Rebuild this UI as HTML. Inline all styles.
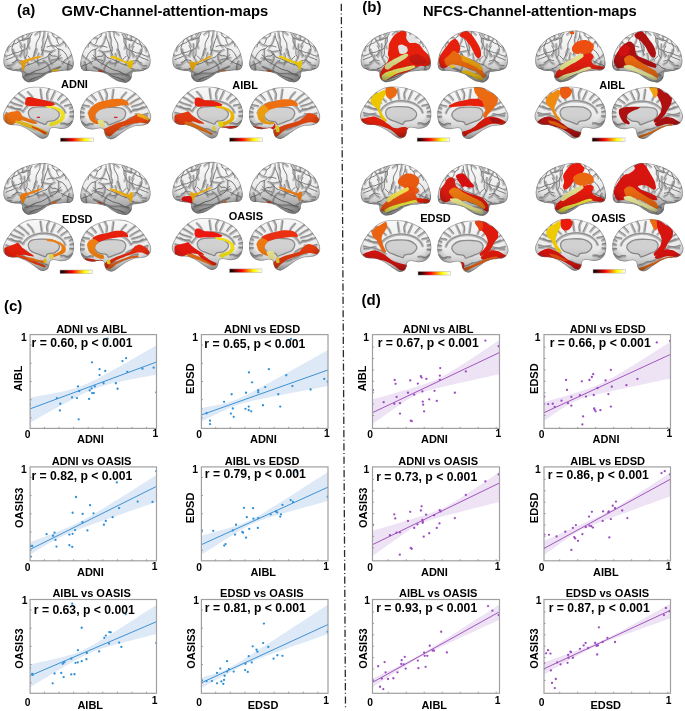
<!DOCTYPE html><html><head><meta charset="utf-8"><style>html,body{margin:0;padding:0;background:#fff;}svg{display:block;}</style></head><body><svg width="685" height="711" viewBox="0 0 685 711" font-family="'Liberation Sans', Arial, Helvetica, sans-serif" font-weight="bold">
<rect width="685" height="711" fill="#fff"/>
<defs><linearGradient id="gl" x1="0" y1="0" x2="0" y2="1"><stop offset="0" stop-color="#fafafa"/><stop offset="0.55" stop-color="#eeeeee"/><stop offset="1" stop-color="#c8c8c8"/></linearGradient><linearGradient id="gm" x1="0" y1="0" x2="0" y2="1"><stop offset="0" stop-color="#f8f8f8"/><stop offset="0.7" stop-color="#ececec"/><stop offset="1" stop-color="#cccccc"/></linearGradient><linearGradient id="shL" x1="0" y1="0" x2="0" y2="1"><stop offset="0" stop-color="#000" stop-opacity="0"/><stop offset="0.55" stop-color="#000" stop-opacity="0.02"/><stop offset="1" stop-color="#000" stop-opacity="0.22"/></linearGradient><radialGradient id="rimL" cx="0.5" cy="0.42" r="0.62"><stop offset="0.7" stop-color="#000" stop-opacity="0"/><stop offset="1" stop-color="#000" stop-opacity="0.30"/></radialGradient><filter id="tb" x="-0.2" y="-0.2" width="1.4" height="1.4"><feGaussianBlur stdDeviation="1.5"/></filter><filter id="sb" x="-0.1" y="-0.1" width="1.2" height="1.2" color-interpolation-filters="sRGB"><feGaussianBlur stdDeviation="0.7"/></filter><filter id="tex" x="0" y="0" width="71" height="53" filterUnits="userSpaceOnUse" color-interpolation-filters="sRGB"><feTurbulence type="turbulence" baseFrequency="0.11 0.15" numOctaves="2" seed="11"/><feColorMatrix type="matrix" values="0 0 0 0 0.38  0 0 0 0 0.38  0 0 0 0 0.38  -3.4 0 0 0 1.0"/></filter><filter id="texm" x="0" y="0" width="71" height="53" filterUnits="userSpaceOnUse" color-interpolation-filters="sRGB"><feTurbulence type="turbulence" baseFrequency="0.10 0.13" numOctaves="2" seed="4"/><feColorMatrix type="matrix" values="0 0 0 0 0.40  0 0 0 0 0.40  0 0 0 0 0.40  -3.4 0 0 0 0.9"/></filter><path id="latO" d="M0.40,31.00 C0.40,28.43 1.15,24.55 2.10,21.90 C3.05,19.25 4.30,17.28 6.10,15.10 C7.90,12.92 10.25,10.60 12.90,8.80 C15.55,7.00 18.77,5.53 22.00,4.30 C25.23,3.07 28.87,1.98 32.30,1.40 C35.73,0.82 39.37,0.42 42.60,0.80 C45.83,1.18 48.87,2.27 51.70,3.70 C54.53,5.13 57.13,6.93 59.60,9.40 C62.07,11.87 64.78,15.47 66.50,18.50 C68.22,21.53 69.23,24.75 69.90,27.60 C70.57,30.45 70.88,33.52 70.50,35.60 C70.12,37.68 69.22,39.25 67.60,40.10 C65.98,40.95 63.45,40.42 60.80,40.70 C58.15,40.98 54.37,41.32 51.70,41.80 C49.03,42.28 47.08,42.55 44.80,43.60 C42.52,44.65 40.27,46.78 38.00,48.10 C35.73,49.42 33.48,50.83 31.20,51.50 C28.92,52.17 26.20,52.67 24.30,52.10 C22.40,51.53 20.75,49.72 19.80,48.10 C18.85,46.48 19.55,43.53 18.60,42.40 C17.65,41.27 15.98,41.68 14.10,41.30 C12.22,40.92 9.30,40.77 7.30,40.10 C5.30,39.43 3.25,38.82 2.10,37.30 C0.95,35.78 0.40,33.57 0.40,31.00Z"/><path id="medO" d="M0.00,30.70 C-0.18,28.62 0.55,26.55 1.80,23.90 C3.05,21.25 5.42,17.55 7.50,14.80 C9.58,12.05 11.83,9.48 14.30,7.40 C16.77,5.32 19.45,3.45 22.30,2.30 C25.15,1.15 27.98,0.70 31.40,0.50 C34.82,0.30 39.00,0.43 42.80,1.10 C46.60,1.77 50.78,2.98 54.20,4.50 C57.62,6.02 60.83,7.92 63.30,10.20 C65.77,12.48 67.68,15.53 69.00,18.20 C70.32,20.87 71.02,23.35 71.20,26.20 C71.38,29.05 71.05,32.83 70.10,35.30 C69.15,37.77 67.40,39.77 65.50,41.00 C63.60,42.23 61.17,42.62 58.70,42.70 C56.23,42.78 52.60,41.40 50.70,41.50 C48.80,41.60 48.05,42.25 47.30,43.30 C46.55,44.35 46.77,46.48 46.20,47.80 C45.63,49.12 45.05,50.43 43.90,51.20 C42.75,51.97 40.82,52.58 39.30,52.40 C37.78,52.22 36.88,51.43 34.80,50.10 C32.72,48.77 29.65,46.12 26.80,44.40 C23.95,42.68 20.73,40.75 17.70,39.80 C14.67,38.85 11.07,39.27 8.60,38.70 C6.13,38.13 4.33,37.73 2.90,36.40 C1.47,35.07 0.18,32.78 0.00,30.70Z"/><path id="ccO" d="M25.70,25.00 C26.18,23.67 27.20,22.35 29.10,21.60 C31.00,20.85 33.87,20.60 37.10,20.50 C40.33,20.40 45.47,20.25 48.50,21.00 C51.53,21.75 53.98,23.57 55.30,25.00 C56.62,26.43 56.97,28.08 56.40,29.60 C55.83,31.12 53.80,33.15 51.90,34.10 C50.00,35.05 46.52,34.63 45.00,35.30 C43.48,35.97 43.75,37.82 42.80,38.10 C41.85,38.38 40.63,37.47 39.30,37.00 C37.97,36.53 36.50,35.97 34.80,35.30 C33.10,34.63 30.53,33.95 29.10,33.00 C27.67,32.05 26.77,30.93 26.20,29.60 C25.63,28.27 25.22,26.33 25.70,25.00Z"/><clipPath id="clL"><use href="#latO"/></clipPath><clipPath id="clM"><use href="#medO"/></clipPath><g id="baseL"><use href="#latO" fill="url(#gl)"/><g clip-path="url(#clL)"><path d="M-4.22,-7.50 C-4.27,-6.85 -4.73,-4.86 -4.49,-3.63 C-4.25,-2.41 -3.63,-1.06 -2.79,-0.15 C-1.95,0.76 -0.01,1.49 0.55,1.82 M2.76,-3.88 C3.54,-3.88 5.93,-4.17 7.42,-3.86 C8.91,-3.55 10.26,-2.61 11.70,-2.01 C13.13,-1.42 15.30,-0.57 16.02,-0.28 M21.77,-9.69 C21.33,-9.11 20.15,-7.20 19.11,-6.19 C18.07,-5.17 16.82,-4.32 15.56,-3.59 C14.29,-2.85 12.21,-2.07 11.55,-1.77 M26.14,-4.48 C26.15,-3.94 26.41,-2.25 26.20,-1.21 C25.99,-0.17 25.30,0.77 24.87,1.77 C24.44,2.78 23.84,4.30 23.64,4.80 M42.14,-4.36 C41.69,-3.76 40.53,-1.75 39.45,-0.74 C38.37,0.27 36.89,0.84 35.66,1.70 C34.42,2.55 32.64,3.93 32.03,4.38 M46.90,-3.63 C47.21,-3.25 48.39,-2.22 48.76,-1.35 C49.14,-0.49 48.97,0.60 49.13,1.56 C49.29,2.53 49.63,3.96 49.73,4.44 M57.81,-8.09 C57.69,-7.53 57.38,-5.83 57.09,-4.73 C56.79,-3.62 56.43,-2.53 56.02,-1.46 C55.61,-0.39 54.86,1.16 54.63,1.68 M73.19,-3.47 C72.47,-3.59 70.27,-3.81 68.87,-4.21 C67.47,-4.60 66.20,-5.56 64.80,-5.81 C63.39,-6.06 61.15,-5.70 60.42,-5.68 M9.90,6.00 C9.30,6.20 7.39,6.63 6.30,7.24 C5.21,7.84 4.44,9.05 3.34,9.62 C2.23,10.20 0.29,10.50 -0.32,10.68 M7.19,8.14 C7.92,8.16 10.18,8.57 11.56,8.25 C12.94,7.94 14.09,6.69 15.46,6.28 C16.84,5.87 19.09,5.89 19.81,5.81 M21.21,-2.55 C20.90,-1.92 19.60,-0.11 19.36,1.22 C19.11,2.55 19.71,4.01 19.74,5.41 C19.77,6.81 19.58,8.91 19.55,9.61 M28.72,0.90 C28.27,1.49 26.93,3.25 26.04,4.42 C25.14,5.60 24.48,7.12 23.33,7.93 C22.17,8.74 19.82,9.07 19.11,9.30 M41.65,-0.21 C41.57,0.24 41.25,1.57 41.12,2.47 C41.00,3.37 41.03,4.29 40.89,5.19 C40.76,6.08 40.40,7.41 40.30,7.85 M52.23,0.54 C51.68,0.52 49.97,0.74 48.93,0.47 C47.90,0.19 47.04,-0.65 46.04,-1.10 C45.04,-1.55 43.46,-2.04 42.94,-2.23 M62.93,1.56 C62.52,2.05 61.32,3.58 60.42,4.49 C59.52,5.40 58.63,6.48 57.51,7.02 C56.40,7.57 54.36,7.63 53.72,7.75 M72.60,2.25 C72.33,2.70 71.73,4.27 70.99,4.95 C70.25,5.64 69.12,5.90 68.17,6.35 C67.23,6.80 65.80,7.45 65.33,7.67 M-1.00,5.20 C-0.72,5.77 0.21,7.46 0.69,8.63 C1.17,9.81 1.59,11.03 1.89,12.27 C2.19,13.50 2.40,15.41 2.50,16.04 M3.91,9.00 C4.10,9.64 4.83,11.54 5.05,12.86 C5.27,14.17 5.34,15.56 5.21,16.88 C5.07,18.20 4.39,20.13 4.23,20.78 M12.45,4.48 C12.82,5.15 13.88,7.18 14.65,8.51 C15.42,9.83 16.33,11.08 17.06,12.42 C17.78,13.77 18.69,15.88 19.01,16.58 M25.52,8.14 C25.43,8.70 25.03,10.38 24.99,11.51 C24.94,12.63 25.09,13.78 25.27,14.90 C25.44,16.02 25.91,17.66 26.04,18.21 M40.81,5.57 C40.62,6.23 39.83,8.20 39.68,9.55 C39.53,10.90 40.09,12.34 39.92,13.68 C39.75,15.03 38.87,16.97 38.66,17.62 M45.34,6.19 C45.49,6.85 45.79,8.88 46.21,10.16 C46.64,11.43 47.22,12.69 47.90,13.85 C48.58,15.01 49.89,16.59 50.29,17.14 M61.06,11.38 C60.69,11.72 59.64,12.81 58.85,13.42 C58.06,14.03 57.24,14.71 56.32,15.04 C55.40,15.36 53.83,15.30 53.33,15.35 M62.51,6.99 C62.89,7.47 64.26,8.82 64.83,9.90 C65.41,10.98 65.83,12.24 65.95,13.45 C66.08,14.66 65.64,16.54 65.58,17.16 M-2.52,15.74 C-2.39,16.39 -2.12,18.36 -1.75,19.62 C-1.38,20.88 -1.01,22.23 -0.28,23.28 C0.45,24.34 2.14,25.52 2.63,25.96 M9.86,19.24 C10.03,19.78 10.48,21.40 10.86,22.45 C11.24,23.50 11.67,24.54 12.15,25.55 C12.64,26.56 13.51,28.00 13.78,28.49 M21.20,13.98 C21.24,14.74 21.79,17.12 21.46,18.53 C21.12,19.94 19.87,21.12 19.16,22.46 C18.45,23.80 17.51,25.88 17.19,26.57 M33.49,18.88 C33.30,19.54 32.84,21.59 32.33,22.87 C31.82,24.15 31.07,25.34 30.41,26.56 C29.76,27.78 28.75,29.60 28.42,30.20 M38.88,16.99 C38.88,17.46 38.77,18.87 38.89,19.79 C39.02,20.71 39.55,21.59 39.62,22.50 C39.68,23.42 39.36,24.82 39.30,25.29 M51.73,19.85 C51.03,20.12 48.97,21.29 47.52,21.47 C46.07,21.66 44.51,21.20 43.03,20.97 C41.55,20.73 39.35,20.20 38.61,20.05 M55.48,19.07 C55.49,19.61 55.53,21.24 55.54,22.33 C55.54,23.42 55.45,24.51 55.49,25.60 C55.53,26.68 55.73,28.31 55.78,28.85 M72.61,18.23 C72.35,18.69 71.54,20.05 71.02,20.97 C70.50,21.90 70.14,22.94 69.50,23.76 C68.85,24.57 67.53,25.52 67.14,25.88 M-1.38,22.04 C-1.28,22.75 -0.72,24.88 -0.77,26.29 C-0.81,27.71 -1.03,29.26 -1.65,30.50 C-2.27,31.75 -3.99,33.22 -4.46,33.76 M4.47,35.45 C5.12,35.38 7.20,35.51 8.37,35.06 C9.55,34.60 10.60,33.63 11.52,32.72 C12.45,31.81 13.52,30.13 13.92,29.61 M14.09,25.24 C14.05,25.84 13.56,27.72 13.82,28.84 C14.07,29.96 14.79,31.15 15.62,31.97 C16.44,32.79 18.23,33.46 18.76,33.75 M21.34,21.42 C21.32,22.19 20.88,24.58 21.21,26.03 C21.54,27.49 22.60,28.78 23.30,30.15 C23.99,31.53 25.03,33.59 25.37,34.27 M35.44,23.16 C35.30,23.81 34.76,25.73 34.59,27.03 C34.42,28.34 34.22,29.70 34.40,30.99 C34.58,32.27 35.44,34.12 35.65,34.74 M47.20,22.34 C46.97,22.99 45.96,24.89 45.85,26.21 C45.74,27.53 46.06,29.00 46.53,30.25 C47.01,31.51 48.33,33.16 48.69,33.74 M58.15,27.75 C57.60,27.93 56.00,28.55 54.89,28.83 C53.79,29.11 52.63,29.18 51.52,29.43 C50.40,29.67 48.76,30.15 48.20,30.29 M67.22,26.40 C66.73,26.73 65.26,27.69 64.31,28.37 C63.36,29.04 62.31,29.64 61.50,30.46 C60.69,31.29 59.79,32.83 59.45,33.31 M0.46,44.30 C0.70,43.77 1.18,42.00 1.87,41.08 C2.55,40.16 3.52,39.29 4.54,38.80 C5.57,38.32 7.43,38.27 8.00,38.17 M6.75,39.96 C7.27,40.05 8.85,40.58 9.89,40.53 C10.92,40.49 11.92,39.76 12.96,39.68 C14.00,39.59 15.60,39.95 16.13,40.01 M16.98,39.60 C17.56,39.93 19.34,40.85 20.48,41.55 C21.62,42.24 22.60,43.31 23.82,43.75 C25.04,44.19 27.13,44.11 27.80,44.18 M30.19,28.98 C30.70,29.46 32.06,31.21 33.24,31.88 C34.43,32.56 35.94,32.97 37.30,33.02 C38.67,33.06 40.74,32.29 41.43,32.14 M40.28,30.45 C40.86,30.88 42.83,31.98 43.77,33.04 C44.71,34.10 45.35,35.49 45.93,36.81 C46.52,38.13 47.05,40.26 47.27,40.95 M46.17,42.39 C46.71,41.92 48.20,40.33 49.39,39.59 C50.58,38.86 52.01,38.50 53.33,37.96 C54.65,37.43 56.63,36.64 57.29,36.38 M66.19,31.15 C65.97,31.88 65.14,34.01 64.85,35.49 C64.55,36.96 64.63,38.51 64.44,40.00 C64.25,41.50 63.81,43.73 63.69,44.48 M70.50,32.00 C70.53,32.53 70.78,34.12 70.68,35.16 C70.59,36.20 70.10,37.20 69.91,38.23 C69.72,39.27 69.60,40.85 69.54,41.38 M-7.31,48.60 C-7.03,48.08 -6.18,46.55 -5.62,45.52 C-5.06,44.50 -4.73,43.24 -3.94,42.45 C-3.15,41.66 -1.38,41.05 -0.87,40.77 M3.20,52.89 C3.75,52.51 5.35,51.24 6.53,50.60 C7.71,49.95 9.02,49.54 10.27,49.04 C11.52,48.53 13.41,47.80 14.04,47.56 M12.82,45.61 C13.31,45.57 14.81,45.32 15.78,45.40 C16.75,45.48 17.82,45.63 18.67,46.07 C19.52,46.51 20.51,47.71 20.88,48.04 M22.08,45.64 C22.57,45.55 24.13,45.44 25.06,45.08 C25.99,44.73 26.77,43.99 27.66,43.51 C28.55,43.03 29.95,42.42 30.41,42.20 M27.92,44.37 C28.66,44.22 30.89,43.57 32.40,43.46 C33.91,43.34 35.44,43.67 36.97,43.66 C38.49,43.65 40.77,43.44 41.53,43.39 M44.35,50.08 C44.49,49.58 44.93,48.09 45.21,47.10 C45.48,46.10 45.80,45.11 45.99,44.09 C46.18,43.08 46.28,41.53 46.34,41.01 M47.68,49.20 C48.03,48.59 48.80,46.47 49.78,45.55 C50.76,44.63 52.31,44.32 53.56,43.68 C54.81,43.04 56.67,42.05 57.29,41.72 M58.99,44.31 C59.66,44.57 61.66,45.37 63.00,45.87 C64.35,46.38 65.79,46.69 67.05,47.35 C68.32,48.00 69.99,49.41 70.58,49.83 M-1.71,53.03 C-0.95,53.10 1.36,53.53 2.86,53.41 C4.37,53.29 5.93,52.89 7.32,52.30 C8.70,51.71 10.55,50.27 11.20,49.86 M8.02,52.40 C8.73,52.55 10.86,53.29 12.29,53.34 C13.73,53.38 15.24,53.08 16.62,52.66 C17.99,52.23 19.90,51.08 20.56,50.77 M13.37,53.62 C14.11,53.66 16.43,53.46 17.83,53.85 C19.23,54.24 20.39,55.40 21.77,55.95 C23.14,56.49 25.36,56.93 26.08,57.12 M28.59,59.75 C28.97,59.46 30.20,58.69 30.87,58.03 C31.55,57.38 32.13,56.60 32.66,55.81 C33.19,55.02 33.81,53.73 34.04,53.31 M39.41,60.33 C39.58,59.80 40.09,58.22 40.42,57.15 C40.75,56.09 41.25,55.04 41.37,53.96 C41.50,52.87 41.21,51.18 41.18,50.63 M45.86,60.24 C46.23,59.73 47.46,58.27 48.04,57.17 C48.61,56.07 48.78,54.77 49.31,53.64 C49.85,52.52 50.94,50.97 51.26,50.43 M53.28,55.29 C53.55,55.68 54.31,56.90 54.91,57.64 C55.51,58.38 56.35,58.94 56.87,59.72 C57.40,60.50 57.87,61.89 58.07,62.32 M65.00,53.07 C65.61,53.31 67.41,54.24 68.69,54.55 C69.96,54.87 71.37,54.63 72.64,54.96 C73.91,55.29 75.68,56.27 76.29,56.54" fill="none" stroke="#a8a8a8" stroke-width="2.6" stroke-opacity="0.6" stroke-linecap="round" filter="url(#sb)" transform="translate(0.4,0.5)"/><path d="M-4.22,-7.50 C-4.27,-6.85 -4.73,-4.86 -4.49,-3.63 C-4.25,-2.41 -3.63,-1.06 -2.79,-0.15 C-1.95,0.76 -0.01,1.49 0.55,1.82 M2.76,-3.88 C3.54,-3.88 5.93,-4.17 7.42,-3.86 C8.91,-3.55 10.26,-2.61 11.70,-2.01 C13.13,-1.42 15.30,-0.57 16.02,-0.28 M21.77,-9.69 C21.33,-9.11 20.15,-7.20 19.11,-6.19 C18.07,-5.17 16.82,-4.32 15.56,-3.59 C14.29,-2.85 12.21,-2.07 11.55,-1.77 M26.14,-4.48 C26.15,-3.94 26.41,-2.25 26.20,-1.21 C25.99,-0.17 25.30,0.77 24.87,1.77 C24.44,2.78 23.84,4.30 23.64,4.80 M42.14,-4.36 C41.69,-3.76 40.53,-1.75 39.45,-0.74 C38.37,0.27 36.89,0.84 35.66,1.70 C34.42,2.55 32.64,3.93 32.03,4.38 M46.90,-3.63 C47.21,-3.25 48.39,-2.22 48.76,-1.35 C49.14,-0.49 48.97,0.60 49.13,1.56 C49.29,2.53 49.63,3.96 49.73,4.44 M57.81,-8.09 C57.69,-7.53 57.38,-5.83 57.09,-4.73 C56.79,-3.62 56.43,-2.53 56.02,-1.46 C55.61,-0.39 54.86,1.16 54.63,1.68 M73.19,-3.47 C72.47,-3.59 70.27,-3.81 68.87,-4.21 C67.47,-4.60 66.20,-5.56 64.80,-5.81 C63.39,-6.06 61.15,-5.70 60.42,-5.68 M9.90,6.00 C9.30,6.20 7.39,6.63 6.30,7.24 C5.21,7.84 4.44,9.05 3.34,9.62 C2.23,10.20 0.29,10.50 -0.32,10.68 M7.19,8.14 C7.92,8.16 10.18,8.57 11.56,8.25 C12.94,7.94 14.09,6.69 15.46,6.28 C16.84,5.87 19.09,5.89 19.81,5.81 M21.21,-2.55 C20.90,-1.92 19.60,-0.11 19.36,1.22 C19.11,2.55 19.71,4.01 19.74,5.41 C19.77,6.81 19.58,8.91 19.55,9.61 M28.72,0.90 C28.27,1.49 26.93,3.25 26.04,4.42 C25.14,5.60 24.48,7.12 23.33,7.93 C22.17,8.74 19.82,9.07 19.11,9.30 M41.65,-0.21 C41.57,0.24 41.25,1.57 41.12,2.47 C41.00,3.37 41.03,4.29 40.89,5.19 C40.76,6.08 40.40,7.41 40.30,7.85 M52.23,0.54 C51.68,0.52 49.97,0.74 48.93,0.47 C47.90,0.19 47.04,-0.65 46.04,-1.10 C45.04,-1.55 43.46,-2.04 42.94,-2.23 M62.93,1.56 C62.52,2.05 61.32,3.58 60.42,4.49 C59.52,5.40 58.63,6.48 57.51,7.02 C56.40,7.57 54.36,7.63 53.72,7.75 M72.60,2.25 C72.33,2.70 71.73,4.27 70.99,4.95 C70.25,5.64 69.12,5.90 68.17,6.35 C67.23,6.80 65.80,7.45 65.33,7.67 M-1.00,5.20 C-0.72,5.77 0.21,7.46 0.69,8.63 C1.17,9.81 1.59,11.03 1.89,12.27 C2.19,13.50 2.40,15.41 2.50,16.04 M3.91,9.00 C4.10,9.64 4.83,11.54 5.05,12.86 C5.27,14.17 5.34,15.56 5.21,16.88 C5.07,18.20 4.39,20.13 4.23,20.78 M12.45,4.48 C12.82,5.15 13.88,7.18 14.65,8.51 C15.42,9.83 16.33,11.08 17.06,12.42 C17.78,13.77 18.69,15.88 19.01,16.58 M25.52,8.14 C25.43,8.70 25.03,10.38 24.99,11.51 C24.94,12.63 25.09,13.78 25.27,14.90 C25.44,16.02 25.91,17.66 26.04,18.21 M40.81,5.57 C40.62,6.23 39.83,8.20 39.68,9.55 C39.53,10.90 40.09,12.34 39.92,13.68 C39.75,15.03 38.87,16.97 38.66,17.62 M45.34,6.19 C45.49,6.85 45.79,8.88 46.21,10.16 C46.64,11.43 47.22,12.69 47.90,13.85 C48.58,15.01 49.89,16.59 50.29,17.14 M61.06,11.38 C60.69,11.72 59.64,12.81 58.85,13.42 C58.06,14.03 57.24,14.71 56.32,15.04 C55.40,15.36 53.83,15.30 53.33,15.35 M62.51,6.99 C62.89,7.47 64.26,8.82 64.83,9.90 C65.41,10.98 65.83,12.24 65.95,13.45 C66.08,14.66 65.64,16.54 65.58,17.16 M-2.52,15.74 C-2.39,16.39 -2.12,18.36 -1.75,19.62 C-1.38,20.88 -1.01,22.23 -0.28,23.28 C0.45,24.34 2.14,25.52 2.63,25.96 M9.86,19.24 C10.03,19.78 10.48,21.40 10.86,22.45 C11.24,23.50 11.67,24.54 12.15,25.55 C12.64,26.56 13.51,28.00 13.78,28.49 M21.20,13.98 C21.24,14.74 21.79,17.12 21.46,18.53 C21.12,19.94 19.87,21.12 19.16,22.46 C18.45,23.80 17.51,25.88 17.19,26.57 M33.49,18.88 C33.30,19.54 32.84,21.59 32.33,22.87 C31.82,24.15 31.07,25.34 30.41,26.56 C29.76,27.78 28.75,29.60 28.42,30.20 M38.88,16.99 C38.88,17.46 38.77,18.87 38.89,19.79 C39.02,20.71 39.55,21.59 39.62,22.50 C39.68,23.42 39.36,24.82 39.30,25.29 M51.73,19.85 C51.03,20.12 48.97,21.29 47.52,21.47 C46.07,21.66 44.51,21.20 43.03,20.97 C41.55,20.73 39.35,20.20 38.61,20.05 M55.48,19.07 C55.49,19.61 55.53,21.24 55.54,22.33 C55.54,23.42 55.45,24.51 55.49,25.60 C55.53,26.68 55.73,28.31 55.78,28.85 M72.61,18.23 C72.35,18.69 71.54,20.05 71.02,20.97 C70.50,21.90 70.14,22.94 69.50,23.76 C68.85,24.57 67.53,25.52 67.14,25.88 M-1.38,22.04 C-1.28,22.75 -0.72,24.88 -0.77,26.29 C-0.81,27.71 -1.03,29.26 -1.65,30.50 C-2.27,31.75 -3.99,33.22 -4.46,33.76 M4.47,35.45 C5.12,35.38 7.20,35.51 8.37,35.06 C9.55,34.60 10.60,33.63 11.52,32.72 C12.45,31.81 13.52,30.13 13.92,29.61 M14.09,25.24 C14.05,25.84 13.56,27.72 13.82,28.84 C14.07,29.96 14.79,31.15 15.62,31.97 C16.44,32.79 18.23,33.46 18.76,33.75 M21.34,21.42 C21.32,22.19 20.88,24.58 21.21,26.03 C21.54,27.49 22.60,28.78 23.30,30.15 C23.99,31.53 25.03,33.59 25.37,34.27 M35.44,23.16 C35.30,23.81 34.76,25.73 34.59,27.03 C34.42,28.34 34.22,29.70 34.40,30.99 C34.58,32.27 35.44,34.12 35.65,34.74 M47.20,22.34 C46.97,22.99 45.96,24.89 45.85,26.21 C45.74,27.53 46.06,29.00 46.53,30.25 C47.01,31.51 48.33,33.16 48.69,33.74 M58.15,27.75 C57.60,27.93 56.00,28.55 54.89,28.83 C53.79,29.11 52.63,29.18 51.52,29.43 C50.40,29.67 48.76,30.15 48.20,30.29 M67.22,26.40 C66.73,26.73 65.26,27.69 64.31,28.37 C63.36,29.04 62.31,29.64 61.50,30.46 C60.69,31.29 59.79,32.83 59.45,33.31 M0.46,44.30 C0.70,43.77 1.18,42.00 1.87,41.08 C2.55,40.16 3.52,39.29 4.54,38.80 C5.57,38.32 7.43,38.27 8.00,38.17 M6.75,39.96 C7.27,40.05 8.85,40.58 9.89,40.53 C10.92,40.49 11.92,39.76 12.96,39.68 C14.00,39.59 15.60,39.95 16.13,40.01 M16.98,39.60 C17.56,39.93 19.34,40.85 20.48,41.55 C21.62,42.24 22.60,43.31 23.82,43.75 C25.04,44.19 27.13,44.11 27.80,44.18 M30.19,28.98 C30.70,29.46 32.06,31.21 33.24,31.88 C34.43,32.56 35.94,32.97 37.30,33.02 C38.67,33.06 40.74,32.29 41.43,32.14 M40.28,30.45 C40.86,30.88 42.83,31.98 43.77,33.04 C44.71,34.10 45.35,35.49 45.93,36.81 C46.52,38.13 47.05,40.26 47.27,40.95 M46.17,42.39 C46.71,41.92 48.20,40.33 49.39,39.59 C50.58,38.86 52.01,38.50 53.33,37.96 C54.65,37.43 56.63,36.64 57.29,36.38 M66.19,31.15 C65.97,31.88 65.14,34.01 64.85,35.49 C64.55,36.96 64.63,38.51 64.44,40.00 C64.25,41.50 63.81,43.73 63.69,44.48 M70.50,32.00 C70.53,32.53 70.78,34.12 70.68,35.16 C70.59,36.20 70.10,37.20 69.91,38.23 C69.72,39.27 69.60,40.85 69.54,41.38 M-7.31,48.60 C-7.03,48.08 -6.18,46.55 -5.62,45.52 C-5.06,44.50 -4.73,43.24 -3.94,42.45 C-3.15,41.66 -1.38,41.05 -0.87,40.77 M3.20,52.89 C3.75,52.51 5.35,51.24 6.53,50.60 C7.71,49.95 9.02,49.54 10.27,49.04 C11.52,48.53 13.41,47.80 14.04,47.56 M12.82,45.61 C13.31,45.57 14.81,45.32 15.78,45.40 C16.75,45.48 17.82,45.63 18.67,46.07 C19.52,46.51 20.51,47.71 20.88,48.04 M22.08,45.64 C22.57,45.55 24.13,45.44 25.06,45.08 C25.99,44.73 26.77,43.99 27.66,43.51 C28.55,43.03 29.95,42.42 30.41,42.20 M27.92,44.37 C28.66,44.22 30.89,43.57 32.40,43.46 C33.91,43.34 35.44,43.67 36.97,43.66 C38.49,43.65 40.77,43.44 41.53,43.39 M44.35,50.08 C44.49,49.58 44.93,48.09 45.21,47.10 C45.48,46.10 45.80,45.11 45.99,44.09 C46.18,43.08 46.28,41.53 46.34,41.01 M47.68,49.20 C48.03,48.59 48.80,46.47 49.78,45.55 C50.76,44.63 52.31,44.32 53.56,43.68 C54.81,43.04 56.67,42.05 57.29,41.72 M58.99,44.31 C59.66,44.57 61.66,45.37 63.00,45.87 C64.35,46.38 65.79,46.69 67.05,47.35 C68.32,48.00 69.99,49.41 70.58,49.83 M-1.71,53.03 C-0.95,53.10 1.36,53.53 2.86,53.41 C4.37,53.29 5.93,52.89 7.32,52.30 C8.70,51.71 10.55,50.27 11.20,49.86 M8.02,52.40 C8.73,52.55 10.86,53.29 12.29,53.34 C13.73,53.38 15.24,53.08 16.62,52.66 C17.99,52.23 19.90,51.08 20.56,50.77 M13.37,53.62 C14.11,53.66 16.43,53.46 17.83,53.85 C19.23,54.24 20.39,55.40 21.77,55.95 C23.14,56.49 25.36,56.93 26.08,57.12 M28.59,59.75 C28.97,59.46 30.20,58.69 30.87,58.03 C31.55,57.38 32.13,56.60 32.66,55.81 C33.19,55.02 33.81,53.73 34.04,53.31 M39.41,60.33 C39.58,59.80 40.09,58.22 40.42,57.15 C40.75,56.09 41.25,55.04 41.37,53.96 C41.50,52.87 41.21,51.18 41.18,50.63 M45.86,60.24 C46.23,59.73 47.46,58.27 48.04,57.17 C48.61,56.07 48.78,54.77 49.31,53.64 C49.85,52.52 50.94,50.97 51.26,50.43 M53.28,55.29 C53.55,55.68 54.31,56.90 54.91,57.64 C55.51,58.38 56.35,58.94 56.87,59.72 C57.40,60.50 57.87,61.89 58.07,62.32 M65.00,53.07 C65.61,53.31 67.41,54.24 68.69,54.55 C69.96,54.87 71.37,54.63 72.64,54.96 C73.91,55.29 75.68,56.27 76.29,56.54" fill="none" stroke="#7e7e7e" stroke-width="0.7" stroke-linecap="round"/><path d="M17.00,39.00 C17.65,38.79 19.74,38.38 20.91,37.72 C22.08,37.05 22.61,35.69 24.00,35.00 C25.39,34.31 27.56,34.24 29.23,33.57 C30.90,32.91 32.38,31.79 34.00,31.00 C35.62,30.21 37.26,29.49 38.93,28.82 C40.60,28.16 42.81,27.79 44.00,27.00 C45.19,26.21 45.26,24.92 46.09,24.09 C46.92,23.26 48.52,22.35 49.00,22.00 M37.00,2.00 C36.98,2.70 37.18,4.88 36.85,6.21 C36.52,7.55 35.61,8.74 35.00,10.00 C34.39,11.26 33.52,12.46 33.19,13.80 C32.86,15.13 33.30,16.66 33.00,18.00 C32.70,19.34 31.72,20.51 31.39,21.85 C31.05,23.18 31.06,25.31 31.00,26.00 M29.00,4.00 C28.66,4.62 27.27,6.40 26.94,7.73 C26.60,9.07 27.41,10.69 27.00,12.00 C26.59,13.31 24.99,14.29 24.49,15.62 C23.99,16.96 24.08,18.56 24.00,20.00 C23.92,21.44 24.37,22.92 24.03,24.26 C23.70,25.59 22.34,27.38 22.00,28.00 M45.00,3.00 C44.94,3.69 44.94,5.82 44.61,7.15 C44.28,8.49 43.45,9.78 43.00,11.00 C42.55,12.22 42.23,13.30 41.90,14.47 C41.56,15.64 41.35,16.81 41.00,18.00 C40.65,19.19 40.29,20.46 39.79,21.62 C39.29,22.79 38.30,24.44 38.00,25.00 M7.00,17.00 C7.53,16.57 9.02,15.12 10.19,14.45 C11.35,13.78 12.84,13.64 14.00,13.00 C15.16,12.36 15.96,11.12 17.12,10.62 C18.29,10.12 19.87,10.31 21.00,10.00 C22.13,9.69 22.92,9.10 23.92,8.76 C24.92,8.43 26.49,8.13 27.00,8.00 M4.00,26.00 C4.60,25.80 6.45,25.27 7.62,24.77 C8.78,24.27 9.83,23.37 11.00,23.00 C12.17,22.63 13.49,22.89 14.66,22.56 C15.83,22.22 16.89,21.40 18.00,21.00 C19.11,20.60 20.32,20.63 21.32,20.13 C22.32,19.63 23.55,18.36 24.00,18.00 M22.00,45.00 C22.88,44.78 25.59,44.32 27.26,43.65 C28.93,42.99 30.16,41.74 32.00,41.00 C33.84,40.26 36.30,40.05 38.30,39.21 C40.30,38.38 42.30,36.96 44.00,36.00 C45.70,35.04 46.98,34.30 48.48,33.47 C49.98,32.64 51.90,31.97 53.00,31.00 C54.10,30.03 54.23,28.63 55.06,27.63 C55.89,26.63 57.51,25.44 58.00,25.00 M27.00,50.00 C27.89,49.60 30.52,48.27 32.36,47.60 C34.19,46.94 36.29,46.81 38.00,46.00 C39.71,45.19 40.96,43.58 42.63,42.75 C44.29,41.92 46.33,41.57 48.00,41.00 C49.67,40.43 51.15,40.00 52.65,39.33 C54.15,38.66 56.27,37.39 57.00,37.00 M44.00,17.00 C44.65,16.81 46.59,16.02 47.92,15.85 C49.25,15.68 50.83,15.48 52.00,16.00 C53.17,16.52 53.78,18.30 54.95,18.96 C56.12,19.63 57.70,19.16 59.00,20.00 C60.30,20.84 61.75,22.50 62.75,24.00 C63.75,25.50 64.62,28.17 65.00,29.00 M58.00,31.00 C58.51,31.24 60.04,31.92 61.04,32.42 C62.04,32.92 63.07,33.62 64.00,34.00 C64.93,34.38 65.78,34.38 66.61,34.72 C67.45,35.05 68.60,35.79 69.00,36.00 M9.00,33.00 C9.43,32.77 10.75,32.15 11.59,31.65 C12.42,31.15 13.18,30.22 14.00,30.00 C14.82,29.78 15.70,30.17 16.53,30.33 C17.37,30.50 18.59,30.89 19.00,31.00 M3.00,30.00 C3.41,29.82 4.62,29.23 5.46,28.89 C6.29,28.56 7.23,28.29 8.00,28.00 C8.77,27.71 9.40,27.46 10.06,27.13 C10.73,26.79 11.68,26.19 12.00,26.00 M12.00,10.00 C11.84,10.42 11.39,11.69 11.06,12.52 C10.72,13.36 10.32,14.18 10.00,15.00 C9.68,15.82 9.30,16.59 9.13,17.43 C8.96,18.26 8.92,19.13 9.00,20.00 C9.08,20.87 9.30,21.81 9.63,22.65 C9.96,23.48 10.77,24.61 11.00,25.00 M50.00,6.00 C50.40,6.27 51.74,6.92 52.41,7.59 C53.08,8.26 53.63,9.23 54.00,10.00 C54.37,10.77 54.27,11.53 54.60,12.20 C54.94,12.87 55.77,13.70 56.00,14.00 M60.00,12.00 C60.38,12.34 61.81,13.18 62.31,14.01 C62.81,14.85 62.88,16.50 63.00,17.00 M47.00,24.00 C47.35,24.34 48.25,25.70 49.09,26.04 C49.92,26.37 51.04,25.81 52.00,26.00 C52.96,26.19 54.16,26.50 54.83,27.17 C55.50,27.84 55.80,29.53 56.00,30.00 M17.00,16.00 C17.22,16.40 17.98,17.54 18.31,18.38 C18.64,19.21 19.13,20.14 19.00,21.00 C18.87,21.86 18.04,22.69 17.54,23.52 C17.04,24.36 16.26,25.59 16.00,26.00 M25.00,26.00 C25.24,26.26 25.96,27.04 26.46,27.54 C26.96,28.04 27.74,28.76 28.00,29.00" fill="none" stroke="#747474" stroke-width="0.95" stroke-linecap="round"/><path d="M13,41 C18,38 24,35 34,31 C40,29 46,26 50,23 C53,27 58,30 64,33 L73,37 L73,55 L13,55Z" fill="#000" opacity="0.09" filter="url(#tb)"/></g></g><g id="baseM"><use href="#medO" fill="url(#gm)"/><g clip-path="url(#clM)"><path d="M20.23,24.88 C20.53,24.39 21.25,22.87 22.00,21.95 C22.75,21.02 23.69,20.14 24.73,19.35 C25.78,18.56 26.99,17.83 28.29,17.21 C29.58,16.59 31.01,16.06 32.48,15.64 C33.96,15.23 35.54,14.92 37.11,14.73 C38.69,14.54 40.34,14.47 41.94,14.51 C43.54,14.56 45.17,14.73 46.72,15.00 C48.26,15.28 49.79,15.68 51.20,16.18 C52.61,16.67 53.97,17.29 55.18,17.97 C56.38,18.66 57.49,19.46 58.43,20.30 C59.37,21.15 60.18,22.09 60.80,23.05 C61.43,24.01 61.94,25.57 62.17,26.07 M15.16,27.12 C14.20,27.27 11.38,28.13 9.42,28.03 C7.46,27.92 4.39,26.74 3.39,26.48 M17.70,22.62 C16.46,22.48 12.80,22.46 10.26,21.81 C7.72,21.17 3.78,19.28 2.48,18.77 M18.83,19.43 C17.54,19.05 13.42,18.11 11.08,17.15 C8.73,16.19 5.83,14.25 4.78,13.67 M20.42,16.42 C19.69,15.96 17.75,14.64 16.02,13.62 C14.30,12.61 11.07,10.90 10.07,10.35 M25.47,15.19 C24.75,14.49 22.85,12.44 21.17,11.00 C19.48,9.55 16.34,7.29 15.38,6.54 M30.44,13.46 C30.15,12.84 29.66,11.10 28.72,9.76 C27.78,8.43 25.46,6.15 24.80,5.42 M38.78,12.35 C38.66,11.57 38.31,9.27 38.08,7.66 C37.86,6.05 37.56,3.51 37.45,2.68 M44.41,12.32 C44.34,11.43 43.65,8.78 44.02,6.99 C44.40,5.21 46.22,2.51 46.66,1.61 M48.14,13.07 C48.46,12.37 49.48,10.16 50.08,8.86 C50.68,7.56 51.47,5.86 51.74,5.26 M55.03,12.95 C55.50,12.40 56.78,10.81 57.83,9.64 C58.89,8.48 60.76,6.57 61.35,5.95 M58.07,16.36 C59.22,15.57 63.12,12.95 64.97,11.63 C66.83,10.31 68.51,8.97 69.22,8.43 M61.88,19.30 C62.99,19.06 66.66,18.69 68.55,17.86 C70.43,17.03 72.41,14.91 73.18,14.32 M66.80,21.78 C67.67,21.38 70.31,19.82 71.98,19.38 C73.65,18.95 76.02,19.20 76.83,19.17 M67.26,25.61 C68.56,25.39 72.38,24.60 75.10,24.30 C77.83,24.00 82.19,23.89 83.61,23.81 M67.11,29.73 C68.23,29.82 71.51,30.14 73.81,30.25 C76.11,30.36 79.72,30.36 80.90,30.38 M4.00,29.00 C4.59,29.00 6.40,29.14 7.57,28.97 C8.73,28.81 9.83,28.04 11.00,28.00 C12.17,27.96 13.41,28.40 14.58,28.73 C15.74,29.07 16.81,29.52 18.00,30.00 C19.19,30.48 20.54,30.97 21.71,31.64 C22.87,32.31 24.45,33.61 25.00,34.00 M8.00,20.00 C8.48,20.28 9.90,21.20 10.90,21.70 C11.90,22.20 12.94,22.74 14.00,23.00 C15.06,23.26 16.24,22.95 17.24,23.28 C18.24,23.61 19.54,24.71 20.00,25.00 M28.00,41.00 C28.64,41.26 30.53,42.20 31.87,42.53 C33.20,42.87 34.67,42.61 36.00,43.00 C37.33,43.39 38.52,44.39 39.86,44.89 C41.19,45.39 43.31,45.81 44.00,46.00 M58.00,37.00 C58.52,36.98 60.11,36.69 61.11,36.85 C62.11,37.02 63.04,37.96 64.00,38.00 C64.96,38.04 66.04,37.62 66.87,37.12 C67.70,36.62 68.65,35.35 69.00,35.00 M13.00,35.00 C13.61,35.07 15.51,35.06 16.67,35.40 C17.84,35.73 18.97,36.43 20.00,37.00 C21.03,37.57 21.86,38.29 22.86,38.79 C23.86,39.29 25.48,39.80 26.00,40.00" fill="none" stroke="#a0a0a0" stroke-width="2.6" stroke-opacity="0.7" stroke-linecap="round" filter="url(#sb)" transform="translate(0.4,0.5)"/><path d="M20.23,24.88 C20.53,24.39 21.25,22.87 22.00,21.95 C22.75,21.02 23.69,20.14 24.73,19.35 C25.78,18.56 26.99,17.83 28.29,17.21 C29.58,16.59 31.01,16.06 32.48,15.64 C33.96,15.23 35.54,14.92 37.11,14.73 C38.69,14.54 40.34,14.47 41.94,14.51 C43.54,14.56 45.17,14.73 46.72,15.00 C48.26,15.28 49.79,15.68 51.20,16.18 C52.61,16.67 53.97,17.29 55.18,17.97 C56.38,18.66 57.49,19.46 58.43,20.30 C59.37,21.15 60.18,22.09 60.80,23.05 C61.43,24.01 61.94,25.57 62.17,26.07 M15.16,27.12 C14.20,27.27 11.38,28.13 9.42,28.03 C7.46,27.92 4.39,26.74 3.39,26.48 M17.70,22.62 C16.46,22.48 12.80,22.46 10.26,21.81 C7.72,21.17 3.78,19.28 2.48,18.77 M18.83,19.43 C17.54,19.05 13.42,18.11 11.08,17.15 C8.73,16.19 5.83,14.25 4.78,13.67 M20.42,16.42 C19.69,15.96 17.75,14.64 16.02,13.62 C14.30,12.61 11.07,10.90 10.07,10.35 M25.47,15.19 C24.75,14.49 22.85,12.44 21.17,11.00 C19.48,9.55 16.34,7.29 15.38,6.54 M30.44,13.46 C30.15,12.84 29.66,11.10 28.72,9.76 C27.78,8.43 25.46,6.15 24.80,5.42 M38.78,12.35 C38.66,11.57 38.31,9.27 38.08,7.66 C37.86,6.05 37.56,3.51 37.45,2.68 M44.41,12.32 C44.34,11.43 43.65,8.78 44.02,6.99 C44.40,5.21 46.22,2.51 46.66,1.61 M48.14,13.07 C48.46,12.37 49.48,10.16 50.08,8.86 C50.68,7.56 51.47,5.86 51.74,5.26 M55.03,12.95 C55.50,12.40 56.78,10.81 57.83,9.64 C58.89,8.48 60.76,6.57 61.35,5.95 M58.07,16.36 C59.22,15.57 63.12,12.95 64.97,11.63 C66.83,10.31 68.51,8.97 69.22,8.43 M61.88,19.30 C62.99,19.06 66.66,18.69 68.55,17.86 C70.43,17.03 72.41,14.91 73.18,14.32 M66.80,21.78 C67.67,21.38 70.31,19.82 71.98,19.38 C73.65,18.95 76.02,19.20 76.83,19.17 M67.26,25.61 C68.56,25.39 72.38,24.60 75.10,24.30 C77.83,24.00 82.19,23.89 83.61,23.81 M67.11,29.73 C68.23,29.82 71.51,30.14 73.81,30.25 C76.11,30.36 79.72,30.36 80.90,30.38 M4.00,29.00 C4.59,29.00 6.40,29.14 7.57,28.97 C8.73,28.81 9.83,28.04 11.00,28.00 C12.17,27.96 13.41,28.40 14.58,28.73 C15.74,29.07 16.81,29.52 18.00,30.00 C19.19,30.48 20.54,30.97 21.71,31.64 C22.87,32.31 24.45,33.61 25.00,34.00 M8.00,20.00 C8.48,20.28 9.90,21.20 10.90,21.70 C11.90,22.20 12.94,22.74 14.00,23.00 C15.06,23.26 16.24,22.95 17.24,23.28 C18.24,23.61 19.54,24.71 20.00,25.00 M28.00,41.00 C28.64,41.26 30.53,42.20 31.87,42.53 C33.20,42.87 34.67,42.61 36.00,43.00 C37.33,43.39 38.52,44.39 39.86,44.89 C41.19,45.39 43.31,45.81 44.00,46.00 M58.00,37.00 C58.52,36.98 60.11,36.69 61.11,36.85 C62.11,37.02 63.04,37.96 64.00,38.00 C64.96,38.04 66.04,37.62 66.87,37.12 C67.70,36.62 68.65,35.35 69.00,35.00 M13.00,35.00 C13.61,35.07 15.51,35.06 16.67,35.40 C17.84,35.73 18.97,36.43 20.00,37.00 C21.03,37.57 21.86,38.29 22.86,38.79 C23.86,39.29 25.48,39.80 26.00,40.00" fill="none" stroke="#7c7c7c" stroke-width="0.75" stroke-linecap="round"/></g><use href="#ccO" fill="#d4d4d4" stroke="#8e8e8e" stroke-width="1.3"/></g><g id="shadeL"><rect width="71" height="53" fill="url(#shL)"/><rect width="71" height="53" fill="url(#rimL)"/><use href="#latO" fill="none" stroke="#6a6a6a" stroke-width="1.6" stroke-opacity="0.55"/></g><g id="shadeM"><rect width="71" height="53" fill="url(#shL)" opacity="0.8"/><rect width="71" height="53" fill="url(#rimL)"/><use href="#medO" fill="none" stroke="#6a6a6a" stroke-width="1.6" stroke-opacity="0.55"/></g></defs>
<clipPath id="caADNIL1"><use href="#latO" transform="translate(3.00,30.00)"/></clipPath>
<g clip-path="url(#caADNIL1)">
<use href="#baseL" transform="translate(3.00,30.00)"/>
<path d="M20.50,61.02 C21.19,60.69 24.60,59.78 26.19,59.31 C27.78,58.85 32.63,57.44 34.16,57.04 C35.69,56.64 38.35,55.96 39.28,55.90 C40.21,55.83 42.06,56.24 42.13,56.47 C42.20,56.69 40.78,57.50 39.85,57.83 C38.92,58.17 35.49,58.88 34.16,59.31 C32.83,59.75 29.46,60.99 28.47,61.59 C27.47,62.19 26.09,63.71 25.62,64.44 C25.16,65.17 24.68,67.12 24.48,67.85 C24.28,68.58 24.18,70.44 23.91,70.70 C23.65,70.97 22.50,70.73 22.20,70.13 C21.91,69.53 21.63,66.51 21.41,65.58 C21.18,64.65 20.37,62.69 20.27,62.16 C20.16,61.63 19.81,61.35 20.50,61.02Z" fill="#f0a412"/>
<path d="M51.81,70.13 C52.34,69.76 57.28,68.89 58.07,68.99 C58.87,69.10 59.17,70.67 58.64,71.04 C58.11,71.41 54.32,72.29 53.52,72.18 C52.72,72.07 51.28,70.50 51.81,70.13Z" fill="#f0c010"/>
<use href="#shadeL" transform="translate(3.00,30.00)"/>
</g>
<clipPath id="caADNIL2"><use href="#latO" transform="translate(151.00,30.30) scale(-1,1)"/></clipPath>
<g clip-path="url(#caADNIL2)">
<use href="#baseL" transform="translate(151.00,30.30) scale(-1,1)"/>
<path d="M110.45,56.47 C110.85,56.24 113.57,55.76 114.44,55.90 C115.30,56.03 116.79,57.07 117.85,57.61 C118.92,58.14 122.35,59.99 123.55,60.45 C124.74,60.92 127.17,61.66 128.10,61.59 C129.03,61.52 130.92,59.95 131.52,59.88 C132.12,59.82 133.09,60.36 133.23,61.02 C133.36,61.69 132.99,64.65 132.66,65.58 C132.32,66.51 130.91,68.86 130.38,68.99 C129.85,69.13 128.50,67.31 128.10,66.72 C127.70,66.12 127.49,64.40 126.96,63.87 C126.43,63.34 124.48,62.56 123.55,62.16 C122.62,61.76 120.06,60.85 118.99,60.45 C117.93,60.05 115.37,59.05 114.44,58.74 C113.51,58.44 111.49,58.10 111.02,57.83 C110.56,57.57 110.05,56.69 110.45,56.47Z" fill="#f4c400"/>
<path d="M97.93,70.13 C97.99,69.92 100.15,70.16 100.77,70.36 C101.40,70.56 103.35,71.63 103.28,71.84 C103.21,72.05 100.83,72.38 100.20,72.18 C99.58,71.98 97.86,70.34 97.93,70.13Z" fill="#c03010"/>
<use href="#shadeL" transform="translate(151.00,30.30) scale(-1,1)"/>
</g>
<clipPath id="caADNIM1"><use href="#medO" transform="translate(2.80,86.30)"/></clipPath>
<g clip-path="url(#caADNIM1)">
<use href="#baseM" transform="translate(2.80,86.30)"/>
<path d="M26.19,98.23 C26.72,97.44 28.28,97.03 29.61,97.09 C30.93,97.16 35.72,98.40 37.58,98.80 C39.44,99.20 43.69,100.05 45.55,100.51 C47.41,100.98 52.46,102.26 53.52,102.79 C54.58,103.32 55.19,104.67 54.66,105.07 C54.13,105.46 50.56,106.07 48.96,106.20 C47.37,106.34 42.85,106.20 40.99,106.20 C39.13,106.20 34.68,106.27 33.02,106.20 C31.36,106.14 27.69,105.90 26.76,105.64 C25.83,105.37 25.12,104.79 25.05,103.93 C24.98,103.06 25.66,99.03 26.19,98.23Z" fill="#e8200c"/>
<path d="M45.55,106.20 C46.21,106.01 51.79,105.94 53.52,106.20 C55.25,106.47 59.09,107.75 60.35,108.48 C61.61,109.21 63.80,111.47 64.34,112.47 C64.87,113.46 65.17,115.96 64.91,117.02 C64.64,118.08 62.99,120.71 62.06,121.58 C61.13,122.44 58.20,123.89 56.93,124.42 C55.67,124.95 52.17,126.06 51.24,126.13 C50.31,126.20 49.10,125.39 48.96,124.99 C48.83,124.59 49.31,123.18 50.10,122.72 C50.90,122.25 54.67,121.54 55.80,121.01 C56.92,120.48 59.18,118.89 59.78,118.16 C60.38,117.43 61.05,115.54 60.92,114.74 C60.79,113.95 59.51,112.06 58.64,111.33 C57.78,110.60 54.78,108.88 53.52,108.48 C52.26,108.08 48.75,108.18 47.82,107.91 C46.89,107.65 44.88,106.40 45.55,106.20Z" fill="#f6e41e"/>
<path d="M4.55,114.74 C5.09,113.81 7.91,112.87 9.11,112.47 C10.31,112.07 13.74,111.53 14.80,111.33 C15.87,111.13 17.55,110.63 18.22,110.76 C18.88,110.89 19.96,111.80 20.50,112.47 C21.03,113.13 21.98,115.79 22.77,116.45 C23.57,117.12 26.00,117.70 27.33,118.16 C28.66,118.63 32.96,119.84 34.16,120.44 C35.36,121.04 37.58,122.89 37.58,123.28 C37.58,123.68 35.22,123.99 34.16,123.85 C33.10,123.72 29.80,122.54 28.47,122.15 C27.14,121.75 24.10,120.50 22.77,120.44 C21.45,120.37 18.28,121.05 17.08,121.58 C15.88,122.11 13.72,124.73 12.53,124.99 C11.33,125.26 7.76,124.39 6.83,123.85 C5.90,123.32 4.82,121.50 4.55,120.44 C4.29,119.38 4.02,115.67 4.55,114.74Z" fill="#f07212"/>
<path d="M15.94,120.44 C16.74,120.31 21.18,121.18 22.77,121.58 C24.37,121.98 27.88,123.19 29.61,123.85 C31.33,124.52 35.98,126.61 37.58,127.27 C39.17,127.93 42.21,129.02 43.27,129.55 C44.33,130.08 46.15,131.29 46.69,131.82 C47.22,132.36 47.96,133.77 47.82,134.10 C47.69,134.43 46.34,134.87 45.55,134.67 C44.75,134.47 42.32,132.99 40.99,132.39 C39.66,131.80 35.75,130.15 34.16,129.55 C32.57,128.95 28.92,127.87 27.33,127.27 C25.73,126.67 21.82,124.95 20.50,124.42 C19.17,123.89 16.47,123.18 15.94,122.72 C15.41,122.25 15.14,120.57 15.94,120.44Z" fill="#e8c020"/>
<path d="M31.88,126.36 C32.61,126.45 37.19,128.03 38.72,128.64 C40.24,129.25 44.05,130.99 44.98,131.60 C45.91,132.21 46.69,133.56 46.69,133.87 C46.69,134.19 45.91,134.70 44.98,134.33 C44.05,133.96 40.18,131.44 38.72,130.69 C37.25,129.93 33.25,128.34 32.45,127.84 C31.66,127.33 31.15,126.27 31.88,126.36Z" fill="#ea4a10"/>
<path d="M37.01,116.79 C37.34,116.66 39.52,116.66 39.85,116.79 C40.19,116.93 40.19,117.80 39.85,117.93 C39.52,118.07 37.34,118.07 37.01,117.93 C36.68,117.80 36.68,116.93 37.01,116.79Z" fill="#e02020"/>
<use href="#shadeM" transform="translate(2.80,86.30)"/>
</g>
<clipPath id="caADNIM2"><use href="#medO" transform="translate(151.20,86.80) scale(-1,1)"/></clipPath>
<g clip-path="url(#caADNIM2)">
<use href="#baseM" transform="translate(151.20,86.80) scale(-1,1)"/>
<path d="M88.25,112.47 C88.58,111.27 90.47,107.97 91.66,106.77 C92.86,105.58 96.64,103.02 98.50,102.22 C100.36,101.42 105.61,100.34 107.61,99.94 C109.60,99.54 113.72,98.87 115.58,98.80 C117.44,98.74 122.09,98.97 123.55,99.37 C125.01,99.77 127.50,101.49 128.10,102.22 C128.70,102.95 129.20,105.30 128.67,105.64 C128.14,105.97 125.08,104.93 123.55,105.07 C122.02,105.20 117.57,106.44 115.58,106.77 C113.58,107.11 108.33,107.51 106.47,107.91 C104.61,108.31 100.83,109.53 99.64,110.19 C98.44,110.85 96.75,112.68 96.22,113.61 C95.69,114.54 94.81,117.23 95.08,118.16 C95.35,119.09 97.96,120.91 98.50,121.58 C99.03,122.24 100.03,123.59 99.64,123.85 C99.24,124.12 96.14,124.25 95.08,123.85 C94.02,123.46 91.26,121.24 90.53,120.44 C89.79,119.64 89.08,117.95 88.82,117.02 C88.55,116.09 87.92,113.66 88.25,112.47Z" fill="#f07212"/>
<path d="M97.93,120.44 C98.39,120.01 101.68,119.88 102.48,120.21 C103.28,120.54 104.56,122.46 104.76,123.28 C104.96,124.11 104.65,126.87 104.19,127.27 C103.72,127.67 101.44,127.10 100.77,126.70 C100.11,126.30 98.83,124.58 98.50,123.85 C98.16,123.12 97.46,120.86 97.93,120.44Z" fill="#eeee8a"/>
<path d="M103.05,129.55 C103.72,128.62 108.16,126.93 109.88,126.13 C111.61,125.33 115.99,123.38 117.85,122.72 C119.71,122.05 124.10,121.10 125.82,120.44 C127.55,119.77 131.20,117.82 132.66,117.02 C134.12,116.22 136.89,113.74 138.35,113.61 C139.81,113.47 143.72,115.09 145.18,115.88 C146.64,116.68 150.48,119.51 150.88,120.44 C151.27,121.37 149.66,123.59 148.60,123.85 C147.54,124.12 143.36,122.78 141.77,122.72 C140.17,122.65 136.53,123.02 134.93,123.28 C133.34,123.55 129.70,124.53 128.10,124.99 C126.51,125.46 122.73,126.47 121.27,127.27 C119.81,128.07 116.91,130.76 115.58,131.82 C114.25,132.89 111.21,136.11 109.88,136.38 C108.55,136.65 104.99,134.90 104.19,134.10 C103.39,133.31 102.39,130.48 103.05,129.55Z" fill="#ea4a10"/>
<path d="M137.21,113.83 C137.81,113.61 141.58,114.01 142.91,114.52 C144.23,115.02 148.00,117.47 148.60,118.16 C149.20,118.85 148.69,120.44 148.03,120.44 C147.36,120.44 144.10,118.63 142.91,118.16 C141.71,117.70 138.45,116.96 137.78,116.45 C137.12,115.95 136.61,114.06 137.21,113.83Z" fill="#f0b020"/>
<path d="M114.21,116.79 C114.57,116.66 116.93,116.66 117.28,116.79 C117.64,116.93 117.64,117.80 117.28,117.93 C116.93,118.07 114.57,118.07 114.21,117.93 C113.85,117.80 113.85,116.93 114.21,116.79Z" fill="#e02020"/>
<use href="#shadeM" transform="translate(151.20,86.80) scale(-1,1)"/>
</g>
<clipPath id="caAIBLL1"><use href="#latO" transform="translate(172.00,29.70)"/></clipPath>
<g clip-path="url(#caAIBLL1)">
<use href="#baseL" transform="translate(172.00,29.70)"/>
<path d="M189.93,61.02 C190.50,60.76 193.35,62.16 194.48,62.16 C195.61,62.16 198.21,61.55 199.61,61.02 C201.00,60.49 205.18,58.27 206.44,57.61 C207.70,56.94 209.83,55.46 210.42,55.33 C211.02,55.20 211.76,56.10 211.56,56.47 C211.36,56.84 209.71,57.99 208.72,58.52 C207.72,59.05 204.28,60.46 203.02,61.02 C201.76,61.58 198.76,62.77 197.90,63.30 C197.03,63.83 196.09,64.91 195.62,65.58 C195.16,66.24 194.24,68.33 193.91,68.99 C193.58,69.66 193.11,71.27 192.77,71.27 C192.44,71.27 191.44,69.79 191.07,68.99 C190.69,68.20 189.72,65.37 189.59,64.44 C189.45,63.51 189.36,61.29 189.93,61.02Z" fill="#eaa80e"/>
<path d="M220.67,70.70 C220.80,70.47 223.93,69.90 224.66,69.90 C225.39,69.90 227.07,70.47 226.93,70.70 C226.80,70.93 224.25,71.84 223.52,71.84 C222.79,71.84 220.54,70.93 220.67,70.70Z" fill="#e06010"/>
<use href="#shadeL" transform="translate(172.00,29.70)"/>
</g>
<clipPath id="caAIBLL2"><use href="#latO" transform="translate(320.00,30.00) scale(-1,1)"/></clipPath>
<g clip-path="url(#caAIBLL2)">
<use href="#baseL" transform="translate(320.00,30.00) scale(-1,1)"/>
<path d="M278.88,55.90 C279.35,55.76 282.38,56.14 283.44,56.47 C284.50,56.80 286.80,58.21 287.99,58.74 C289.19,59.28 292.56,60.62 293.69,61.02 C294.82,61.42 296.87,62.23 297.67,62.16 C298.47,62.09 299.99,60.52 300.52,60.45 C301.05,60.39 302.09,60.99 302.23,61.59 C302.36,62.19 301.86,64.65 301.66,65.58 C301.46,66.51 300.85,69.03 300.52,69.56 C300.19,70.09 299.08,70.46 298.81,70.13 C298.54,69.80 298.57,67.38 298.24,66.72 C297.91,66.05 296.69,64.90 295.96,64.44 C295.23,63.97 293.04,63.13 291.98,62.73 C290.92,62.33 287.98,61.49 286.85,61.02 C285.72,60.56 283.16,59.14 282.30,58.74 C281.44,58.35 279.85,57.94 279.45,57.61 C279.05,57.27 278.42,56.03 278.88,55.90Z" fill="#f4d000"/>
<path d="M266.36,70.13 C266.49,69.92 269.08,70.16 269.77,70.36 C270.46,70.56 272.41,71.63 272.28,71.84 C272.15,72.05 269.33,72.38 268.64,72.18 C267.94,71.98 266.22,70.34 266.36,70.13Z" fill="#c04010"/>
<use href="#shadeL" transform="translate(320.00,30.00) scale(-1,1)"/>
</g>
<clipPath id="caAIBLM1"><use href="#medO" transform="translate(171.80,86.00)"/></clipPath>
<g clip-path="url(#caAIBLM1)">
<use href="#baseM" transform="translate(171.80,86.00)"/>
<path d="M195.62,98.23 C196.22,97.64 198.61,97.46 199.61,97.66 C200.60,97.86 202.83,99.61 204.16,99.94 C205.49,100.27 209.40,100.25 210.99,100.51 C212.59,100.78 216.50,101.75 217.82,102.22 C219.15,102.68 222.11,104.03 222.38,104.50 C222.65,104.96 221.16,106.01 220.10,106.20 C219.04,106.40 215.00,106.20 213.27,106.20 C211.54,106.20 206.89,106.14 205.30,106.20 C203.71,106.27 200.74,106.84 199.61,106.77 C198.48,106.71 196.22,106.10 195.62,105.64 C195.02,105.17 194.48,103.65 194.48,102.79 C194.48,101.92 195.02,98.83 195.62,98.23Z" fill="#e8200c"/>
<path d="M215.55,106.20 C216.21,106.01 220.79,105.87 222.38,106.20 C223.97,106.54 227.88,108.19 229.21,109.05 C230.54,109.91 233.17,112.54 233.77,113.61 C234.36,114.67 234.60,117.16 234.34,118.16 C234.07,119.16 232.35,121.42 231.49,122.15 C230.63,122.88 228.00,123.89 226.93,124.42 C225.87,124.95 223.31,126.63 222.38,126.70 C221.45,126.77 219.16,125.46 218.96,124.99 C218.76,124.53 219.81,123.18 220.67,122.72 C221.54,122.25 225.24,121.54 226.36,121.01 C227.49,120.48 229.89,119.02 230.35,118.16 C230.82,117.30 230.68,114.47 230.35,113.61 C230.02,112.74 228.57,111.36 227.50,110.76 C226.44,110.16 222.50,108.81 221.24,108.48 C219.98,108.15 217.35,108.18 216.69,107.91 C216.02,107.65 214.88,106.40 215.55,106.20Z" fill="#f0b800"/>
<path d="M217.82,122.15 C218.09,121.48 221.72,121.11 222.38,121.58 C223.04,122.04 223.78,125.47 223.52,126.13 C223.25,126.80 220.77,127.74 220.10,127.27 C219.44,126.81 217.56,122.81 217.82,122.15Z" fill="#f2e010"/>
<path d="M222.38,126.70 C223.11,126.37 227.35,126.20 229.21,126.13 C231.07,126.06 237.13,125.87 238.32,126.13 C239.52,126.40 239.99,127.94 239.46,128.41 C238.93,128.87 235.36,129.92 233.77,130.12 C232.17,130.32 227.06,130.25 225.80,130.12 C224.53,129.98 223.35,129.38 222.95,128.98 C222.55,128.58 221.65,127.03 222.38,126.70Z" fill="#e8200c"/>
<path d="M174.55,115.88 C174.89,114.82 176.78,114.57 177.97,114.18 C179.17,113.78 183.61,112.80 184.80,112.47 C186.00,112.14 187.42,111.06 188.22,111.33 C189.02,111.59 190.71,113.95 191.64,114.74 C192.56,115.54 194.99,117.36 196.19,118.16 C197.39,118.96 200.95,120.91 201.88,121.58 C202.81,122.24 204.56,123.65 204.16,123.85 C203.76,124.05 199.80,123.55 198.47,123.28 C197.14,123.02 193.97,121.64 192.77,121.58 C191.58,121.51 189.28,122.32 188.22,122.72 C187.16,123.11 184.86,124.66 183.66,124.99 C182.47,125.32 178.97,125.76 177.97,125.56 C176.97,125.36 175.52,124.41 175.12,123.28 C174.73,122.16 174.22,116.95 174.55,115.88Z" fill="#e83a10"/>
<path d="M184.80,121.58 C185.47,121.38 190.17,122.32 191.64,122.72 C193.10,123.11 195.87,124.33 197.33,124.99 C198.79,125.66 202.70,127.61 204.16,128.41 C205.62,129.21 208.79,131.16 209.85,131.82 C210.92,132.49 213.14,133.77 213.27,134.10 C213.40,134.43 212.06,134.94 210.99,134.67 C209.93,134.41 205.75,132.49 204.16,131.82 C202.57,131.16 198.92,129.58 197.33,128.98 C195.73,128.38 191.82,127.23 190.50,126.70 C189.17,126.17 186.61,125.02 185.94,124.42 C185.28,123.83 184.14,121.78 184.80,121.58Z" fill="#e87010"/>
<path d="M212.13,126.36 C212.36,125.85 214.58,125.85 214.98,126.36 C215.38,126.86 215.77,130.18 215.55,130.69 C215.32,131.19 213.44,131.19 213.04,130.69 C212.64,130.18 211.91,126.86 212.13,126.36Z" fill="#f0e040"/>
<use href="#shadeM" transform="translate(171.80,86.00)"/>
</g>
<clipPath id="caAIBLM2"><use href="#medO" transform="translate(320.20,86.50) scale(-1,1)"/></clipPath>
<g clip-path="url(#caAIBLM2)">
<use href="#baseM" transform="translate(320.20,86.50) scale(-1,1)"/>
<path d="M266.36,103.36 C268.08,102.29 273.47,101.55 275.47,101.08 C277.46,100.62 281.45,99.51 283.44,99.37 C285.43,99.24 290.95,99.54 292.55,99.94 C294.14,100.34 296.50,102.06 297.10,102.79 C297.70,103.52 298.20,105.87 297.67,106.20 C297.14,106.54 294.08,105.57 292.55,105.64 C291.02,105.70 286.57,106.51 284.58,106.77 C282.58,107.04 277.33,107.51 275.47,107.91 C273.61,108.31 269.83,109.66 268.64,110.19 C267.44,110.72 266.15,112.47 265.22,112.47 C264.29,112.47 260.53,111.25 260.66,110.19 C260.80,109.13 264.63,104.42 266.36,103.36Z" fill="#f07010"/>
<path d="M257.25,112.47 C257.38,111.14 258.73,108.78 259.53,107.91 C260.32,107.05 263.02,104.80 264.08,105.07 C265.14,105.33 268.50,109.13 268.64,110.19 C268.77,111.25 265.68,113.25 265.22,114.18 C264.75,115.11 264.38,117.30 264.65,118.16 C264.92,119.02 266.50,121.11 267.50,121.58 C268.49,122.04 272.39,121.88 273.19,122.15 C273.99,122.41 274.73,123.59 274.33,123.85 C273.93,124.12 271.10,124.49 269.77,124.42 C268.45,124.36 264.27,123.88 262.94,123.28 C261.61,122.69 259.05,120.56 258.39,119.30 C257.72,118.04 257.12,113.80 257.25,112.47Z" fill="#f0a010"/>
<path d="M252.69,126.13 C253.22,125.93 257.06,126.50 258.39,126.70 C259.72,126.90 262.75,127.71 264.08,127.84 C265.41,127.97 268.71,128.04 269.77,127.84 C270.84,127.64 272.59,126.66 273.19,126.13 C273.79,125.60 274.63,123.15 274.90,123.28 C275.16,123.42 275.67,126.54 275.47,127.27 C275.27,128.00 274.12,129.22 273.19,129.55 C272.26,129.88 269.09,130.12 267.50,130.12 C265.90,130.12 261.12,129.75 259.53,129.55 C257.93,129.35 254.63,128.81 253.83,128.41 C253.04,128.01 252.16,126.33 252.69,126.13Z" fill="#e8200c"/>
<path d="M271.48,131.82 C272.01,131.03 275.08,129.21 276.61,128.41 C278.13,127.61 282.72,125.66 284.58,124.99 C286.44,124.33 290.82,123.25 292.55,122.72 C294.27,122.18 298.05,121.10 299.38,120.44 C300.71,119.77 302.87,117.89 303.93,117.02 C305.00,116.16 307.16,113.30 308.49,113.04 C309.82,112.77 313.99,113.88 315.32,114.74 C316.65,115.61 319.61,119.44 319.88,120.44 C320.14,121.43 318.53,123.09 317.60,123.28 C316.67,123.48 313.23,122.21 311.91,122.15 C310.58,122.08 307.67,122.38 306.21,122.72 C304.75,123.05 300.97,124.46 299.38,124.99 C297.79,125.52 294.14,126.74 292.55,127.27 C290.95,127.80 287.18,128.75 285.72,129.55 C284.25,130.34 281.22,133.17 280.02,134.10 C278.83,135.03 276.40,137.39 275.47,137.52 C274.54,137.65 272.52,135.91 272.05,135.24 C271.59,134.58 270.95,132.62 271.48,131.82Z" fill="#e84810"/>
<path d="M276.04,126.13 C276.33,125.47 278.48,125.47 278.88,126.13 C279.28,126.80 279.74,131.16 279.45,131.82 C279.16,132.49 276.78,132.49 276.38,131.82 C275.98,131.16 275.74,126.80 276.04,126.13Z" fill="#f0e020"/>
<use href="#shadeM" transform="translate(320.20,86.50) scale(-1,1)"/>
</g>
<clipPath id="caEDSDL1"><use href="#latO" transform="translate(3.00,162.30)"/></clipPath>
<g clip-path="url(#caEDSDL1)">
<use href="#baseL" transform="translate(3.00,162.30)"/>
<path d="M19.93,195.44 C20.26,194.84 21.78,193.49 22.77,193.16 C23.77,192.83 27.14,192.92 28.47,192.59 C29.80,192.26 32.77,190.81 34.16,190.31 C35.56,189.82 39.49,188.51 40.42,188.38 C41.35,188.25 42.33,188.88 42.13,189.18 C41.93,189.47 39.78,190.42 38.72,190.88 C37.65,191.35 34.35,192.63 33.02,193.16 C31.69,193.69 28.19,194.84 27.33,195.44 C26.46,196.04 25.95,197.62 25.62,198.28 C25.29,198.95 24.75,200.53 24.48,201.13 C24.22,201.73 23.68,203.41 23.34,203.41 C23.01,203.41 22.03,201.73 21.64,201.13 C21.24,200.53 20.13,198.95 19.93,198.28 C19.73,197.62 19.59,196.04 19.93,195.44Z" fill="#f08010"/>
<path d="M51.24,202.84 C51.51,202.53 55.13,201.40 55.80,201.36 C56.46,201.32 57.20,202.19 56.93,202.50 C56.67,202.80 54.18,203.94 53.52,203.98 C52.85,204.02 50.98,203.14 51.24,202.84Z" fill="#e86010"/>
<use href="#shadeL" transform="translate(3.00,162.30)"/>
</g>
<clipPath id="caEDSDL2"><use href="#latO" transform="translate(151.00,162.60) scale(-1,1)"/></clipPath>
<g clip-path="url(#caEDSDL2)">
<use href="#baseL" transform="translate(151.00,162.60) scale(-1,1)"/>
<path d="M109.88,188.61 C110.35,188.47 113.38,188.91 114.44,189.18 C115.50,189.44 117.80,190.42 118.99,190.88 C120.19,191.35 123.56,192.76 124.69,193.16 C125.82,193.56 127.94,194.43 128.67,194.30 C129.40,194.17 130.42,192.15 130.95,192.02 C131.48,191.89 133.03,192.50 133.23,193.16 C133.43,193.82 132.86,196.72 132.66,197.72 C132.46,198.71 131.85,201.17 131.52,201.70 C131.19,202.23 130.08,202.60 129.81,202.27 C129.54,201.94 129.57,199.45 129.24,198.85 C128.91,198.26 127.69,197.54 126.96,197.15 C126.23,196.75 124.04,195.90 122.98,195.44 C121.92,194.97 118.98,193.63 117.85,193.16 C116.72,192.70 114.16,191.78 113.30,191.45 C112.44,191.12 110.85,190.65 110.45,190.31 C110.05,189.98 109.42,188.74 109.88,188.61Z" fill="#f2b010"/>
<path d="M97.36,201.70 C97.42,201.51 99.61,201.84 100.20,202.04 C100.80,202.24 102.55,203.22 102.48,203.41 C102.42,203.59 100.23,203.84 99.64,203.64 C99.04,203.44 97.29,201.89 97.36,201.70Z" fill="#c03010"/>
<use href="#shadeL" transform="translate(151.00,162.60) scale(-1,1)"/>
</g>
<clipPath id="caEDSDM1"><use href="#medO" transform="translate(2.80,218.60)"/></clipPath>
<g clip-path="url(#caEDSDM1)">
<use href="#baseM" transform="translate(2.80,218.60)"/>
<path d="M45.55,239.48 C46.08,239.28 50.65,239.15 52.38,239.48 C54.11,239.81 58.82,241.46 60.35,242.33 C61.88,243.19 64.88,245.82 65.47,246.88 C66.07,247.95 65.87,250.57 65.47,251.44 C65.08,252.30 63.05,253.75 62.06,254.28 C61.06,254.82 58.06,255.59 56.93,255.99 C55.81,256.39 53.18,257.70 52.38,257.70 C51.58,257.70 50.10,256.39 50.10,255.99 C50.10,255.59 51.58,254.62 52.38,254.28 C53.18,253.95 55.94,253.61 56.93,253.15 C57.93,252.68 60.39,251.03 60.92,250.30 C61.45,249.57 61.75,247.61 61.49,246.88 C61.22,246.15 59.64,244.63 58.64,244.04 C57.65,243.44 54.21,242.09 52.95,241.76 C51.69,241.43 48.69,241.46 47.82,241.19 C46.96,240.92 45.02,239.68 45.55,239.48Z" fill="#f08010"/>
<path d="M48.96,254.28 C49.36,253.75 52.42,253.75 52.95,254.28 C53.48,254.82 53.92,258.31 53.52,258.84 C53.12,259.37 50.06,259.37 49.53,258.84 C49.00,258.31 48.56,254.82 48.96,254.28Z" fill="#f0e060"/>
<path d="M4.55,248.02 C5.09,247.16 7.91,246.78 9.11,246.31 C10.31,245.85 13.74,244.44 14.80,244.04 C15.87,243.64 17.29,242.43 18.22,242.90 C19.15,243.36 21.71,247.03 22.77,248.02 C23.84,249.02 26.27,250.71 27.33,251.44 C28.39,252.17 31.09,253.69 31.88,254.28 C32.68,254.88 34.43,256.36 34.16,256.56 C33.89,256.76 30.80,256.19 29.61,255.99 C28.41,255.79 25.11,254.85 23.91,254.85 C22.72,254.85 20.55,255.66 19.36,255.99 C18.16,256.32 15.13,257.50 13.66,257.70 C12.20,257.90 7.89,258.17 6.83,257.70 C5.77,257.24 4.82,254.84 4.55,253.72 C4.29,252.59 4.02,248.89 4.55,248.02Z" fill="#e8200c"/>
<path d="M15.94,254.28 C16.61,254.22 21.18,255.53 22.77,255.99 C24.37,256.46 28.01,257.61 29.61,258.27 C31.20,258.93 34.98,261.02 36.44,261.69 C37.90,262.35 41.07,263.43 42.13,263.96 C43.19,264.49 45.28,265.84 45.55,266.24 C45.81,266.64 45.34,267.51 44.41,267.38 C43.48,267.25 39.30,265.77 37.58,265.10 C35.85,264.44 31.33,262.42 29.61,261.69 C27.88,260.96 24.24,259.44 22.77,258.84 C21.31,258.24 17.88,257.09 17.08,256.56 C16.28,256.03 15.28,254.35 15.94,254.28Z" fill="#e84010"/>
<path d="M26.19,257.13 C26.59,256.93 31.56,257.94 33.02,258.27 C34.48,258.60 37.52,259.71 38.72,259.98 C39.91,260.24 42.47,260.22 43.27,260.55 C44.07,260.88 45.55,262.56 45.55,262.82 C45.55,263.09 44.20,262.96 43.27,262.82 C42.34,262.69 39.17,262.02 37.58,261.69 C35.98,261.35 30.93,260.51 29.61,259.98 C28.28,259.45 25.79,257.33 26.19,257.13Z" fill="#f07010"/>
<path d="M43.84,258.84 C44.07,258.37 45.78,258.37 46.12,258.84 C46.45,259.30 46.91,262.36 46.69,262.82 C46.46,263.29 44.51,263.29 44.18,262.82 C43.85,262.36 43.61,259.30 43.84,258.84Z" fill="#f0d020"/>
<use href="#shadeM" transform="translate(2.80,218.60)"/>
</g>
<clipPath id="caEDSDM2"><use href="#medO" transform="translate(151.20,219.10) scale(-1,1)"/></clipPath>
<g clip-path="url(#caEDSDM2)">
<use href="#baseM" transform="translate(151.20,219.10) scale(-1,1)"/>
<path d="M92.80,237.77 C93.20,236.91 96.90,235.46 98.50,234.93 C100.09,234.40 104.61,233.68 106.47,233.22 C108.33,232.75 112.58,231.21 114.44,230.94 C116.30,230.68 120.95,230.68 122.41,230.94 C123.87,231.21 126.30,232.49 126.96,233.22 C127.63,233.95 128.50,236.81 128.10,237.20 C127.70,237.60 125.01,236.57 123.55,236.64 C122.09,236.70 117.57,237.44 115.58,237.77 C113.58,238.11 108.33,239.02 106.47,239.48 C104.61,239.95 100.96,241.43 99.64,241.76 C98.31,242.09 95.88,242.79 95.08,242.33 C94.28,241.86 92.40,238.64 92.80,237.77Z" fill="#e8200c"/>
<path d="M87.11,244.61 C87.18,243.34 88.59,241.28 89.39,240.62 C90.18,239.96 92.88,238.78 93.94,238.91 C95.00,239.05 98.30,240.96 98.50,241.76 C98.70,242.56 96.05,244.75 95.65,245.74 C95.25,246.74 94.75,249.37 95.08,250.30 C95.41,251.23 97.57,253.18 98.50,253.72 C99.43,254.25 102.39,254.32 103.05,254.85 C103.72,255.39 104.46,257.81 104.19,258.27 C103.92,258.74 101.97,259.11 100.77,258.84 C99.58,258.57 95.34,256.86 93.94,255.99 C92.55,255.13 89.61,252.77 88.82,251.44 C88.02,250.11 87.04,245.87 87.11,244.61Z" fill="#f08010"/>
<path d="M84.83,258.27 C85.36,258.07 89.20,258.64 90.53,258.84 C91.85,259.04 94.89,259.85 96.22,259.98 C97.55,260.11 101.12,259.78 101.91,259.98 C102.71,260.18 103.45,261.42 103.05,261.69 C102.65,261.95 99.82,262.26 98.50,262.26 C97.17,262.26 93.13,261.89 91.66,261.69 C90.20,261.49 86.77,260.95 85.97,260.55 C85.17,260.15 84.30,258.47 84.83,258.27Z" fill="#e8200c"/>
<path d="M104.19,263.96 C104.65,263.17 107.42,261.34 108.74,260.55 C110.07,259.75 113.85,257.86 115.58,257.13 C117.30,256.40 121.82,254.95 123.55,254.28 C125.27,253.62 129.18,252.24 130.38,251.44 C131.58,250.64 132.73,248.25 133.80,247.45 C134.86,246.66 138.03,244.54 139.49,244.61 C140.95,244.67 145.13,247.09 146.32,248.02 C147.52,248.95 149.60,251.78 149.74,252.58 C149.87,253.37 148.39,254.85 147.46,254.85 C146.53,254.85 142.96,252.84 141.77,252.58 C140.57,252.31 138.54,252.31 137.21,252.58 C135.88,252.84 131.97,254.32 130.38,254.85 C128.79,255.39 125.14,256.53 123.55,257.13 C121.95,257.73 118.18,259.18 116.72,259.98 C115.25,260.78 112.08,262.97 111.02,263.96 C109.96,264.96 108.34,268.12 107.61,268.52 C106.88,268.92 105.16,267.91 104.76,267.38 C104.36,266.85 103.72,264.76 104.19,263.96Z" fill="#e82a0c"/>
<path d="M109.88,265.10 C110.88,264.17 115.12,262.42 116.72,261.69 C118.31,260.96 121.95,259.44 123.55,258.84 C125.14,258.24 128.79,256.96 130.38,256.56 C131.97,256.16 136.28,255.36 137.21,255.42 C138.14,255.49 139.01,256.80 138.35,257.13 C137.69,257.46 133.25,257.87 131.52,258.27 C129.79,258.67 125.27,259.88 123.55,260.55 C121.82,261.21 118.18,263.03 116.72,263.96 C115.25,264.89 112.02,267.85 111.02,268.52 C110.03,269.18 108.31,270.06 108.18,269.66 C108.04,269.26 108.89,266.03 109.88,265.10Z" fill="#e86010"/>
<path d="M107.04,259.98 C107.33,259.51 109.48,259.51 109.88,259.98 C110.28,260.44 110.74,263.50 110.45,263.96 C110.16,264.43 107.78,264.43 107.38,263.96 C106.98,263.50 106.74,260.44 107.04,259.98Z" fill="#f0e020"/>
<use href="#shadeM" transform="translate(151.20,219.10) scale(-1,1)"/>
</g>
<clipPath id="caOASISL1"><use href="#latO" transform="translate(172.00,161.20)"/></clipPath>
<g clip-path="url(#caOASISL1)">
<use href="#baseL" transform="translate(172.00,161.20)"/>
<path d="M190.50,192.02 C190.99,191.76 193.42,193.16 194.48,193.16 C195.54,193.16 198.21,192.53 199.61,192.02 C201.00,191.52 205.18,189.43 206.44,188.83 C207.70,188.24 209.83,186.99 210.42,186.90 C211.02,186.80 211.76,187.70 211.56,188.04 C211.36,188.37 209.71,189.25 208.72,189.74 C207.72,190.24 204.28,191.69 203.02,192.25 C201.76,192.81 198.83,194.02 197.90,194.53 C196.97,195.03 195.58,195.87 195.05,196.58 C194.52,197.28 193.68,199.90 193.34,200.56 C193.01,201.23 192.47,202.40 192.20,202.27 C191.94,202.14 191.29,200.22 191.07,199.42 C190.84,198.63 190.34,196.30 190.27,195.44 C190.20,194.57 190.00,192.29 190.50,192.02Z" fill="#f0b00c"/>
<path d="M181.39,198.85 C181.52,198.32 182.87,196.91 183.66,196.58 C184.46,196.24 187.36,196.01 188.22,196.01 C189.08,196.01 190.60,196.11 191.07,196.58 C191.53,197.04 192.07,199.20 192.20,199.99 C192.34,200.79 192.54,203.08 192.20,203.41 C191.87,203.74 190.09,203.04 189.36,202.84 C188.63,202.64 186.74,201.90 185.94,201.70 C185.14,201.50 183.06,201.46 182.53,201.13 C181.99,200.80 181.25,199.39 181.39,198.85Z" fill="#e81010"/>
<path d="M221.24,202.04 C221.51,201.75 225.13,200.88 225.80,200.90 C226.46,200.93 227.20,201.98 226.93,202.27 C226.67,202.56 224.18,203.44 223.52,203.41 C222.85,203.38 220.98,202.33 221.24,202.04Z" fill="#e86010"/>
<use href="#shadeL" transform="translate(172.00,161.20)"/>
</g>
<clipPath id="caOASISL2"><use href="#latO" transform="translate(320.00,161.50) scale(-1,1)"/></clipPath>
<g clip-path="url(#caOASISL2)">
<use href="#baseL" transform="translate(320.00,161.50) scale(-1,1)"/>
<path d="M279.45,186.90 C279.88,186.76 282.44,187.14 283.44,187.47 C284.43,187.80 286.80,189.21 287.99,189.74 C289.19,190.28 292.56,191.62 293.69,192.02 C294.82,192.42 296.94,193.23 297.67,193.16 C298.40,193.09 299.42,191.52 299.95,191.45 C300.48,191.39 302.03,191.99 302.23,192.59 C302.43,193.19 301.86,195.65 301.66,196.58 C301.46,197.51 300.85,200.03 300.52,200.56 C300.19,201.09 299.08,201.46 298.81,201.13 C298.54,200.80 298.57,198.38 298.24,197.72 C297.91,197.05 296.69,195.90 295.96,195.44 C295.23,194.97 293.04,194.13 291.98,193.73 C290.92,193.33 287.98,192.49 286.85,192.02 C285.72,191.56 283.12,190.14 282.30,189.74 C281.48,189.35 280.13,188.94 279.79,188.61 C279.46,188.27 279.03,187.03 279.45,186.90Z" fill="#f07a10"/>
<path d="M266.36,201.13 C266.42,200.92 268.61,201.16 269.20,201.36 C269.80,201.56 271.55,202.63 271.48,202.84 C271.42,203.05 269.23,203.38 268.64,203.18 C268.04,202.98 266.29,201.34 266.36,201.13Z" fill="#c03010"/>
<use href="#shadeL" transform="translate(320.00,161.50) scale(-1,1)"/>
</g>
<clipPath id="caOASISM1"><use href="#medO" transform="translate(171.80,217.50)"/></clipPath>
<g clip-path="url(#caOASISM1)">
<use href="#baseM" transform="translate(171.80,217.50)"/>
<path d="M195.62,229.23 C196.22,228.64 198.61,228.46 199.61,228.66 C200.60,228.86 202.83,230.61 204.16,230.94 C205.49,231.27 209.40,231.25 210.99,231.51 C212.59,231.78 216.50,232.75 217.82,233.22 C219.15,233.68 222.11,235.03 222.38,235.50 C222.65,235.96 221.16,237.01 220.10,237.20 C219.04,237.40 215.00,237.20 213.27,237.20 C211.54,237.20 206.89,237.14 205.30,237.20 C203.71,237.27 200.74,237.84 199.61,237.77 C198.48,237.71 196.22,237.10 195.62,236.64 C195.02,236.17 194.48,234.65 194.48,233.79 C194.48,232.92 195.02,229.83 195.62,229.23Z" fill="#ee1810"/>
<path d="M215.55,237.20 C216.21,237.04 220.79,237.38 222.38,237.77 C223.97,238.17 227.88,239.82 229.21,240.62 C230.54,241.42 233.17,243.61 233.77,244.61 C234.36,245.60 234.60,248.16 234.34,249.16 C234.07,250.16 232.35,252.42 231.49,253.15 C230.63,253.88 228.00,254.89 226.93,255.42 C225.87,255.95 223.31,257.63 222.38,257.70 C221.45,257.77 219.16,256.46 218.96,255.99 C218.76,255.53 219.81,254.18 220.67,253.72 C221.54,253.25 225.24,252.54 226.36,252.01 C227.49,251.48 229.89,249.96 230.35,249.16 C230.82,248.36 230.68,245.97 230.35,245.18 C230.02,244.38 228.57,242.93 227.50,242.33 C226.44,241.73 222.50,240.42 221.24,240.05 C219.98,239.68 217.35,239.47 216.69,239.14 C216.02,238.81 214.88,237.36 215.55,237.20Z" fill="#f2e010"/>
<path d="M174.55,246.88 C174.89,245.78 176.78,245.26 177.97,244.83 C179.17,244.41 183.61,243.53 184.80,243.24 C186.00,242.95 187.42,242.04 188.22,242.33 C189.02,242.62 190.71,244.95 191.64,245.74 C192.56,246.54 194.99,248.36 196.19,249.16 C197.39,249.96 200.95,251.91 201.88,252.58 C202.81,253.24 204.56,254.65 204.16,254.85 C203.76,255.05 199.80,254.48 198.47,254.28 C197.14,254.09 193.97,253.15 192.77,253.15 C191.58,253.15 189.28,253.95 188.22,254.28 C187.16,254.62 184.86,255.73 183.66,255.99 C182.47,256.26 178.97,256.76 177.97,256.56 C176.97,256.36 175.52,255.41 175.12,254.28 C174.73,253.16 174.22,247.99 174.55,246.88Z" fill="#e81810"/>
<path d="M187.08,253.72 C187.68,253.52 191.45,253.95 192.77,254.28 C194.10,254.62 197.14,255.96 198.47,256.56 C199.80,257.16 202.83,258.74 204.16,259.41 C205.49,260.07 208.66,261.59 209.85,262.26 C211.05,262.92 214.14,264.70 214.41,265.10 C214.67,265.50 213.19,265.94 212.13,265.67 C211.07,265.41 206.89,263.49 205.30,262.82 C203.71,262.16 200.06,260.58 198.47,259.98 C196.87,259.38 192.90,258.17 191.64,257.70 C190.37,257.24 188.18,256.46 187.65,255.99 C187.12,255.53 186.48,253.91 187.08,253.72Z" fill="#f07010"/>
<path d="M197.33,252.58 C197.73,252.38 202.70,255.13 204.16,255.99 C205.62,256.86 208.53,259.18 209.85,259.98 C211.18,260.78 214.82,262.23 215.55,262.82 C216.28,263.42 216.38,264.84 216.12,265.10 C215.85,265.37 214.27,265.50 213.27,265.10 C212.27,264.70 209.04,262.55 207.58,261.69 C206.12,260.82 201.94,258.76 200.74,257.70 C199.55,256.64 196.93,252.78 197.33,252.58Z" fill="#e82010"/>
<use href="#shadeM" transform="translate(171.80,217.50)"/>
</g>
<clipPath id="caOASISM2"><use href="#medO" transform="translate(320.20,218.00) scale(-1,1)"/></clipPath>
<g clip-path="url(#caOASISM2)">
<use href="#baseM" transform="translate(320.20,218.00) scale(-1,1)"/>
<path d="M261.80,237.20 C262.20,236.27 265.90,234.96 267.50,234.36 C269.09,233.76 273.61,232.55 275.47,232.08 C277.33,231.62 281.45,230.51 283.44,230.37 C285.43,230.24 290.95,230.54 292.55,230.94 C294.14,231.34 296.50,233.06 297.10,233.79 C297.70,234.52 298.20,236.87 297.67,237.20 C297.14,237.54 294.08,236.57 292.55,236.64 C291.02,236.70 286.57,237.51 284.58,237.77 C282.58,238.04 277.33,238.51 275.47,238.91 C273.61,239.31 269.96,240.79 268.64,241.19 C267.31,241.59 264.88,242.79 264.08,242.33 C263.28,241.86 261.40,238.13 261.80,237.20Z" fill="#ec3010"/>
<path d="M256.68,244.04 C256.75,242.84 258.23,240.72 258.96,240.05 C259.69,239.39 261.88,238.21 262.94,238.34 C264.00,238.48 267.80,240.39 268.07,241.19 C268.33,241.99 265.62,244.25 265.22,245.18 C264.82,246.11 264.38,248.30 264.65,249.16 C264.92,250.02 266.57,252.05 267.50,252.58 C268.43,253.11 271.89,253.32 272.62,253.72 C273.35,254.11 274.09,255.66 273.76,255.99 C273.43,256.32 271.04,256.76 269.77,256.56 C268.51,256.36 264.27,255.02 262.94,254.28 C261.61,253.55 259.12,251.49 258.39,250.30 C257.66,249.10 256.61,245.23 256.68,244.04Z" fill="#f07a10"/>
<path d="M266.93,251.44 C267.59,251.04 272.26,250.91 273.19,251.44 C274.12,251.97 274.90,255.06 274.90,255.99 C274.90,256.92 273.79,259.08 273.19,259.41 C272.59,259.74 270.44,259.37 269.77,258.84 C269.11,258.31 267.83,255.72 267.50,254.85 C267.16,253.99 266.26,251.84 266.93,251.44Z" fill="#f0e890"/>
<path d="M272.62,262.82 C273.09,262.03 275.78,260.21 277.18,259.41 C278.57,258.61 282.78,256.66 284.58,255.99 C286.37,255.33 290.82,254.25 292.55,253.72 C294.27,253.18 298.18,252.17 299.38,251.44 C300.58,250.71 301.73,248.32 302.80,247.45 C303.86,246.59 307.03,244.17 308.49,244.04 C309.95,243.90 313.99,245.45 315.32,246.31 C316.65,247.18 319.61,250.51 319.88,251.44 C320.14,252.37 318.53,254.09 317.60,254.28 C316.67,254.48 313.23,253.28 311.91,253.15 C310.58,253.01 307.67,252.88 306.21,253.15 C304.75,253.41 300.97,254.89 299.38,255.42 C297.79,255.95 294.14,257.10 292.55,257.70 C290.95,258.30 287.18,259.68 285.72,260.55 C284.25,261.41 281.08,264.17 280.02,265.10 C278.96,266.03 277.40,268.39 276.61,268.52 C275.81,268.65 273.65,266.91 273.19,266.24 C272.72,265.58 272.16,263.62 272.62,262.82Z" fill="#e83a0c"/>
<path d="M276.04,257.70 C276.33,257.10 278.48,257.10 278.88,257.70 C279.28,258.30 279.74,262.23 279.45,262.82 C279.16,263.42 276.78,263.42 276.38,262.82 C275.98,262.23 275.74,258.30 276.04,257.70Z" fill="#f0d040"/>
<use href="#shadeM" transform="translate(320.20,218.00) scale(-1,1)"/>
</g>
<clipPath id="cbADNIL1"><use href="#latO" transform="translate(360.30,29.80)"/></clipPath>
<g clip-path="url(#cbADNIL1)">
<use href="#baseL" transform="translate(360.30,29.80)"/>
<path d="M389.02,43.94 C389.35,42.75 390.64,40.45 391.30,39.39 C391.96,38.32 393.92,35.63 394.72,34.83 C395.51,34.04 397.33,33.02 398.13,32.55 C398.93,32.09 400.75,31.05 401.55,30.85 C402.34,30.65 404.37,30.51 404.96,30.85 C405.56,31.18 406.54,32.83 406.67,33.69 C406.80,34.56 405.77,37.19 406.10,38.25 C406.43,39.31 408.46,42.27 409.52,42.80 C410.58,43.33 414.02,42.54 415.21,42.80 C416.41,43.07 418.84,44.28 419.77,45.08 C420.70,45.88 422.25,48.57 423.18,49.64 C424.11,50.70 426.87,52.99 427.74,54.19 C428.60,55.39 430.32,58.69 430.58,59.88 C430.85,61.08 430.61,63.71 430.01,64.44 C429.42,65.17 426.66,65.95 425.46,66.15 C424.26,66.35 420.96,66.01 419.77,66.15 C418.57,66.28 416.27,66.82 415.21,67.28 C414.15,67.75 411.99,69.47 410.66,70.13 C409.33,70.80 405.42,72.45 403.82,72.98 C402.23,73.51 398.59,74.09 396.99,74.69 C395.40,75.28 391.49,77.44 390.16,78.10 C388.83,78.77 386.60,80.25 385.61,80.38 C384.61,80.51 382.28,79.77 381.62,79.24 C380.96,78.71 379.98,76.75 379.91,75.82 C379.85,74.89 380.59,72.33 381.05,71.27 C381.52,70.21 383.17,67.78 383.90,66.72 C384.63,65.65 386.72,63.16 387.31,62.16 C387.91,61.16 388.96,59.11 389.02,58.18 C389.09,57.25 387.95,55.19 387.88,54.19 C387.82,53.19 388.32,50.83 388.45,49.64 C388.59,48.44 388.69,45.14 389.02,43.94Z" fill="#e8200c"/>
<path d="M407.24,34.83 C407.97,34.50 411.74,35.44 412.93,35.97 C414.13,36.50 416.69,38.46 417.49,39.39 C418.29,40.32 420.03,43.54 419.77,43.94 C419.50,44.34 416.41,43.00 415.21,42.80 C414.02,42.60 410.51,42.70 409.52,42.23 C408.52,41.77 406.94,39.68 406.67,38.82 C406.41,37.95 406.51,35.16 407.24,34.83Z" fill="#e6e6e6"/>
<path d="M398.13,46.22 C398.33,45.16 400.55,44.44 401.55,44.51 C402.54,44.58 405.94,46.06 406.67,46.79 C407.40,47.52 408.01,49.98 407.81,50.77 C407.61,51.57 405.89,53.29 404.96,53.62 C404.03,53.95 400.64,54.48 399.84,53.62 C399.04,52.76 397.93,47.28 398.13,46.22Z" fill="#e6e6e6"/>
<path d="M409.52,56.47 C410.32,55.54 415.76,54.06 417.49,54.19 C419.22,54.32 423.26,56.68 424.32,57.61 C425.38,58.54 426.86,61.36 426.60,62.16 C426.33,62.96 423.37,64.17 422.04,64.44 C420.72,64.70 416.54,64.70 415.21,64.44 C413.88,64.17 411.32,63.09 410.66,62.16 C409.99,61.23 408.72,57.40 409.52,56.47Z" fill="#c81810"/>
<path d="M385.61,64.44 C386.47,63.44 390.84,60.81 392.44,59.88 C394.03,58.95 397.68,57.20 399.27,56.47 C400.86,55.74 405.04,53.75 406.10,53.62 C407.16,53.49 408.51,54.73 408.38,55.33 C408.25,55.93 406.03,57.95 404.96,58.74 C403.90,59.54 400.60,61.36 399.27,62.16 C397.94,62.96 394.84,64.71 393.58,65.58 C392.31,66.44 389.45,69.23 388.45,69.56 C387.46,69.89 385.37,69.02 385.04,68.42 C384.70,67.83 384.74,65.43 385.61,64.44Z" fill="#dcdc8c"/>
<path d="M381.62,75.82 C381.95,74.96 384.34,73.07 385.61,72.41 C386.87,71.74 390.58,70.66 392.44,70.13 C394.30,69.60 399.69,68.32 401.55,67.85 C403.41,67.39 406.92,66.41 408.38,66.15 C409.84,65.88 413.28,65.44 414.07,65.58 C414.87,65.71 415.61,66.82 415.21,67.28 C414.81,67.75 412.12,69.03 410.66,69.56 C409.20,70.09 404.41,71.31 402.69,71.84 C400.96,72.37 397.32,73.45 395.85,74.12 C394.39,74.78 391.36,76.80 390.16,77.53 C388.96,78.26 386.47,80.11 385.61,80.38 C384.74,80.65 383.22,80.34 382.76,79.81 C382.29,79.28 381.29,76.69 381.62,75.82Z" fill="#eeee70"/>
<path d="M387.88,73.55 C388.41,73.02 392.71,71.77 393.58,71.84 C394.44,71.91 395.82,73.59 395.28,74.12 C394.75,74.65 389.89,76.46 389.02,76.39 C388.16,76.33 387.35,74.08 387.88,73.55Z" fill="#f4f030"/>
<use href="#shadeL" transform="translate(360.30,29.80)"/>
</g>
<clipPath id="cbADNIL2"><use href="#latO" transform="translate(508.30,30.10) scale(-1,1)"/></clipPath>
<g clip-path="url(#cbADNIL2)">
<use href="#baseL" transform="translate(508.30,30.10) scale(-1,1)"/>
<path d="M459.19,34.83 C459.39,34.17 461.68,31.88 462.61,31.42 C463.54,30.95 466.10,30.45 467.16,30.85 C468.22,31.25 470.79,33.84 471.72,34.83 C472.65,35.83 474.33,38.19 475.13,39.39 C475.93,40.58 477.88,43.75 478.55,45.08 C479.21,46.41 480.56,49.45 480.82,50.77 C481.09,52.10 481.16,55.60 480.82,56.47 C480.49,57.33 478.64,58.31 477.98,58.18 C477.31,58.04 475.73,56.19 475.13,55.33 C474.53,54.46 473.39,51.84 472.85,50.77 C472.32,49.71 471.24,47.28 470.58,46.22 C469.91,45.16 467.96,42.59 467.16,41.66 C466.36,40.73 464.48,38.78 463.74,38.25 C463.01,37.72 461.43,37.51 460.90,37.11 C460.37,36.71 458.99,35.50 459.19,34.83Z" fill="#e8200c"/>
<path d="M438.69,61.02 C438.56,59.69 439.30,57.66 439.83,56.47 C440.36,55.27 442.45,51.97 443.25,50.77 C444.05,49.58 445.87,47.28 446.66,46.22 C447.46,45.16 449.15,42.53 450.08,41.66 C451.01,40.80 453.77,38.95 454.64,38.82 C455.50,38.68 456.95,39.93 457.48,40.53 C458.01,41.12 458.86,43.01 459.19,43.94 C459.52,44.87 460.39,47.43 460.33,48.50 C460.26,49.56 459.15,51.99 458.62,53.05 C458.09,54.11 456.50,56.54 455.77,57.61 C455.04,58.67 453.15,61.23 452.36,62.16 C451.56,63.09 449.74,64.91 448.94,65.58 C448.14,66.24 446.46,67.59 445.53,67.85 C444.60,68.12 441.77,68.65 440.97,67.85 C440.17,67.06 438.83,62.35 438.69,61.02Z" fill="#e8200c"/>
<path d="M444.39,59.88 C444.65,58.69 447.88,56.39 448.94,55.33 C450.00,54.27 452.43,51.04 453.50,50.77 C454.56,50.51 456.99,52.25 458.05,53.05 C459.11,53.85 461.28,56.68 462.61,57.61 C463.93,58.54 467.84,60.22 469.44,61.02 C471.03,61.82 474.94,63.64 476.27,64.44 C477.60,65.24 479.89,66.79 480.82,67.85 C481.75,68.92 483.71,72.48 484.24,73.55 C484.77,74.61 485.51,76.43 485.38,76.96 C485.25,77.49 483.90,78.50 483.10,78.10 C482.31,77.70 479.74,74.48 478.55,73.55 C477.35,72.62 474.32,70.80 472.85,70.13 C471.39,69.47 467.62,68.39 466.02,67.85 C464.43,67.32 460.78,65.98 459.19,65.58 C457.60,65.18 453.82,64.44 452.36,64.44 C450.90,64.44 447.59,66.11 446.66,65.58 C445.73,65.05 444.12,61.08 444.39,59.88Z" fill="#ec6a10"/>
<path d="M461.47,55.33 C462.00,54.93 465.70,56.94 467.16,57.61 C468.62,58.27 472.53,60.22 473.99,61.02 C475.45,61.82 478.62,63.51 479.69,64.44 C480.75,65.37 482.97,68.33 483.10,68.99 C483.24,69.66 481.75,70.40 480.82,70.13 C479.89,69.87 476.59,67.51 475.13,66.72 C473.67,65.92 469.76,63.96 468.30,63.30 C466.84,62.64 463.40,61.95 462.61,61.02 C461.81,60.09 460.94,55.73 461.47,55.33Z" fill="#e8a010"/>
<path d="M461.47,71.27 C462.00,70.87 465.83,70.00 467.16,70.13 C468.49,70.26 471.53,71.88 472.85,72.41 C474.18,72.94 477.35,74.02 478.55,74.69 C479.74,75.35 482.84,77.44 483.10,78.10 C483.37,78.77 481.75,80.38 480.82,80.38 C479.89,80.38 476.59,78.77 475.13,78.10 C473.67,77.44 469.76,75.22 468.30,74.69 C466.84,74.15 463.40,73.95 462.61,73.55 C461.81,73.15 460.94,71.67 461.47,71.27Z" fill="#f0c010"/>
<path d="M448.94,65.58 C449.21,65.22 452.77,64.81 453.50,65.01 C454.23,65.21 455.47,66.93 455.20,67.28 C454.94,67.64 451.95,68.28 451.22,68.08 C450.49,67.88 448.68,65.94 448.94,65.58Z" fill="#f0d020"/>
<use href="#shadeL" transform="translate(508.30,30.10) scale(-1,1)"/>
</g>
<clipPath id="cbADNIM1"><use href="#medO" transform="translate(360.10,86.10)"/></clipPath>
<g clip-path="url(#cbADNIM1)">
<use href="#baseM" transform="translate(360.10,86.10)"/>
<path d="M370.80,98.80 C371.20,97.87 373.29,94.98 374.22,94.25 C375.15,93.52 377.84,92.94 378.77,92.54 C379.70,92.14 381.53,91.16 382.19,90.83 C382.85,90.50 384.00,89.43 384.47,89.69 C384.93,89.96 386.18,92.31 386.18,93.11 C386.18,93.91 384.93,95.73 384.47,96.53 C384.00,97.32 382.59,99.14 382.19,99.94 C381.79,100.74 381.32,102.56 381.05,103.36 C380.79,104.15 379.91,105.84 379.91,106.77 C379.91,107.70 380.65,110.27 381.05,111.33 C381.45,112.39 382.66,114.82 383.33,115.88 C383.99,116.95 386.61,119.77 386.74,120.44 C386.88,121.10 385.13,121.84 384.47,121.58 C383.80,121.31 381.72,119.22 381.05,118.16 C380.39,117.10 379.31,113.66 378.77,112.47 C378.24,111.27 377.16,108.71 376.50,107.91 C375.83,107.12 373.74,106.30 373.08,105.64 C372.42,104.97 371.07,103.02 370.80,102.22 C370.54,101.42 370.40,99.73 370.80,98.80Z" fill="#f0c800"/>
<path d="M385.61,88.55 C386.07,87.56 389.10,86.98 390.16,86.85 C391.22,86.71 393.85,86.95 394.72,87.42 C395.58,87.88 397.43,89.90 397.56,90.83 C397.69,91.76 396.45,94.52 395.85,95.39 C395.26,96.25 393.24,97.84 392.44,98.23 C391.64,98.63 389.75,99.14 389.02,98.80 C388.29,98.47 386.57,96.58 386.18,95.39 C385.78,94.19 385.14,89.55 385.61,88.55Z" fill="#ec6a12"/>
<path d="M360.55,119.30 C360.82,118.50 364.05,118.43 365.11,118.16 C366.17,117.89 368.60,117.22 369.66,117.02 C370.73,116.82 373.16,116.32 374.22,116.45 C375.28,116.59 377.71,117.70 378.77,118.16 C379.84,118.63 382.27,119.77 383.33,120.44 C384.39,121.10 386.82,123.06 387.88,123.85 C388.95,124.65 391.38,126.74 392.44,127.27 C393.50,127.80 395.93,128.41 396.99,128.41 C398.06,128.41 400.48,127.40 401.55,127.27 C402.61,127.14 405.04,127.00 406.10,127.27 C407.16,127.54 409.99,128.88 410.66,129.55 C411.32,130.21 412.06,132.17 411.80,132.96 C411.53,133.76 409.31,135.85 408.38,136.38 C407.45,136.91 404.89,137.45 403.82,137.52 C402.76,137.58 400.33,137.48 399.27,136.95 C398.21,136.42 395.78,133.83 394.72,132.96 C393.65,132.10 391.36,130.21 390.16,129.55 C388.96,128.88 385.80,127.74 384.47,127.27 C383.14,126.81 380.10,125.83 378.77,125.56 C377.45,125.30 374.41,124.93 373.08,124.99 C371.75,125.06 368.58,126.13 367.39,126.13 C366.19,126.13 363.63,125.79 362.83,124.99 C362.04,124.20 360.29,120.10 360.55,119.30Z" fill="#e8200c"/>
<use href="#shadeM" transform="translate(360.10,86.10)"/>
</g>
<clipPath id="cbADNIM2"><use href="#medO" transform="translate(508.50,86.60) scale(-1,1)"/></clipPath>
<g clip-path="url(#cbADNIM2)">
<use href="#baseM" transform="translate(508.50,86.60) scale(-1,1)"/>
<path d="M448.94,105.64 C449.61,105.04 454.05,102.82 455.77,102.22 C457.50,101.62 461.88,100.91 463.74,100.51 C465.60,100.11 469.99,99.00 471.72,98.80 C473.44,98.60 477.22,98.54 478.55,98.80 C479.88,99.07 482.31,100.42 483.10,101.08 C483.90,101.74 485.38,103.83 485.38,104.50 C485.38,105.16 484.16,106.57 483.10,106.77 C482.04,106.97 477.86,106.34 476.27,106.20 C474.68,106.07 471.16,105.64 469.44,105.64 C467.71,105.64 463.19,106.07 461.47,106.20 C459.74,106.34 455.96,106.64 454.64,106.77 C453.31,106.91 450.74,107.48 450.08,107.34 C449.42,107.21 448.28,106.23 448.94,105.64Z" fill="#e8200c"/>
<path d="M473.99,87.42 C474.39,86.62 477.48,86.28 478.55,86.28 C479.61,86.28 482.04,86.88 483.10,87.42 C484.16,87.95 486.59,90.17 487.66,90.83 C488.72,91.50 491.15,92.45 492.21,93.11 C493.27,93.77 496.10,95.60 496.77,96.53 C497.43,97.46 498.04,100.02 497.91,101.08 C497.77,102.14 496.29,104.57 495.63,105.64 C494.96,106.70 493.01,109.26 492.21,110.19 C491.41,111.12 489.46,112.81 488.80,113.61 C488.13,114.40 487.05,116.49 486.52,117.02 C485.99,117.55 484.64,118.43 484.24,118.16 C483.84,117.89 482.97,115.67 483.10,114.74 C483.24,113.81 485.25,111.12 485.38,110.19 C485.51,109.26 484.64,107.84 484.24,106.77 C483.84,105.71 482.63,102.14 481.96,101.08 C481.30,100.02 479.34,98.59 478.55,97.66 C477.75,96.73 475.66,94.31 475.13,93.11 C474.60,91.91 473.59,88.21 473.99,87.42Z" fill="#ec6a12"/>
<path d="M478.55,122.72 C479.48,121.92 482.04,119.96 483.10,119.30 C484.16,118.64 486.46,117.29 487.66,117.02 C488.85,116.76 492.02,116.89 493.35,117.02 C494.68,117.15 497.85,117.76 499.04,118.16 C500.24,118.56 502.67,119.91 503.60,120.44 C504.53,120.97 506.75,122.18 507.01,122.72 C507.28,123.25 506.54,124.73 505.88,124.99 C505.21,125.26 502.38,125.13 501.32,124.99 C500.26,124.86 497.83,123.99 496.77,123.85 C495.70,123.72 493.27,123.72 492.21,123.85 C491.15,123.99 488.72,124.59 487.66,124.99 C486.59,125.39 484.16,126.74 483.10,127.27 C482.04,127.80 479.74,129.02 478.55,129.55 C477.35,130.08 474.05,131.29 472.85,131.82 C471.66,132.36 469.23,133.57 468.30,134.10 C467.37,134.63 465.81,136.11 464.88,136.38 C463.95,136.65 461.13,136.65 460.33,136.38 C459.53,136.11 457.79,134.63 458.05,134.10 C458.32,133.57 461.28,132.36 462.61,131.82 C463.93,131.29 467.98,130.21 469.44,129.55 C470.90,128.88 474.07,126.93 475.13,126.13 C476.19,125.33 477.62,123.51 478.55,122.72Z" fill="#e01a0c"/>
<path d="M489.93,118.16 C490.33,117.63 495.44,117.89 496.77,118.16 C498.09,118.43 501.06,119.84 501.32,120.44 C501.59,121.04 499.97,123.02 499.04,123.28 C498.11,123.55 494.41,123.31 493.35,122.72 C492.29,122.12 489.54,118.69 489.93,118.16Z" fill="#b01010"/>
<use href="#shadeM" transform="translate(508.50,86.60) scale(-1,1)"/>
</g>
<clipPath id="cbAIBLL1"><use href="#latO" transform="translate(534.80,29.80)"/></clipPath>
<g clip-path="url(#cbAIBLL1)">
<use href="#baseL" transform="translate(534.80,29.80)"/>
<path d="M572.13,47.36 C572.53,46.43 574.62,43.60 575.55,42.80 C576.48,42.01 578.91,40.86 580.10,40.53 C581.30,40.19 584.60,39.82 585.80,39.96 C586.99,40.09 589.42,41.07 590.35,41.66 C591.28,42.26 593.43,44.15 593.77,45.08 C594.10,46.01 593.60,48.71 593.20,49.64 C592.80,50.56 591.08,52.52 590.35,53.05 C589.62,53.58 587.73,53.92 586.93,54.19 C586.14,54.46 584.18,55.46 583.52,55.33 C582.85,55.20 581.91,53.18 581.24,53.05 C580.58,52.92 578.62,54.19 577.82,54.19 C577.03,54.19 575.07,53.45 574.41,53.05 C573.74,52.65 572.40,51.44 572.13,50.77 C571.87,50.11 571.73,48.29 572.13,47.36Z" fill="#f05010"/>
<path d="M580.10,55.33 C580.77,54.80 583.46,54.46 584.66,54.19 C585.85,53.92 589.29,52.79 590.35,53.05 C591.41,53.32 593.63,55.54 593.77,56.47 C593.90,57.40 591.49,60.09 591.49,61.02 C591.49,61.95 592.70,63.84 593.77,64.44 C594.83,65.04 599.27,65.88 600.60,66.15 C601.93,66.41 604.75,66.38 605.15,66.72 C605.55,67.05 604.81,68.66 604.01,68.99 C603.22,69.32 599.78,69.56 598.32,69.56 C596.86,69.56 593.08,68.79 591.49,68.99 C589.89,69.19 586.25,71.00 584.66,71.27 C583.06,71.54 579.55,71.00 577.82,71.27 C576.10,71.54 571.58,73.02 569.85,73.55 C568.13,74.08 564.35,75.29 563.02,75.82 C561.69,76.36 559.40,77.97 558.47,78.10 C557.54,78.24 555.32,77.63 555.05,76.96 C554.79,76.30 555.66,73.34 556.19,72.41 C556.72,71.48 558.68,69.66 559.61,68.99 C560.54,68.33 562.96,67.25 564.16,66.72 C565.36,66.18 568.53,64.97 569.85,64.44 C571.18,63.91 574.48,62.82 575.55,62.16 C576.61,61.50 578.43,59.54 578.96,58.74 C579.49,57.95 579.44,55.86 580.10,55.33Z" fill="#e82010"/>
<path d="M560.74,65.58 C561.41,64.78 563.97,62.96 565.30,62.16 C566.63,61.36 570.67,59.54 572.13,58.74 C573.59,57.95 576.63,55.93 577.82,55.33 C579.02,54.73 581.72,53.49 582.38,53.62 C583.04,53.75 583.92,55.74 583.52,56.47 C583.12,57.20 580.16,59.09 578.96,59.88 C577.77,60.68 574.73,62.44 573.27,63.30 C571.81,64.16 567.77,66.49 566.44,67.28 C565.11,68.08 562.68,69.93 561.88,70.13 C561.09,70.33 559.74,69.52 559.61,68.99 C559.47,68.46 560.08,66.37 560.74,65.58Z" fill="#e8e890"/>
<path d="M558.47,78.10 C558.73,77.44 562.57,75.35 564.16,74.69 C565.75,74.02 570.40,72.94 572.13,72.41 C573.86,71.88 577.50,70.66 578.96,70.13 C580.42,69.60 583.46,68.25 584.66,67.85 C585.85,67.46 588.41,66.65 589.21,66.72 C590.01,66.78 591.75,68.02 591.49,68.42 C591.22,68.82 588.26,69.67 586.93,70.13 C585.61,70.60 581.70,71.88 580.10,72.41 C578.51,72.94 574.86,74.02 573.27,74.69 C571.68,75.35 567.77,77.44 566.44,78.10 C565.11,78.77 562.81,80.38 561.88,80.38 C560.95,80.38 558.20,78.77 558.47,78.10Z" fill="#f0f0a0"/>
<path d="M569.85,31.99 C570.12,31.63 572.74,30.99 573.27,31.19 C573.80,31.39 574.67,33.33 574.41,33.69 C574.14,34.05 571.52,34.46 570.99,34.26 C570.46,34.06 569.59,32.34 569.85,31.99Z" fill="#ec5010"/>
<use href="#shadeL" transform="translate(534.80,29.80)"/>
</g>
<clipPath id="cbAIBLL2"><use href="#latO" transform="translate(682.80,30.10) scale(-1,1)"/></clipPath>
<g clip-path="url(#cbAIBLL2)">
<use href="#baseL" transform="translate(682.80,30.10) scale(-1,1)"/>
<path d="M634.33,34.83 C634.53,34.10 636.81,32.38 637.74,31.99 C638.67,31.59 641.37,31.08 642.30,31.42 C643.23,31.75 644.92,33.90 645.72,34.83 C646.51,35.76 648.33,38.32 649.13,39.39 C649.93,40.45 651.88,42.88 652.55,43.94 C653.21,45.00 654.43,47.43 654.82,48.50 C655.22,49.56 655.96,51.99 655.96,53.05 C655.96,54.11 655.36,57.21 654.82,57.61 C654.29,58.00 652.21,57.13 651.41,56.47 C650.61,55.80 648.66,52.98 647.99,51.91 C647.33,50.85 646.38,48.42 645.72,47.36 C645.05,46.29 643.10,43.73 642.30,42.80 C641.50,41.87 639.61,39.92 638.88,39.39 C638.15,38.86 636.57,38.78 636.04,38.25 C635.51,37.72 634.13,35.56 634.33,34.83Z" fill="#b01010"/>
<path d="M613.83,62.16 C613.57,60.83 614.44,57.80 614.97,56.47 C615.50,55.14 617.59,51.97 618.39,50.77 C619.18,49.58 620.87,47.15 621.80,46.22 C622.73,45.29 625.29,43.33 626.36,42.80 C627.42,42.27 629.98,41.40 630.91,41.66 C631.84,41.93 633.80,44.02 634.33,45.08 C634.86,46.14 635.20,49.58 635.47,50.77 C635.73,51.97 635.94,54.53 636.61,55.33 C637.27,56.13 639.96,57.07 641.16,57.61 C642.36,58.14 645.53,59.35 646.85,59.88 C648.18,60.41 651.48,61.63 652.55,62.16 C653.61,62.69 655.56,63.77 655.96,64.44 C656.36,65.10 656.63,67.59 655.96,67.85 C655.30,68.12 651.60,67.11 650.27,66.72 C648.94,66.32 646.04,64.97 644.58,64.44 C643.12,63.91 639.21,62.29 637.74,62.16 C636.28,62.03 633.25,62.90 632.05,63.30 C630.86,63.70 628.56,65.05 627.50,65.58 C626.43,66.11 624.14,67.59 622.94,67.85 C621.75,68.12 618.31,68.52 617.25,67.85 C616.19,67.19 614.10,63.49 613.83,62.16Z" fill="#b01010"/>
<path d="M619.53,48.50 C620.19,47.30 624.02,45.21 625.22,45.08 C626.41,44.95 629.38,46.43 629.77,47.36 C630.17,48.29 629.30,51.99 628.64,53.05 C627.97,54.11 625.14,56.20 624.08,56.47 C623.02,56.73 620.06,56.26 619.53,55.33 C618.99,54.40 618.86,49.69 619.53,48.50Z" fill="#d41010"/>
<path d="M624.08,58.74 C624.35,57.55 627.57,55.59 628.64,55.33 C629.70,55.06 631.99,55.80 633.19,56.47 C634.39,57.13 637.55,60.09 638.88,61.02 C640.21,61.95 643.25,63.64 644.58,64.44 C645.91,65.24 648.94,67.06 650.27,67.85 C651.60,68.65 655.03,70.34 655.96,71.27 C656.89,72.20 658.11,75.03 658.24,75.82 C658.37,76.62 657.77,78.10 657.10,78.10 C656.44,78.10 653.74,76.49 652.55,75.82 C651.35,75.16 648.32,73.21 646.85,72.41 C645.39,71.61 641.62,69.66 640.02,68.99 C638.43,68.33 634.78,67.11 633.19,66.72 C631.60,66.32 627.42,66.51 626.36,65.58 C625.29,64.65 623.81,59.94 624.08,58.74Z" fill="#ec6a10"/>
<path d="M624.08,65.58 C624.74,65.24 628.58,64.87 629.77,65.01 C630.97,65.14 633.13,66.12 634.33,66.72 C635.52,67.31 638.69,69.47 640.02,70.13 C641.35,70.80 644.39,71.88 645.72,72.41 C647.04,72.94 650.08,74.02 651.41,74.69 C652.74,75.35 656.57,77.44 657.10,78.10 C657.63,78.77 656.63,80.25 655.96,80.38 C655.30,80.51 652.74,79.77 651.41,79.24 C650.08,78.71 646.04,76.49 644.58,75.82 C643.12,75.16 640.21,74.08 638.88,73.55 C637.55,73.02 634.65,71.80 633.19,71.27 C631.73,70.74 627.42,69.39 626.36,68.99 C625.29,68.59 624.35,68.25 624.08,67.85 C623.81,67.46 623.42,65.91 624.08,65.58Z" fill="#f0f0a0"/>
<use href="#shadeL" transform="translate(682.80,30.10) scale(-1,1)"/>
</g>
<clipPath id="cbAIBLM1"><use href="#medO" transform="translate(534.60,86.10)"/></clipPath>
<g clip-path="url(#cbAIBLM1)">
<use href="#baseM" transform="translate(534.60,86.10)"/>
<path d="M545.94,98.80 C546.34,97.87 548.43,95.05 549.36,94.25 C550.29,93.45 552.98,92.50 553.91,91.97 C554.84,91.44 556.60,89.83 557.33,89.69 C558.06,89.56 559.91,90.17 560.18,90.83 C560.44,91.50 559.94,94.32 559.61,95.39 C559.27,96.45 557.79,98.88 557.33,99.94 C556.86,101.00 555.95,103.57 555.62,104.50 C555.29,105.43 554.48,106.98 554.48,107.91 C554.48,108.84 555.22,111.54 555.62,112.47 C556.02,113.40 557.30,115.09 557.90,115.88 C558.50,116.68 560.68,118.77 560.74,119.30 C560.81,119.83 559.13,120.70 558.47,120.44 C557.80,120.17 555.72,117.95 555.05,117.02 C554.39,116.09 553.31,113.53 552.77,112.47 C552.24,111.40 551.09,108.71 550.50,107.91 C549.90,107.12 548.18,106.30 547.65,105.64 C547.12,104.97 546.14,103.02 545.94,102.22 C545.74,101.42 545.54,99.73 545.94,98.80Z" fill="#f08c10"/>
<path d="M560.18,88.55 C560.60,87.56 563.10,86.98 564.16,86.85 C565.22,86.71 568.35,86.95 569.28,87.42 C570.21,87.88 572.00,89.90 572.13,90.83 C572.26,91.76 571.02,94.52 570.42,95.39 C569.83,96.25 567.80,97.84 567.01,98.23 C566.21,98.63 564.35,99.14 563.59,98.80 C562.83,98.47 560.92,96.58 560.52,95.39 C560.12,94.19 559.75,89.55 560.18,88.55Z" fill="#ec5a12"/>
<path d="M536.83,122.72 C536.83,122.05 539.32,119.96 540.25,119.30 C541.18,118.64 543.74,117.35 544.80,117.02 C545.87,116.69 548.29,116.32 549.36,116.45 C550.42,116.59 552.85,117.70 553.91,118.16 C554.98,118.63 557.40,119.77 558.47,120.44 C559.53,121.10 561.96,123.06 563.02,123.85 C564.08,124.65 566.51,126.61 567.58,127.27 C568.64,127.93 570.94,129.02 572.13,129.55 C573.33,130.08 576.50,131.43 577.82,131.82 C579.15,132.22 582.59,132.70 583.52,132.96 C584.45,133.23 585.93,133.70 585.80,134.10 C585.66,134.50 583.31,135.98 582.38,136.38 C581.45,136.78 578.89,137.52 577.82,137.52 C576.76,137.52 574.33,136.91 573.27,136.38 C572.21,135.85 569.91,133.76 568.72,132.96 C567.52,132.17 564.35,130.21 563.02,129.55 C561.69,128.88 558.66,127.67 557.33,127.27 C556.00,126.87 552.96,126.40 551.64,126.13 C550.31,125.87 547.27,125.13 545.94,124.99 C544.61,124.86 541.31,125.26 540.25,124.99 C539.19,124.73 536.83,123.38 536.83,122.72Z" fill="#b81410"/>
<path d="M548.22,120.44 C548.75,120.17 553.46,121.05 555.05,121.58 C556.65,122.11 560.42,124.20 561.88,124.99 C563.34,125.79 567.31,127.94 567.58,128.41 C567.84,128.87 565.36,129.24 564.16,128.98 C562.96,128.71 558.92,126.73 557.33,126.13 C555.73,125.53 551.56,124.52 550.50,123.85 C549.43,123.19 547.69,120.70 548.22,120.44Z" fill="#e86010"/>
<use href="#shadeM" transform="translate(534.60,86.10)"/>
</g>
<clipPath id="cbAIBLM2"><use href="#medO" transform="translate(683.00,86.60) scale(-1,1)"/></clipPath>
<g clip-path="url(#cbAIBLM2)">
<use href="#baseM" transform="translate(683.00,86.60) scale(-1,1)"/>
<path d="M619.53,109.05 C620.26,108.32 623.62,107.61 625.22,107.34 C626.81,107.08 631.46,106.77 633.19,106.77 C634.92,106.77 639.49,107.08 640.02,107.34 C640.55,107.61 638.67,108.59 637.74,109.05 C636.81,109.52 633.25,110.66 632.05,111.33 C630.86,111.99 628.09,113.81 627.50,114.74 C626.90,115.67 626.66,118.37 626.93,119.30 C627.19,120.23 629.57,122.12 629.77,122.72 C629.97,123.31 629.30,124.42 628.64,124.42 C627.97,124.42 625.01,123.45 624.08,122.72 C623.15,121.98 621.26,119.22 620.66,118.16 C620.07,117.10 619.09,114.67 618.96,113.61 C618.82,112.54 618.79,109.78 619.53,109.05Z" fill="#b01010"/>
<path d="M654.82,88.55 C655.22,87.96 658.32,87.59 659.38,87.99 C660.44,88.38 662.87,91.24 663.93,91.97 C665.00,92.70 667.56,93.45 668.49,94.25 C669.42,95.05 671.64,97.61 671.91,98.80 C672.17,100.00 671.30,103.17 670.77,104.50 C670.24,105.82 668.01,108.99 667.35,110.19 C666.69,111.39 665.74,113.81 665.07,114.74 C664.41,115.67 662.45,117.36 661.66,118.16 C660.86,118.96 659.04,121.05 658.24,121.58 C657.44,122.11 655.36,122.85 654.82,122.72 C654.29,122.58 653.42,121.10 653.69,120.44 C653.95,119.77 656.31,117.95 657.10,117.02 C657.90,116.09 659.99,113.66 660.52,112.47 C661.05,111.27 661.66,107.97 661.66,106.77 C661.66,105.58 660.92,103.28 660.52,102.22 C660.12,101.16 658.77,98.73 658.24,97.66 C657.71,96.60 656.36,94.17 655.96,93.11 C655.56,92.05 654.43,89.15 654.82,88.55Z" fill="#b01010"/>
<path d="M649.13,87.42 C649.40,86.75 652.76,86.28 653.69,86.28 C654.62,86.28 656.64,86.62 657.10,87.42 C657.57,88.21 657.80,91.91 657.67,93.11 C657.54,94.31 656.43,97.27 655.96,97.66 C655.50,98.06 654.22,97.19 653.69,96.53 C653.15,95.86 651.94,93.03 651.41,91.97 C650.88,90.91 648.87,88.08 649.13,87.42Z" fill="#f0a010"/>
<path d="M654.82,123.85 C655.22,123.06 659.19,120.10 660.52,119.30 C661.85,118.50 664.75,117.15 666.21,117.02 C667.67,116.89 671.58,117.63 673.04,118.16 C674.51,118.69 677.67,120.91 678.74,121.58 C679.80,122.24 682.02,123.32 682.15,123.85 C682.29,124.39 680.81,126.00 679.88,126.13 C678.95,126.26 675.51,125.26 674.18,124.99 C672.85,124.73 669.82,123.85 668.49,123.85 C667.16,123.85 664.12,124.73 662.80,124.99 C661.47,125.26 658.03,126.26 657.10,126.13 C656.17,126.00 654.43,124.65 654.82,123.85Z" fill="#b01010"/>
<path d="M637.74,136.38 C638.28,135.91 642.85,134.77 644.58,134.10 C646.30,133.44 650.82,131.48 652.55,130.69 C654.27,129.89 657.79,127.93 659.38,127.27 C660.97,126.61 664.88,125.39 666.21,124.99 C667.54,124.59 670.10,123.72 670.77,123.85 C671.43,123.99 672.44,125.73 671.91,126.13 C671.37,126.53 667.67,126.87 666.21,127.27 C664.75,127.67 660.97,128.88 659.38,129.55 C657.79,130.21 654.14,132.23 652.55,132.96 C650.95,133.69 647.18,135.21 645.72,135.81 C644.25,136.41 640.95,138.02 640.02,138.09 C639.09,138.15 637.21,136.84 637.74,136.38Z" fill="#ec7010"/>
<use href="#shadeM" transform="translate(683.00,86.60) scale(-1,1)"/>
</g>
<clipPath id="cbEDSDL1"><use href="#latO" transform="translate(360.30,163.20)"/></clipPath>
<g clip-path="url(#cbEDSDL1)">
<use href="#baseL" transform="translate(360.30,163.20)"/>
<path d="M398.13,180.64 C398.53,179.84 400.62,176.88 401.55,176.08 C402.48,175.28 404.91,174.07 406.10,173.80 C407.30,173.54 410.60,173.54 411.80,173.80 C412.99,174.07 415.49,175.42 416.35,176.08 C417.21,176.74 418.93,178.57 419.20,179.50 C419.46,180.43 418.96,183.12 418.63,184.05 C418.30,184.98 416.28,186.80 416.35,187.47 C416.42,188.13 419.06,189.08 419.20,189.74 C419.33,190.41 418.22,192.63 417.49,193.16 C416.76,193.69 413.86,194.30 412.93,194.30 C412.00,194.30 410.18,193.69 409.52,193.16 C408.85,192.63 407.91,190.41 407.24,189.74 C406.58,189.08 404.62,188.00 403.82,187.47 C403.03,186.94 401.07,185.72 400.41,185.19 C399.74,184.66 398.40,183.44 398.13,182.91 C397.87,182.38 397.73,181.43 398.13,180.64Z" fill="#ec5a10"/>
<path d="M404.96,187.47 C405.63,186.94 408.46,186.20 409.52,186.33 C410.58,186.46 413.41,187.81 414.07,188.61 C414.74,189.40 414.81,192.10 415.21,193.16 C415.61,194.22 416.43,197.05 417.49,197.72 C418.55,198.38 422.86,198.52 424.32,198.85 C425.78,199.19 429.48,200.10 430.01,200.56 C430.55,201.03 429.81,202.57 428.88,202.84 C427.95,203.11 423.64,202.91 422.04,202.84 C420.45,202.77 416.81,202.20 415.21,202.27 C413.62,202.34 409.97,203.14 408.38,203.41 C406.79,203.67 403.14,204.15 401.55,204.55 C399.95,204.95 396.18,206.29 394.72,206.82 C393.25,207.36 390.22,208.57 389.02,209.10 C387.83,209.63 385.40,211.25 384.47,211.38 C383.54,211.51 381.32,210.91 381.05,210.24 C380.79,209.58 381.53,206.75 382.19,205.69 C382.85,204.62 385.55,202.06 386.74,201.13 C387.94,200.20 390.98,198.51 392.44,197.72 C393.90,196.92 397.94,195.10 399.27,194.30 C400.60,193.50 403.16,191.68 403.82,190.88 C404.49,190.09 404.30,188.00 404.96,187.47Z" fill="#ec5010"/>
<path d="M417.49,198.28 C418.29,197.95 422.86,198.63 424.32,198.85 C425.78,199.08 429.48,199.76 430.01,200.22 C430.55,200.69 429.81,202.53 428.88,202.84 C427.95,203.14 423.37,202.97 422.04,202.84 C420.72,202.71 418.02,202.23 417.49,201.70 C416.96,201.17 416.69,198.62 417.49,198.28Z" fill="#e82010"/>
<path d="M387.88,197.72 C388.55,196.92 391.24,195.03 392.44,194.30 C393.63,193.57 396.80,192.12 398.13,191.45 C399.46,190.79 402.70,189.14 403.82,188.61 C404.95,188.07 407.21,186.76 407.81,186.90 C408.41,187.03 409.28,189.08 408.95,189.74 C408.62,190.41 406.09,191.93 404.96,192.59 C403.83,193.26 400.60,194.71 399.27,195.44 C397.94,196.17 394.77,198.06 393.58,198.85 C392.38,199.65 389.82,202.00 389.02,202.27 C388.22,202.54 386.88,201.66 386.74,201.13 C386.61,200.60 387.22,198.51 387.88,197.72Z" fill="#f0e050"/>
<path d="M384.47,210.24 C384.87,209.58 388.70,207.49 390.16,206.82 C391.62,206.16 395.40,205.01 396.99,204.55 C398.59,204.08 402.36,203.24 403.82,202.84 C405.29,202.44 408.19,201.46 409.52,201.13 C410.85,200.80 414.28,199.93 415.21,199.99 C416.14,200.06 417.89,201.30 417.49,201.70 C417.09,202.10 413.26,203.01 411.80,203.41 C410.33,203.81 406.56,204.65 404.96,205.12 C403.37,205.58 399.73,206.80 398.13,207.39 C396.54,207.99 392.63,209.64 391.30,210.24 C389.97,210.84 387.54,212.52 386.74,212.52 C385.95,212.52 384.07,210.91 384.47,210.24Z" fill="#f0f040"/>
<use href="#shadeL" transform="translate(360.30,163.20)"/>
</g>
<clipPath id="cbEDSDL2"><use href="#latO" transform="translate(508.30,163.50) scale(-1,1)"/></clipPath>
<g clip-path="url(#cbEDSDL2)">
<use href="#baseL" transform="translate(508.30,163.50) scale(-1,1)"/>
<path d="M455.77,176.08 C455.91,175.28 458.26,174.07 459.19,173.80 C460.12,173.54 462.81,173.40 463.74,173.80 C464.67,174.20 466.36,176.29 467.16,177.22 C467.96,178.15 469.78,180.84 470.58,181.77 C471.37,182.70 473.73,184.53 473.99,185.19 C474.26,185.85 473.52,187.20 472.85,187.47 C472.19,187.73 469.23,187.60 468.30,187.47 C467.37,187.33 465.55,186.33 464.88,186.33 C464.22,186.33 463.14,187.73 462.61,187.47 C462.07,187.20 460.86,184.85 460.33,184.05 C459.80,183.25 458.58,181.56 458.05,180.64 C457.52,179.71 455.64,176.88 455.77,176.08Z" fill="#d81010"/>
<path d="M439.83,193.16 C439.83,191.83 440.44,189.67 440.97,188.61 C441.50,187.54 443.72,185.11 444.39,184.05 C445.05,182.99 445.87,180.29 446.66,179.50 C447.46,178.70 450.29,177.22 451.22,177.22 C452.15,177.22 454.10,178.57 454.64,179.50 C455.17,180.43 455.24,184.13 455.77,185.19 C456.31,186.25 458.26,187.94 459.19,188.61 C460.12,189.27 462.55,190.35 463.74,190.88 C464.94,191.41 467.98,192.63 469.44,193.16 C470.90,193.69 474.81,194.91 476.27,195.44 C477.73,195.97 480.77,196.92 481.96,197.72 C483.16,198.51 485.72,201.21 486.52,202.27 C487.32,203.33 488.66,205.76 488.80,206.82 C488.93,207.89 488.19,210.98 487.66,211.38 C487.13,211.78 485.04,210.77 484.24,210.24 C483.44,209.71 481.89,207.62 480.82,206.82 C479.76,206.03 476.73,204.07 475.13,203.41 C473.54,202.74 469.02,201.53 467.16,201.13 C465.30,200.73 460.92,200.13 459.19,199.99 C457.46,199.86 453.95,199.73 452.36,199.99 C450.76,200.26 446.85,202.27 445.53,202.27 C444.20,202.27 441.64,201.06 440.97,199.99 C440.31,198.93 439.83,194.49 439.83,193.16Z" fill="#d81a10"/>
<path d="M448.94,190.88 C449.34,190.09 452.43,187.73 453.50,187.47 C454.56,187.20 456.99,188.07 458.05,188.61 C459.11,189.14 461.28,191.22 462.61,192.02 C463.93,192.82 467.84,194.64 469.44,195.44 C471.03,196.24 474.81,198.06 476.27,198.85 C477.73,199.65 480.90,201.34 481.96,202.27 C483.03,203.20 485.11,206.03 485.38,206.82 C485.65,207.62 484.91,209.10 484.24,209.10 C483.58,209.10 480.88,207.49 479.69,206.82 C478.49,206.16 475.45,204.07 473.99,203.41 C472.53,202.74 468.75,201.53 467.16,201.13 C465.57,200.73 461.92,200.39 460.33,199.99 C458.73,199.59 454.69,198.38 453.50,197.72 C452.30,197.05 450.61,195.10 450.08,194.30 C449.55,193.50 448.54,191.68 448.94,190.88Z" fill="#ec7a10"/>
<path d="M450.08,198.85 C450.61,198.46 454.58,198.15 455.77,198.28 C456.97,198.42 459.27,199.39 460.33,199.99 C461.39,200.59 463.69,202.74 464.88,203.41 C466.08,204.07 469.25,205.15 470.58,205.69 C471.91,206.22 474.94,207.43 476.27,207.96 C477.60,208.49 481.17,209.58 481.96,210.24 C482.76,210.91 483.37,213.26 483.10,213.66 C482.84,214.06 480.75,213.92 479.69,213.66 C478.62,213.39 475.45,212.04 473.99,211.38 C472.53,210.72 468.62,208.63 467.16,207.96 C465.70,207.30 462.80,206.22 461.47,205.69 C460.14,205.15 456.97,203.87 455.77,203.41 C454.58,202.94 451.88,202.23 451.22,201.70 C450.55,201.17 449.55,199.25 450.08,198.85Z" fill="#f0f090"/>
<use href="#shadeL" transform="translate(508.30,163.50) scale(-1,1)"/>
</g>
<clipPath id="cbEDSDM1"><use href="#medO" transform="translate(360.10,219.50)"/></clipPath>
<g clip-path="url(#cbEDSDM1)">
<use href="#baseM" transform="translate(360.10,219.50)"/>
<path d="M371.94,230.94 C372.34,230.14 374.43,228.19 375.36,227.53 C376.29,226.86 378.98,225.78 379.91,225.25 C380.84,224.72 382.60,223.37 383.33,222.97 C384.06,222.57 385.71,221.43 386.18,221.83 C386.64,222.23 387.45,225.32 387.31,226.39 C387.18,227.45 385.57,230.01 385.04,230.94 C384.51,231.87 383.16,233.56 382.76,234.36 C382.36,235.15 381.69,236.84 381.62,237.77 C381.55,238.70 381.92,241.27 382.19,242.33 C382.46,243.39 383.43,245.82 383.90,246.88 C384.36,247.95 386.18,250.77 386.18,251.44 C386.18,252.10 384.50,252.84 383.90,252.58 C383.30,252.31 381.65,250.09 381.05,249.16 C380.45,248.23 379.31,245.67 378.77,244.61 C378.24,243.54 377.09,240.85 376.50,240.05 C375.90,239.25 374.18,238.44 373.65,237.77 C373.12,237.11 372.14,235.15 371.94,234.36 C371.74,233.56 371.54,231.74 371.94,230.94Z" fill="#ec6410"/>
<path d="M362.83,254.85 C362.83,254.19 365.45,252.98 366.25,252.58 C367.05,252.18 368.73,251.70 369.66,251.44 C370.59,251.17 373.16,250.30 374.22,250.30 C375.28,250.30 377.71,251.04 378.77,251.44 C379.84,251.84 382.27,253.05 383.33,253.72 C384.39,254.38 386.82,256.33 387.88,257.13 C388.95,257.93 391.38,259.88 392.44,260.55 C393.50,261.21 395.80,262.43 396.99,262.82 C398.19,263.22 401.49,263.70 402.69,263.96 C403.88,264.23 406.18,264.70 407.24,265.10 C408.30,265.50 411.66,266.85 411.80,267.38 C411.93,267.91 409.31,269.26 408.38,269.66 C407.45,270.06 404.89,270.80 403.82,270.80 C402.76,270.80 400.33,270.19 399.27,269.66 C398.21,269.13 395.91,267.04 394.72,266.24 C393.52,265.44 390.35,263.49 389.02,262.82 C387.69,262.16 384.66,260.95 383.33,260.55 C382.00,260.15 378.96,259.67 377.64,259.41 C376.31,259.14 373.27,258.40 371.94,258.27 C370.61,258.14 367.31,258.67 366.25,258.27 C365.19,257.87 362.83,255.52 362.83,254.85Z" fill="#d81410"/>
<use href="#shadeM" transform="translate(360.10,219.50)"/>
</g>
<clipPath id="cbEDSDM2"><use href="#medO" transform="translate(508.50,220.00) scale(-1,1)"/></clipPath>
<g clip-path="url(#cbEDSDM2)">
<use href="#baseM" transform="translate(508.50,220.00) scale(-1,1)"/>
<path d="M475.13,221.83 C475.66,221.23 479.63,220.12 480.82,220.12 C482.02,220.12 484.32,221.23 485.38,221.83 C486.44,222.43 488.87,224.58 489.93,225.25 C491.00,225.91 493.56,226.73 494.49,227.53 C495.42,228.32 497.51,230.88 497.91,232.08 C498.30,233.28 498.30,236.58 497.91,237.77 C497.51,238.97 495.15,241.27 494.49,242.33 C493.82,243.39 492.88,245.82 492.21,246.88 C491.55,247.95 489.59,250.64 488.80,251.44 C488.00,252.24 486.31,253.18 485.38,253.72 C484.45,254.25 481.49,255.99 480.82,255.99 C480.16,255.99 479.42,254.38 479.69,253.72 C479.95,253.05 482.31,251.23 483.10,250.30 C483.90,249.37 485.99,246.81 486.52,245.74 C487.05,244.68 487.66,242.25 487.66,241.19 C487.66,240.13 487.05,237.70 486.52,236.64 C485.99,235.57 483.90,233.01 483.10,232.08 C482.31,231.15 480.48,229.46 479.69,228.66 C478.89,227.87 476.80,226.05 476.27,225.25 C475.74,224.45 474.60,222.43 475.13,221.83Z" fill="#e01a0c"/>
<path d="M475.13,221.26 C475.53,220.53 479.89,219.79 480.82,220.12 C481.75,220.46 482.97,222.98 483.10,224.11 C483.24,225.24 482.36,229.01 481.96,229.80 C481.56,230.60 480.22,231.34 479.69,230.94 C479.15,230.54 477.94,227.52 477.41,226.39 C476.88,225.26 474.73,221.99 475.13,221.26Z" fill="#e84010"/>
<path d="M480.82,257.13 C481.22,256.33 485.19,253.37 486.52,252.58 C487.85,251.78 490.75,250.43 492.21,250.30 C493.67,250.17 497.58,250.91 499.04,251.44 C500.51,251.97 503.67,254.19 504.74,254.85 C505.80,255.52 508.02,256.60 508.15,257.13 C508.29,257.66 506.81,259.28 505.88,259.41 C504.95,259.54 501.51,258.54 500.18,258.27 C498.85,258.00 495.82,257.13 494.49,257.13 C493.16,257.13 490.12,258.00 488.80,258.27 C487.47,258.54 484.03,259.54 483.10,259.41 C482.17,259.28 480.43,257.93 480.82,257.13Z" fill="#e01a0c"/>
<path d="M462.61,268.52 C463.00,267.99 467.71,266.91 469.44,266.24 C471.16,265.58 475.68,263.62 477.41,262.82 C479.14,262.03 482.65,260.07 484.24,259.41 C485.84,258.74 489.61,257.46 491.07,257.13 C492.53,256.80 495.97,256.36 496.77,256.56 C497.56,256.76 498.44,258.44 497.91,258.84 C497.37,259.24 493.67,259.65 492.21,259.98 C490.75,260.31 486.97,261.09 485.38,261.69 C483.79,262.28 480.14,264.37 478.55,265.10 C476.95,265.83 473.18,267.28 471.72,267.95 C470.25,268.61 467.08,270.73 466.02,270.80 C464.96,270.86 462.21,269.05 462.61,268.52Z" fill="#e86010"/>
<path d="M458.05,263.96 C458.18,263.17 460.74,261.75 461.47,261.69 C462.20,261.62 464.05,262.66 464.31,263.39 C464.58,264.12 464.21,267.35 463.74,267.95 C463.28,268.55 460.99,268.98 460.33,268.52 C459.66,268.05 457.92,264.76 458.05,263.96Z" fill="#e01a0c"/>
<use href="#shadeM" transform="translate(508.50,220.00) scale(-1,1)"/>
</g>
<clipPath id="cbOASISL1"><use href="#latO" transform="translate(535.30,162.00)"/></clipPath>
<g clip-path="url(#cbOASISL1)">
<use href="#baseL" transform="translate(535.30,162.00)"/>
<path d="M563.02,176.08 C563.15,174.88 564.64,172.59 565.30,171.53 C565.96,170.46 567.92,167.83 568.72,166.97 C569.51,166.11 571.20,164.59 572.13,164.12 C573.06,163.66 575.76,163.12 576.69,162.99 C577.62,162.85 579.44,162.65 580.10,162.99 C580.77,163.32 581.85,165.23 582.38,165.83 C582.91,166.43 584.52,167.45 584.66,168.11 C584.79,168.77 583.92,170.86 583.52,171.53 C583.12,172.19 581.91,173.40 581.24,173.80 C580.58,174.20 578.49,174.41 577.82,174.94 C577.16,175.47 576.08,177.56 575.55,178.36 C575.02,179.15 573.80,180.98 573.27,181.77 C572.74,182.57 571.66,184.39 570.99,185.19 C570.33,185.99 568.37,188.07 567.58,188.61 C566.78,189.14 564.69,190.01 564.16,189.74 C563.63,189.48 563.02,187.26 563.02,186.33 C563.02,185.40 564.16,182.97 564.16,181.77 C564.16,180.58 562.89,177.28 563.02,176.08Z" fill="#e81a0c"/>
<path d="M573.27,177.22 C573.74,176.42 576.63,174.33 577.82,173.80 C579.02,173.27 582.19,172.66 583.52,172.66 C584.85,172.66 588.08,173.27 589.21,173.80 C590.34,174.33 592.67,176.29 593.20,177.22 C593.73,178.15 594.10,180.98 593.77,181.77 C593.43,182.57 591.28,183.65 590.35,184.05 C589.42,184.45 586.73,184.92 585.80,185.19 C584.87,185.46 583.18,186.33 582.38,186.33 C581.58,186.33 579.76,185.52 578.96,185.19 C578.17,184.86 576.15,184.01 575.55,183.48 C574.95,182.95 574.11,181.37 573.84,180.64 C573.57,179.90 572.81,178.02 573.27,177.22Z" fill="#ec6a10"/>
<path d="M580.10,186.33 C580.77,185.80 583.46,185.96 584.66,185.76 C585.85,185.56 589.29,184.42 590.35,184.62 C591.41,184.82 593.57,186.60 593.77,187.47 C593.97,188.33 591.93,191.09 592.06,192.02 C592.19,192.95 593.78,194.77 594.91,195.44 C596.03,196.10 600.54,197.25 601.74,197.72 C602.93,198.18 604.89,198.96 605.15,199.42 C605.42,199.89 604.81,201.44 604.01,201.70 C603.22,201.97 599.78,201.77 598.32,201.70 C596.86,201.63 593.08,201.00 591.49,201.13 C589.89,201.26 586.25,202.57 584.66,202.84 C583.06,203.11 579.55,203.08 577.82,203.41 C576.10,203.74 571.58,205.15 569.85,205.69 C568.13,206.22 564.35,207.43 563.02,207.96 C561.69,208.49 559.40,210.11 558.47,210.24 C557.54,210.37 555.32,209.77 555.05,209.10 C554.79,208.44 555.66,205.48 556.19,204.55 C556.72,203.62 558.68,201.80 559.61,201.13 C560.54,200.47 562.96,199.39 564.16,198.85 C565.36,198.32 568.53,197.17 569.85,196.58 C571.18,195.98 574.48,194.46 575.55,193.73 C576.61,193.00 578.43,191.18 578.96,190.31 C579.49,189.45 579.44,186.86 580.10,186.33Z" fill="#e81a0c"/>
<path d="M561.88,196.58 C562.55,195.78 565.24,193.96 566.44,193.16 C567.63,192.36 570.80,190.48 572.13,189.74 C573.46,189.01 576.63,187.43 577.82,186.90 C579.02,186.37 581.72,185.06 582.38,185.19 C583.04,185.32 583.92,187.31 583.52,188.04 C583.12,188.77 580.16,190.66 578.96,191.45 C577.77,192.25 574.60,194.07 573.27,194.87 C571.94,195.67 568.77,197.55 567.58,198.28 C566.38,199.02 563.82,200.93 563.02,201.13 C562.22,201.33 560.88,200.52 560.74,199.99 C560.61,199.46 561.22,197.37 561.88,196.58Z" fill="#e0e090"/>
<path d="M558.47,210.24 C558.73,209.58 562.57,207.49 564.16,206.82 C565.75,206.16 570.40,205.08 572.13,204.55 C573.86,204.02 577.50,202.80 578.96,202.27 C580.42,201.74 583.33,200.39 584.66,199.99 C585.99,199.59 589.42,198.79 590.35,198.85 C591.28,198.92 593.03,200.16 592.63,200.56 C592.23,200.96 588.40,201.81 586.93,202.27 C585.47,202.74 581.70,204.02 580.10,204.55 C578.51,205.08 574.86,206.16 573.27,206.82 C571.68,207.49 567.77,209.58 566.44,210.24 C565.11,210.91 562.81,212.52 561.88,212.52 C560.95,212.52 558.20,210.91 558.47,210.24Z" fill="#f0f040"/>
<use href="#shadeL" transform="translate(535.30,162.00)"/>
</g>
<clipPath id="cbOASISL2"><use href="#latO" transform="translate(683.30,162.30) scale(-1,1)"/></clipPath>
<g clip-path="url(#cbOASISL2)">
<use href="#baseL" transform="translate(683.30,162.30) scale(-1,1)"/>
<path d="M613.83,193.16 C613.57,191.70 614.44,188.80 614.97,187.47 C615.50,186.14 617.59,182.97 618.39,181.77 C619.18,180.58 620.87,178.15 621.80,177.22 C622.73,176.29 625.29,174.47 626.36,173.80 C627.42,173.14 629.98,172.46 630.91,171.53 C631.84,170.60 633.40,166.83 634.33,165.83 C635.26,164.84 637.95,163.38 638.88,162.99 C639.81,162.59 641.50,162.08 642.30,162.42 C643.10,162.75 644.92,164.77 645.72,165.83 C646.51,166.89 648.33,170.20 649.13,171.53 C649.93,172.85 651.88,176.02 652.55,177.22 C653.21,178.41 654.43,180.58 654.82,181.77 C655.22,182.97 655.96,186.54 655.96,187.47 C655.96,188.40 655.36,189.61 654.82,189.74 C654.29,189.88 652.21,189.00 651.41,188.61 C650.61,188.21 648.79,186.73 647.99,186.33 C647.20,185.93 645.37,185.32 644.58,185.19 C643.78,185.06 641.96,185.06 641.16,185.19 C640.36,185.32 637.74,185.80 637.74,186.33 C637.74,186.86 640.10,189.08 641.16,189.74 C642.22,190.41 645.53,191.49 646.85,192.02 C648.18,192.55 651.48,193.77 652.55,194.30 C653.61,194.83 655.43,195.91 655.96,196.58 C656.49,197.24 657.50,199.59 657.10,199.99 C656.70,200.39 653.74,200.26 652.55,199.99 C651.35,199.73 648.32,198.25 646.85,197.72 C645.39,197.18 641.62,195.70 640.02,195.44 C638.43,195.17 634.65,195.17 633.19,195.44 C631.73,195.70 628.69,197.18 627.50,197.72 C626.30,198.25 624.14,199.73 622.94,199.99 C621.75,200.26 618.31,200.79 617.25,199.99 C616.19,199.20 614.10,194.62 613.83,193.16Z" fill="#d81410"/>
<path d="M624.08,189.74 C624.35,188.55 627.57,186.59 628.64,186.33 C629.70,186.06 631.99,186.80 633.19,187.47 C634.39,188.13 637.55,191.09 638.88,192.02 C640.21,192.95 643.25,194.64 644.58,195.44 C645.91,196.24 648.94,198.06 650.27,198.85 C651.60,199.65 655.03,201.34 655.96,202.27 C656.89,203.20 658.11,206.03 658.24,206.82 C658.37,207.62 657.77,209.10 657.10,209.10 C656.44,209.10 653.74,207.49 652.55,206.82 C651.35,206.16 648.32,204.21 646.85,203.41 C645.39,202.61 641.62,200.66 640.02,199.99 C638.43,199.33 634.78,198.11 633.19,197.72 C631.60,197.32 627.42,197.51 626.36,196.58 C625.29,195.65 623.81,190.94 624.08,189.74Z" fill="#ec6a10"/>
<path d="M624.08,196.58 C624.74,196.24 628.58,195.81 629.77,196.01 C630.97,196.21 633.13,197.62 634.33,198.28 C635.52,198.95 638.69,201.04 640.02,201.70 C641.35,202.36 644.39,203.45 645.72,203.98 C647.04,204.51 650.08,205.59 651.41,206.26 C652.74,206.92 656.57,209.01 657.10,209.67 C657.63,210.34 656.63,211.82 655.96,211.95 C655.30,212.08 652.74,211.34 651.41,210.81 C650.08,210.28 646.04,208.06 644.58,207.39 C643.12,206.73 640.21,205.65 638.88,205.12 C637.55,204.59 634.65,203.37 633.19,202.84 C631.73,202.31 627.42,201.03 626.36,200.56 C625.29,200.10 624.35,199.32 624.08,198.85 C623.81,198.39 623.42,196.91 624.08,196.58Z" fill="#f0f0a0"/>
<path d="M624.08,171.53 C624.15,170.79 626.43,168.77 627.50,168.11 C628.56,167.45 632.33,165.77 633.19,165.83 C634.05,165.90 635.10,167.95 634.90,168.68 C634.70,169.41 632.41,171.43 631.48,172.09 C630.55,172.76 627.79,174.44 626.93,174.37 C626.06,174.31 624.01,172.26 624.08,171.53Z" fill="#e6e6e6"/>
<use href="#shadeL" transform="translate(683.30,162.30) scale(-1,1)"/>
</g>
<clipPath id="cbOASISM1"><use href="#medO" transform="translate(535.10,218.30)"/></clipPath>
<g clip-path="url(#cbOASISM1)">
<use href="#baseM" transform="translate(535.10,218.30)"/>
<path d="M546.51,230.94 C546.91,230.01 549.00,227.18 549.93,226.39 C550.86,225.59 553.55,224.71 554.48,224.11 C555.41,223.51 557.17,221.53 557.90,221.26 C558.63,221.00 560.48,221.10 560.74,221.83 C561.01,222.56 560.51,226.33 560.18,227.53 C559.84,228.72 558.36,231.08 557.90,232.08 C557.43,233.08 556.46,235.20 556.19,236.07 C555.92,236.93 555.55,238.55 555.62,239.48 C555.69,240.41 556.36,243.04 556.76,244.04 C557.16,245.03 558.51,247.16 559.04,248.02 C559.57,248.89 561.31,250.91 561.31,251.44 C561.31,251.97 559.70,252.84 559.04,252.58 C558.37,252.31 556.28,250.09 555.62,249.16 C554.96,248.23 553.87,245.67 553.34,244.61 C552.81,243.54 551.66,240.85 551.07,240.05 C550.47,239.25 548.75,238.44 548.22,237.77 C547.69,237.11 546.71,235.15 546.51,234.36 C546.31,233.56 546.11,231.87 546.51,230.94Z" fill="#f0cc00"/>
<path d="M560.74,219.55 C561.21,218.47 564.24,218.25 565.30,218.19 C566.36,218.12 568.99,218.49 569.85,218.99 C570.72,219.48 572.57,221.41 572.70,222.40 C572.83,223.40 571.59,226.60 570.99,227.53 C570.39,228.46 568.37,230.04 567.58,230.37 C566.78,230.70 564.89,230.70 564.16,230.37 C563.43,230.04 561.71,228.79 561.31,227.53 C560.92,226.26 560.28,220.64 560.74,219.55Z" fill="#ec1a0c"/>
<path d="M536.83,254.85 C536.70,254.12 539.32,252.10 540.25,251.44 C541.18,250.77 543.74,249.49 544.80,249.16 C545.87,248.83 548.29,248.46 549.36,248.59 C550.42,248.72 552.85,249.83 553.91,250.30 C554.98,250.76 557.40,251.91 558.47,252.58 C559.53,253.24 561.96,255.20 563.02,255.99 C564.08,256.79 566.51,258.74 567.58,259.41 C568.64,260.07 570.94,261.15 572.13,261.69 C573.33,262.22 576.50,263.56 577.82,263.96 C579.15,264.36 582.52,264.84 583.52,265.10 C584.51,265.37 586.36,265.84 586.36,266.24 C586.36,266.64 584.38,268.12 583.52,268.52 C582.65,268.92 580.03,269.66 578.96,269.66 C577.90,269.66 575.47,269.05 574.41,268.52 C573.35,267.99 571.05,265.90 569.85,265.10 C568.66,264.31 565.49,262.35 564.16,261.69 C562.83,261.02 559.80,259.81 558.47,259.41 C557.14,259.01 554.10,258.54 552.77,258.27 C551.45,258.00 548.41,257.20 547.08,257.13 C545.75,257.06 542.58,257.97 541.39,257.70 C540.19,257.44 536.96,255.58 536.83,254.85Z" fill="#d81410"/>
<path d="M549.36,253.72 C549.89,253.52 554.60,254.32 556.19,254.85 C557.78,255.39 561.69,257.61 563.02,258.27 C564.35,258.93 567.44,260.22 567.58,260.55 C567.71,260.88 565.36,261.32 564.16,261.12 C562.96,260.92 558.79,259.37 557.33,258.84 C555.87,258.31 552.56,257.16 551.64,256.56 C550.71,255.96 548.83,253.91 549.36,253.72Z" fill="#ec5010"/>
<use href="#shadeM" transform="translate(535.10,218.30)"/>
</g>
<clipPath id="cbOASISM2"><use href="#medO" transform="translate(683.50,218.80) scale(-1,1)"/></clipPath>
<g clip-path="url(#cbOASISM2)">
<use href="#baseM" transform="translate(683.50,218.80) scale(-1,1)"/>
<path d="M649.70,219.55 C650.10,218.89 653.83,218.28 654.82,218.42 C655.82,218.55 657.84,219.76 658.24,220.69 C658.64,221.62 658.51,225.26 658.24,226.39 C657.98,227.52 656.49,230.11 655.96,230.37 C655.43,230.64 654.22,229.39 653.69,228.66 C653.15,227.93 651.87,225.17 651.41,224.11 C650.94,223.05 649.30,220.22 649.70,219.55Z" fill="#ec6a10"/>
<path d="M657.10,219.55 C657.63,219.02 660.59,221.17 661.66,221.83 C662.72,222.50 665.15,224.58 666.21,225.25 C667.27,225.91 669.97,226.73 670.77,227.53 C671.56,228.32 672.91,230.88 673.04,232.08 C673.18,233.28 672.44,236.58 671.91,237.77 C671.37,238.97 669.15,241.27 668.49,242.33 C667.82,243.39 666.88,245.82 666.21,246.88 C665.55,247.95 663.59,250.57 662.80,251.44 C662.00,252.30 660.31,253.75 659.38,254.28 C658.45,254.82 655.49,256.06 654.82,255.99 C654.16,255.93 653.42,254.45 653.69,253.72 C653.95,252.98 656.31,250.73 657.10,249.73 C657.90,248.73 659.99,246.30 660.52,245.18 C661.05,244.05 661.66,241.18 661.66,240.05 C661.66,238.92 660.92,236.56 660.52,235.50 C660.12,234.43 658.64,232.00 658.24,230.94 C657.84,229.88 657.24,227.72 657.10,226.39 C656.97,225.06 656.57,220.09 657.10,219.55Z" fill="#d81410"/>
<path d="M654.82,257.13 C655.22,256.27 659.19,252.37 660.52,251.44 C661.85,250.51 664.75,249.29 666.21,249.16 C667.67,249.03 671.58,249.77 673.04,250.30 C674.51,250.83 677.67,253.05 678.74,253.72 C679.80,254.38 682.02,255.46 682.15,255.99 C682.29,256.52 680.81,258.14 679.88,258.27 C678.95,258.40 675.51,257.40 674.18,257.13 C672.85,256.87 669.82,255.99 668.49,255.99 C667.16,255.99 664.12,256.80 662.80,257.13 C661.47,257.46 658.03,258.84 657.10,258.84 C656.17,258.84 654.43,257.99 654.82,257.13Z" fill="#d81410"/>
<path d="M637.74,268.52 C638.14,267.99 642.85,266.91 644.58,266.24 C646.30,265.58 650.82,263.62 652.55,262.82 C654.27,262.03 657.79,260.07 659.38,259.41 C660.97,258.74 664.75,257.53 666.21,257.13 C667.67,256.73 671.17,255.86 671.91,255.99 C672.64,256.13 673.01,257.87 672.47,258.27 C671.94,258.67 668.75,259.01 667.35,259.41 C665.96,259.81 662.11,261.02 660.52,261.69 C658.92,262.35 655.28,264.37 653.69,265.10 C652.09,265.83 648.32,267.28 646.85,267.95 C645.39,268.61 642.22,270.73 641.16,270.80 C640.10,270.86 637.35,269.05 637.74,268.52Z" fill="#ec6a10"/>
<use href="#shadeM" transform="translate(683.50,218.80) scale(-1,1)"/>
</g>
<text x="61.04" y="88.00" font-size="11.0" >ADNI</text>
<text x="232.20" y="88.90" font-size="11.0" >AIBL</text>
<text x="61.89" y="222.90" font-size="11.0" >EDSD</text>
<text x="228.78" y="219.90" font-size="11.0" >OASIS</text>
<text x="599.30" y="88.90" font-size="11.0" >AIBL</text>
<text x="420.14" y="221.80" font-size="11.0" >EDSD</text>
<text x="591.38" y="221.80" font-size="11.0" >OASIS</text>
<linearGradient id="hot" x1="0" y1="0" x2="1" y2="0"><stop offset="0" stop-color="#0a0000"/><stop offset="0.12" stop-color="#400000"/><stop offset="0.375" stop-color="#ff0000"/><stop offset="0.56" stop-color="#ff8000"/><stop offset="0.75" stop-color="#ffff00"/><stop offset="1" stop-color="#ffffff"/></linearGradient>
<rect x="60.30" y="138.00" width="33.00" height="3.60" fill="url(#hot)" stroke="#b0b0b0" stroke-width="0.5"/>
<rect x="229.50" y="137.90" width="32.80" height="3.60" fill="url(#hot)" stroke="#b0b0b0" stroke-width="0.5"/>
<rect x="60.00" y="270.00" width="32.70" height="3.70" fill="url(#hot)" stroke="#b0b0b0" stroke-width="0.5"/>
<rect x="229.50" y="268.90" width="32.50" height="3.70" fill="url(#hot)" stroke="#b0b0b0" stroke-width="0.5"/>
<rect x="417.10" y="137.90" width="32.70" height="3.60" fill="url(#hot)" stroke="#b0b0b0" stroke-width="0.5"/>
<rect x="592.10" y="137.90" width="33.00" height="3.60" fill="url(#hot)" stroke="#b0b0b0" stroke-width="0.5"/>
<rect x="418.00" y="271.50" width="32.50" height="3.60" fill="url(#hot)" stroke="#b0b0b0" stroke-width="0.5"/>
<rect x="593.00" y="269.30" width="32.50" height="3.80" fill="url(#hot)" stroke="#b0b0b0" stroke-width="0.5"/>
<text x="16.95" y="14.80" font-size="15">(a)</text>
<text x="61.61" y="15.90" font-size="14.76">GMV-Channel-attention-maps</text>
<text x="362.25" y="11.90" font-size="15">(b)</text>
<text x="422.90" y="16.00" font-size="14.76">NFCS-Channel-attention-maps</text>
<text x="3.95" y="310.70" font-size="15">(c)</text>
<text x="361.55" y="304.80" font-size="15">(d)</text>
<line x1="341.3" y1="3.8" x2="345.5" y2="707.5" stroke="#2a2a2a" stroke-width="1.3" stroke-dasharray="7.2 2.56 1.0 2.56"/>
<clipPath id="clp0"><rect x="30.10" y="334.60" width="126.40" height="93.80"/></clipPath>
<g clip-path="url(#clp0)">
<path d="M30.10,397.47 L33.26,396.94 L36.42,396.39 L39.58,395.84 L42.74,395.29 L45.90,394.72 L49.06,394.14 L52.22,393.55 L55.38,392.94 L58.54,392.30 L61.70,391.64 L64.86,390.93 L68.02,390.18 L71.18,389.35 L74.34,388.45 L77.50,387.44 L80.66,386.31 L83.82,385.07 L86.98,383.72 L90.14,382.26 L93.30,380.73 L96.46,379.13 L99.62,377.48 L102.78,375.80 L105.94,374.08 L109.10,372.35 L112.26,370.59 L115.42,368.82 L118.58,367.05 L121.74,365.26 L124.90,363.46 L128.06,361.66 L131.22,359.85 L134.38,358.04 L137.54,356.23 L140.70,354.41 L143.86,352.59 L147.02,350.77 L150.18,348.94 L153.34,347.11 L156.50,345.28 L156.50,374.70 L153.34,375.27 L150.18,375.84 L147.02,376.41 L143.86,376.99 L140.70,377.57 L137.54,378.16 L134.38,378.76 L131.22,379.36 L128.06,379.98 L124.90,380.61 L121.74,381.26 L118.58,381.93 L115.42,382.63 L112.26,383.37 L109.10,384.16 L105.94,385.00 L102.78,385.92 L99.62,386.94 L96.46,388.05 L93.30,389.27 L90.14,390.59 L86.98,392.00 L83.82,393.49 L80.66,395.04 L77.50,396.64 L74.34,398.28 L71.18,399.94 L68.02,401.64 L64.86,403.34 L61.70,405.07 L58.54,406.81 L55.38,408.55 L52.22,410.30 L49.06,412.06 L45.90,413.83 L42.74,415.60 L39.58,417.37 L36.42,419.15 L33.26,420.93 L30.10,422.72Z" fill="#dde9f6"/>
<line x1="30.10" y1="408.86" x2="156.50" y2="361.99" stroke="#2b87cf" stroke-width="0.9"/>
<circle cx="29.90" cy="404.69" r="1.15" fill="#3090d8"/>
<circle cx="56.85" cy="398.04" r="1.15" fill="#3090d8"/>
<circle cx="60.26" cy="403.74" r="1.15" fill="#3090d8"/>
<circle cx="59.88" cy="410.38" r="1.15" fill="#3090d8"/>
<circle cx="72.03" cy="397.47" r="1.15" fill="#3090d8"/>
<circle cx="76.96" cy="398.04" r="1.15" fill="#3090d8"/>
<circle cx="77.91" cy="386.47" r="1.15" fill="#3090d8"/>
<circle cx="79.24" cy="391.02" r="1.15" fill="#3090d8"/>
<circle cx="78.67" cy="419.30" r="1.15" fill="#3090d8"/>
<circle cx="89.11" cy="398.99" r="1.15" fill="#3090d8"/>
<circle cx="89.68" cy="390.45" r="1.15" fill="#3090d8"/>
<circle cx="91.58" cy="388.36" r="1.15" fill="#3090d8"/>
<circle cx="91.96" cy="362.36" r="1.15" fill="#3090d8"/>
<circle cx="92.15" cy="393.11" r="1.15" fill="#3090d8"/>
<circle cx="93.85" cy="393.11" r="1.15" fill="#3090d8"/>
<circle cx="94.80" cy="386.47" r="1.15" fill="#3090d8"/>
<circle cx="99.55" cy="369.20" r="1.15" fill="#3090d8"/>
<circle cx="99.55" cy="375.08" r="1.15" fill="#3090d8"/>
<circle cx="103.53" cy="383.24" r="1.15" fill="#3090d8"/>
<circle cx="105.24" cy="370.91" r="1.15" fill="#3090d8"/>
<circle cx="107.71" cy="338.64" r="1.15" fill="#3090d8"/>
<circle cx="115.87" cy="383.24" r="1.15" fill="#3090d8"/>
<circle cx="117.58" cy="388.74" r="1.15" fill="#3090d8"/>
<circle cx="122.51" cy="361.04" r="1.15" fill="#3090d8"/>
<circle cx="126.12" cy="358.19" r="1.15" fill="#3090d8"/>
<circle cx="127.26" cy="371.85" r="1.15" fill="#3090d8"/>
<circle cx="142.44" cy="368.63" r="1.15" fill="#3090d8"/>
<circle cx="153.64" cy="367.68" r="1.15" fill="#3090d8"/>
<circle cx="156.29" cy="392.35" r="1.15" fill="#3090d8"/>
</g>
<rect x="30.10" y="334.60" width="126.40" height="93.80" fill="none" stroke="#a0a0a0" stroke-width="1.2"/>
<path d="M30.10,345.10h1.6M30.10,363.30h1.6M30.10,381.50h1.6M30.10,399.70h1.6M30.10,417.90h1.6M44.40,428.40v-1.6M59.00,428.40v-1.6M73.60,428.40v-1.6M88.20,428.40v-1.6M102.80,428.40v-1.6M117.40,428.40v-1.6M132.00,428.40v-1.6M146.60,428.40v-1.6" stroke="#8a8a8a" stroke-width="0.8" fill="none"/>
<text x="56.13" y="332.60" font-size="11.05" >ADNI vs AIBL</text>
<text x="31.61" y="347.20" font-size="12.2">r = 0.60, p < 0.001</text>
<text x="0" y="0" font-size="11" transform="translate(21.90,391.30) rotate(-90)">AIBL</text>
<text x="76.99" y="443.30" font-size="11" >ADNI</text>
<text x="20.96" y="340.50" font-size="10.3" >1</text>
<text x="24.84" y="437.50" font-size="10.3" >0</text>
<text x="152.46" y="437.00" font-size="10.3" >1</text>
<clipPath id="clp1"><rect x="201.40" y="334.60" width="126.60" height="93.80"/></clipPath>
<g clip-path="url(#clp1)">
<path d="M201.40,407.91 L204.56,407.38 L207.73,406.83 L210.90,406.27 L214.06,405.68 L217.22,405.07 L220.39,404.40 L223.56,403.67 L226.72,402.85 L229.88,401.92 L233.05,400.84 L236.22,399.62 L239.38,398.26 L242.55,396.79 L245.71,395.25 L248.88,393.65 L252.04,392.00 L255.21,390.33 L258.37,388.64 L261.54,386.93 L264.70,385.21 L267.87,383.48 L271.03,381.74 L274.19,380.00 L277.36,378.25 L280.52,376.50 L283.69,374.75 L286.86,372.99 L290.02,371.23 L293.19,369.47 L296.35,367.71 L299.51,365.95 L302.68,364.18 L305.85,362.41 L309.01,360.65 L312.18,358.88 L315.34,357.11 L318.50,355.34 L321.67,353.57 L324.83,351.80 L328.00,350.03 L328.00,386.09 L324.83,386.67 L321.67,387.26 L318.50,387.85 L315.34,388.44 L312.18,389.03 L309.01,389.62 L305.85,390.21 L302.68,390.80 L299.51,391.40 L296.35,391.99 L293.19,392.59 L290.02,393.19 L286.86,393.79 L283.69,394.40 L280.52,395.01 L277.36,395.62 L274.19,396.24 L271.03,396.87 L267.87,397.50 L264.70,398.15 L261.54,398.80 L258.37,399.48 L255.21,400.17 L252.04,400.90 L248.88,401.67 L245.71,402.49 L242.55,403.37 L239.38,404.34 L236.22,405.41 L233.05,406.59 L229.88,407.86 L226.72,409.22 L223.56,410.64 L220.39,412.12 L217.22,413.64 L214.06,415.20 L210.90,416.77 L207.73,418.36 L204.56,419.96 L201.40,421.58Z" fill="#dde9f6"/>
<line x1="201.40" y1="414.93" x2="328.00" y2="369.96" stroke="#2b87cf" stroke-width="0.9"/>
<circle cx="201.28" cy="408.86" r="1.15" fill="#3090d8"/>
<circle cx="206.59" cy="413.23" r="1.15" fill="#3090d8"/>
<circle cx="210.01" cy="420.63" r="1.15" fill="#3090d8"/>
<circle cx="210.01" cy="424.04" r="1.15" fill="#3090d8"/>
<circle cx="224.05" cy="401.84" r="1.15" fill="#3090d8"/>
<circle cx="230.88" cy="413.61" r="1.15" fill="#3090d8"/>
<circle cx="231.64" cy="394.25" r="1.15" fill="#3090d8"/>
<circle cx="232.78" cy="408.48" r="1.15" fill="#3090d8"/>
<circle cx="233.73" cy="416.83" r="1.15" fill="#3090d8"/>
<circle cx="245.50" cy="408.86" r="1.15" fill="#3090d8"/>
<circle cx="246.07" cy="392.73" r="1.15" fill="#3090d8"/>
<circle cx="248.72" cy="406.58" r="1.15" fill="#3090d8"/>
<circle cx="248.72" cy="410.19" r="1.15" fill="#3090d8"/>
<circle cx="248.91" cy="372.42" r="1.15" fill="#3090d8"/>
<circle cx="251.19" cy="411.33" r="1.15" fill="#3090d8"/>
<circle cx="252.14" cy="382.29" r="1.15" fill="#3090d8"/>
<circle cx="258.21" cy="390.26" r="1.15" fill="#3090d8"/>
<circle cx="258.21" cy="392.16" r="1.15" fill="#3090d8"/>
<circle cx="262.96" cy="405.26" r="1.15" fill="#3090d8"/>
<circle cx="265.23" cy="387.04" r="1.15" fill="#3090d8"/>
<circle cx="268.84" cy="369.20" r="1.15" fill="#3090d8"/>
<circle cx="278.33" cy="394.25" r="1.15" fill="#3090d8"/>
<circle cx="280.23" cy="406.58" r="1.15" fill="#3090d8"/>
<circle cx="286.30" cy="375.27" r="1.15" fill="#3090d8"/>
<circle cx="291.04" cy="339.02" r="1.15" fill="#3090d8"/>
<circle cx="292.37" cy="386.09" r="1.15" fill="#3090d8"/>
<circle cx="310.59" cy="389.50" r="1.15" fill="#3090d8"/>
<circle cx="324.26" cy="378.88" r="1.15" fill="#3090d8"/>
<circle cx="327.67" cy="381.72" r="1.15" fill="#3090d8"/>
</g>
<rect x="201.40" y="334.60" width="126.60" height="93.80" fill="none" stroke="#a0a0a0" stroke-width="1.2"/>
<path d="M201.40,345.10h1.6M201.40,363.30h1.6M201.40,381.50h1.6M201.40,399.70h1.6M201.40,417.90h1.6M215.70,428.40v-1.6M230.30,428.40v-1.6M244.90,428.40v-1.6M259.50,428.40v-1.6M274.10,428.40v-1.6M288.70,428.40v-1.6M303.30,428.40v-1.6M317.90,428.40v-1.6" stroke="#8a8a8a" stroke-width="0.8" fill="none"/>
<text x="224.03" y="332.60" font-size="11.05" >ADNI vs EDSD</text>
<text x="204.31" y="347.60" font-size="12.2">r = 0.65, p < 0.001</text>
<text x="0" y="0" font-size="11" transform="translate(193.90,393.91) rotate(-90)">EDSD</text>
<text x="249.99" y="443.30" font-size="11" >ADNI</text>
<text x="192.26" y="340.50" font-size="10.3" >1</text>
<text x="196.14" y="437.50" font-size="10.3" >0</text>
<text x="323.96" y="437.00" font-size="10.3" >1</text>
<clipPath id="clp2"><rect x="30.10" y="466.90" width="126.40" height="93.90"/></clipPath>
<g clip-path="url(#clp2)">
<path d="M30.10,542.19 L33.26,541.02 L36.42,539.84 L39.58,538.66 L42.74,537.47 L45.90,536.27 L49.06,535.06 L52.22,533.83 L55.38,532.59 L58.54,531.33 L61.70,530.04 L64.86,528.72 L68.02,527.36 L71.18,525.94 L74.34,524.47 L77.50,522.93 L80.66,521.32 L83.82,519.64 L86.98,517.91 L90.14,516.13 L93.30,514.30 L96.46,512.44 L99.62,510.55 L102.78,508.64 L105.94,506.72 L109.10,504.78 L112.26,502.83 L115.42,500.87 L118.58,498.90 L121.74,496.93 L124.90,494.95 L128.06,492.96 L131.22,490.98 L134.38,488.99 L137.54,487.00 L140.70,485.00 L143.86,483.01 L147.02,481.01 L150.18,479.01 L153.34,477.01 L156.50,475.01 L156.50,501.96 L153.34,503.05 L150.18,504.14 L147.02,505.23 L143.86,506.32 L140.70,507.41 L137.54,508.50 L134.38,509.59 L131.22,510.69 L128.06,511.79 L124.90,512.88 L121.74,513.98 L118.58,515.08 L115.42,516.19 L112.26,517.29 L109.10,518.40 L105.94,519.51 L102.78,520.63 L99.62,521.75 L96.46,522.87 L93.30,524.01 L90.14,525.15 L86.98,526.30 L83.82,527.47 L80.66,528.65 L77.50,529.86 L74.34,531.10 L71.18,532.37 L68.02,533.69 L64.86,535.08 L61.70,536.53 L58.54,538.07 L55.38,539.70 L52.22,541.40 L49.06,543.18 L45.90,545.01 L42.74,546.89 L39.58,548.81 L36.42,550.76 L33.26,552.73 L30.10,554.72Z" fill="#dde9f6"/>
<line x1="30.10" y1="549.40" x2="156.50" y2="486.39" stroke="#2b87cf" stroke-width="0.9"/>
<circle cx="30.85" cy="545.99" r="1.15" fill="#3090d8"/>
<circle cx="32.18" cy="545.99" r="1.15" fill="#3090d8"/>
<circle cx="30.85" cy="556.61" r="1.15" fill="#3090d8"/>
<circle cx="46.60" cy="534.22" r="1.15" fill="#3090d8"/>
<circle cx="53.05" cy="535.74" r="1.15" fill="#3090d8"/>
<circle cx="54.57" cy="532.70" r="1.15" fill="#3090d8"/>
<circle cx="55.52" cy="539.91" r="1.15" fill="#3090d8"/>
<circle cx="56.47" cy="546.55" r="1.15" fill="#3090d8"/>
<circle cx="69.37" cy="534.60" r="1.15" fill="#3090d8"/>
<circle cx="69.37" cy="545.23" r="1.15" fill="#3090d8"/>
<circle cx="72.60" cy="533.84" r="1.15" fill="#3090d8"/>
<circle cx="72.60" cy="512.77" r="1.15" fill="#3090d8"/>
<circle cx="72.22" cy="546.93" r="1.15" fill="#3090d8"/>
<circle cx="75.07" cy="530.04" r="1.15" fill="#3090d8"/>
<circle cx="76.01" cy="497.02" r="1.15" fill="#3090d8"/>
<circle cx="82.66" cy="513.91" r="1.15" fill="#3090d8"/>
<circle cx="82.47" cy="522.26" r="1.15" fill="#3090d8"/>
<circle cx="87.40" cy="530.42" r="1.15" fill="#3090d8"/>
<circle cx="90.06" cy="505.18" r="1.15" fill="#3090d8"/>
<circle cx="93.47" cy="513.34" r="1.15" fill="#3090d8"/>
<circle cx="103.91" cy="524.73" r="1.15" fill="#3090d8"/>
<circle cx="105.81" cy="520.93" r="1.15" fill="#3090d8"/>
<circle cx="112.64" cy="517.14" r="1.15" fill="#3090d8"/>
<circle cx="116.82" cy="482.41" r="1.15" fill="#3090d8"/>
<circle cx="119.09" cy="508.03" r="1.15" fill="#3090d8"/>
<circle cx="137.69" cy="501.58" r="1.15" fill="#3090d8"/>
<circle cx="152.50" cy="501.96" r="1.15" fill="#3090d8"/>
<circle cx="156.29" cy="471.21" r="1.15" fill="#3090d8"/>
</g>
<rect x="30.10" y="466.90" width="126.40" height="93.90" fill="none" stroke="#a0a0a0" stroke-width="1.2"/>
<path d="M30.10,477.40h1.6M30.10,495.60h1.6M30.10,513.80h1.6M30.10,532.00h1.6M30.10,550.20h1.6M44.40,560.80v-1.6M59.00,560.80v-1.6M73.60,560.80v-1.6M88.20,560.80v-1.6M102.80,560.80v-1.6M117.40,560.80v-1.6M132.00,560.80v-1.6M146.60,560.80v-1.6" stroke="#8a8a8a" stroke-width="0.8" fill="none"/>
<text x="51.66" y="464.70" font-size="11.05" >ADNI vs OASIS</text>
<text x="31.41" y="480.10" font-size="12.2">r = 0.82, p < 0.001</text>
<text x="0" y="0" font-size="11" transform="translate(23.20,527.95) rotate(-90)">OASIS3</text>
<text x="76.99" y="576.00" font-size="11" >ADNI</text>
<text x="21.01" y="473.00" font-size="10.3" >1</text>
<text x="24.84" y="570.70" font-size="10.3" >0</text>
<text x="151.86" y="569.80" font-size="10.3" >1</text>
<clipPath id="clp3"><rect x="201.40" y="466.90" width="126.60" height="93.90"/></clipPath>
<g clip-path="url(#clp3)">
<path d="M201.40,535.74 L204.56,534.87 L207.73,534.00 L210.90,533.12 L214.06,532.24 L217.22,531.36 L220.39,530.47 L223.56,529.56 L226.72,528.64 L229.88,527.70 L233.05,526.74 L236.22,525.73 L239.38,524.66 L242.55,523.50 L245.71,522.23 L248.88,520.80 L252.04,519.23 L255.21,517.53 L258.37,515.74 L261.54,513.88 L264.70,511.98 L267.87,510.05 L271.03,508.10 L274.19,506.13 L277.36,504.15 L280.52,502.16 L283.69,500.17 L286.86,498.17 L290.02,496.16 L293.19,494.16 L296.35,492.15 L299.51,490.13 L302.68,488.12 L305.85,486.11 L309.01,484.09 L312.18,482.07 L315.34,480.05 L318.50,478.03 L321.67,476.01 L324.83,473.99 L328.00,471.97 L328.00,501.01 L324.83,501.87 L321.67,502.73 L318.50,503.59 L315.34,504.45 L312.18,505.31 L309.01,506.18 L305.85,507.04 L302.68,507.91 L299.51,508.78 L296.35,509.65 L293.19,510.53 L290.02,511.41 L286.86,512.30 L283.69,513.19 L280.52,514.09 L277.36,515.00 L274.19,515.93 L271.03,516.88 L267.87,517.86 L264.70,518.89 L261.54,519.99 L258.37,521.18 L255.21,522.50 L252.04,523.97 L248.88,525.58 L245.71,527.31 L242.55,529.12 L239.38,530.98 L236.22,532.89 L233.05,534.82 L229.88,536.78 L226.72,538.75 L223.56,540.72 L220.39,542.71 L217.22,544.70 L214.06,546.70 L210.90,548.70 L207.73,550.70 L204.56,552.71 L201.40,554.72Z" fill="#dde9f6"/>
<line x1="201.40" y1="544.66" x2="328.00" y2="487.15" stroke="#2b87cf" stroke-width="0.9"/>
<circle cx="201.85" cy="530.42" r="1.15" fill="#3090d8"/>
<circle cx="213.23" cy="530.80" r="1.15" fill="#3090d8"/>
<circle cx="224.24" cy="545.61" r="1.15" fill="#3090d8"/>
<circle cx="225.57" cy="544.09" r="1.15" fill="#3090d8"/>
<circle cx="232.78" cy="530.42" r="1.15" fill="#3090d8"/>
<circle cx="235.06" cy="534.60" r="1.15" fill="#3090d8"/>
<circle cx="236.01" cy="524.73" r="1.15" fill="#3090d8"/>
<circle cx="242.27" cy="531.94" r="1.15" fill="#3090d8"/>
<circle cx="243.03" cy="532.70" r="1.15" fill="#3090d8"/>
<circle cx="243.98" cy="507.84" r="1.15" fill="#3090d8"/>
<circle cx="246.07" cy="537.64" r="1.15" fill="#3090d8"/>
<circle cx="246.82" cy="517.14" r="1.15" fill="#3090d8"/>
<circle cx="249.29" cy="528.91" r="1.15" fill="#3090d8"/>
<circle cx="253.09" cy="508.22" r="1.15" fill="#3090d8"/>
<circle cx="253.47" cy="518.66" r="1.15" fill="#3090d8"/>
<circle cx="257.83" cy="527.96" r="1.15" fill="#3090d8"/>
<circle cx="258.21" cy="518.09" r="1.15" fill="#3090d8"/>
<circle cx="270.74" cy="514.29" r="1.15" fill="#3090d8"/>
<circle cx="275.86" cy="511.45" r="1.15" fill="#3090d8"/>
<circle cx="277.19" cy="512.39" r="1.15" fill="#3090d8"/>
<circle cx="280.23" cy="516.57" r="1.15" fill="#3090d8"/>
<circle cx="280.99" cy="514.29" r="1.15" fill="#3090d8"/>
<circle cx="282.50" cy="504.80" r="1.15" fill="#3090d8"/>
<circle cx="290.66" cy="500.06" r="1.15" fill="#3090d8"/>
<circle cx="292.94" cy="501.96" r="1.15" fill="#3090d8"/>
<circle cx="296.74" cy="471.97" r="1.15" fill="#3090d8"/>
<circle cx="327.67" cy="496.64" r="1.15" fill="#3090d8"/>
</g>
<rect x="201.40" y="466.90" width="126.60" height="93.90" fill="none" stroke="#a0a0a0" stroke-width="1.2"/>
<path d="M201.40,477.40h1.6M201.40,495.60h1.6M201.40,513.80h1.6M201.40,532.00h1.6M201.40,550.20h1.6M215.70,560.80v-1.6M230.30,560.80v-1.6M244.90,560.80v-1.6M259.50,560.80v-1.6M274.10,560.80v-1.6M288.70,560.80v-1.6M303.30,560.80v-1.6M317.90,560.80v-1.6" stroke="#8a8a8a" stroke-width="0.8" fill="none"/>
<text x="224.73" y="464.70" font-size="11.05" >AIBL vs EDSD</text>
<text x="204.81" y="478.20" font-size="12.2">r = 0.79, p < 0.001</text>
<text x="0" y="0" font-size="11" transform="translate(194.00,523.16) rotate(-90)">EDSD</text>
<text x="250.40" y="576.00" font-size="11" >AIBL</text>
<text x="192.31" y="473.00" font-size="10.3" >1</text>
<text x="196.14" y="570.70" font-size="10.3" >0</text>
<text x="323.36" y="569.80" font-size="10.3" >1</text>
<clipPath id="clp4"><rect x="30.10" y="599.50" width="126.40" height="93.80"/></clipPath>
<g clip-path="url(#clp4)">
<path d="M30.10,664.37 L33.26,663.68 L36.42,662.99 L39.58,662.30 L42.74,661.60 L45.90,660.89 L49.06,660.18 L52.22,659.46 L55.38,658.72 L58.54,657.97 L61.70,657.20 L64.86,656.40 L68.02,655.55 L71.18,654.65 L74.34,653.65 L77.50,652.54 L80.66,651.28 L83.82,649.85 L86.98,648.27 L90.14,646.57 L93.30,644.78 L96.46,642.93 L99.62,641.03 L102.78,639.10 L105.94,637.15 L109.10,635.18 L112.26,633.20 L115.42,631.20 L118.58,629.21 L121.74,627.20 L124.90,625.19 L128.06,623.18 L131.22,621.17 L134.38,619.15 L137.54,617.13 L140.70,615.10 L143.86,613.08 L147.02,611.05 L150.18,609.03 L153.34,607.00 L156.50,604.97 L156.50,634.01 L153.34,634.80 L150.18,635.59 L147.02,636.39 L143.86,637.19 L140.70,637.99 L137.54,638.79 L134.38,639.60 L131.22,640.42 L128.06,641.23 L124.90,642.06 L121.74,642.89 L118.58,643.73 L115.42,644.59 L112.26,645.47 L109.10,646.36 L105.94,647.29 L102.78,648.27 L99.62,649.30 L96.46,650.40 L93.30,651.60 L90.14,652.92 L86.98,654.34 L83.82,655.88 L80.66,657.50 L77.50,659.19 L74.34,660.94 L71.18,662.72 L68.02,664.54 L64.86,666.37 L61.70,668.23 L58.54,670.09 L55.38,671.96 L52.22,673.85 L49.06,675.73 L45.90,677.63 L42.74,679.53 L39.58,681.43 L36.42,683.33 L33.26,685.24 L30.10,687.15Z" fill="#dde9f6"/>
<line x1="30.10" y1="675.76" x2="156.50" y2="621.67" stroke="#2b87cf" stroke-width="0.9"/>
<circle cx="29.90" cy="667.79" r="1.15" fill="#3090d8"/>
<circle cx="32.18" cy="673.86" r="1.15" fill="#3090d8"/>
<circle cx="32.74" cy="674.81" r="1.15" fill="#3090d8"/>
<circle cx="52.67" cy="683.35" r="1.15" fill="#3090d8"/>
<circle cx="54.57" cy="673.48" r="1.15" fill="#3090d8"/>
<circle cx="61.21" cy="672.91" r="1.15" fill="#3090d8"/>
<circle cx="62.73" cy="663.80" r="1.15" fill="#3090d8"/>
<circle cx="63.68" cy="677.09" r="1.15" fill="#3090d8"/>
<circle cx="63.68" cy="662.47" r="1.15" fill="#3090d8"/>
<circle cx="64.44" cy="662.09" r="1.15" fill="#3090d8"/>
<circle cx="71.27" cy="658.68" r="1.15" fill="#3090d8"/>
<circle cx="71.27" cy="674.43" r="1.15" fill="#3090d8"/>
<circle cx="74.50" cy="674.24" r="1.15" fill="#3090d8"/>
<circle cx="75.45" cy="662.85" r="1.15" fill="#3090d8"/>
<circle cx="77.72" cy="662.47" r="1.15" fill="#3090d8"/>
<circle cx="77.91" cy="650.14" r="1.15" fill="#3090d8"/>
<circle cx="81.71" cy="661.15" r="1.15" fill="#3090d8"/>
<circle cx="81.71" cy="627.74" r="1.15" fill="#3090d8"/>
<circle cx="72.22" cy="603.64" r="1.15" fill="#3090d8"/>
<circle cx="86.45" cy="659.25" r="1.15" fill="#3090d8"/>
<circle cx="86.83" cy="652.99" r="1.15" fill="#3090d8"/>
<circle cx="99.17" cy="651.47" r="1.15" fill="#3090d8"/>
<circle cx="104.29" cy="637.80" r="1.15" fill="#3090d8"/>
<circle cx="105.81" cy="635.53" r="1.15" fill="#3090d8"/>
<circle cx="109.23" cy="632.11" r="1.15" fill="#3090d8"/>
<circle cx="110.74" cy="632.30" r="1.15" fill="#3090d8"/>
<circle cx="109.04" cy="643.50" r="1.15" fill="#3090d8"/>
<circle cx="119.09" cy="642.55" r="1.15" fill="#3090d8"/>
<circle cx="121.37" cy="646.91" r="1.15" fill="#3090d8"/>
<circle cx="125.74" cy="614.08" r="1.15" fill="#3090d8"/>
<circle cx="156.29" cy="642.93" r="1.15" fill="#3090d8"/>
</g>
<rect x="30.10" y="599.50" width="126.40" height="93.80" fill="none" stroke="#a0a0a0" stroke-width="1.2"/>
<path d="M30.10,610.00h1.6M30.10,628.20h1.6M30.10,646.40h1.6M30.10,664.60h1.6M30.10,682.80h1.6M44.40,693.30v-1.6M59.00,693.30v-1.6M73.60,693.30v-1.6M88.20,693.30v-1.6M102.80,693.30v-1.6M117.40,693.30v-1.6M132.00,693.30v-1.6M146.60,693.30v-1.6" stroke="#8a8a8a" stroke-width="0.8" fill="none"/>
<text x="52.38" y="597.30" font-size="11.05" >AIBL vs OASIS</text>
<text x="33.81" y="614.10" font-size="12.2">r = 0.63, p < 0.001</text>
<text x="0" y="0" font-size="11" transform="translate(23.20,668.75) rotate(-90)">OASIS3</text>
<text x="77.40" y="709.40" font-size="11" >AIBL</text>
<text x="21.86" y="603.60" font-size="10.3" >1</text>
<text x="24.84" y="705.60" font-size="10.3" >0</text>
<text x="151.66" y="703.60" font-size="10.3" >1</text>
<clipPath id="clp5"><rect x="201.40" y="599.50" width="126.60" height="93.80"/></clipPath>
<g clip-path="url(#clp5)">
<path d="M201.40,677.66 L204.56,676.77 L207.73,675.86 L210.90,674.93 L214.06,673.97 L217.22,672.96 L220.39,671.86 L223.56,670.63 L226.72,669.22 L229.88,667.62 L233.05,665.86 L236.22,664.00 L239.38,662.07 L242.55,660.10 L245.71,658.10 L248.88,656.08 L252.04,654.05 L255.21,652.02 L258.37,649.97 L261.54,647.93 L264.70,645.88 L267.87,643.82 L271.03,641.77 L274.19,639.71 L277.36,637.65 L280.52,635.59 L283.69,633.52 L286.86,631.46 L290.02,629.40 L293.19,627.33 L296.35,625.27 L299.51,623.20 L302.68,621.13 L305.85,619.07 L309.01,617.00 L312.18,614.93 L315.34,612.86 L318.50,610.80 L321.67,608.73 L324.83,606.66 L328.00,604.59 L328.00,634.01 L324.83,635.11 L321.67,636.22 L318.50,637.33 L315.34,638.44 L312.18,639.55 L309.01,640.66 L305.85,641.78 L302.68,642.89 L299.51,644.00 L296.35,645.12 L293.19,646.24 L290.02,647.36 L286.86,648.49 L283.69,649.62 L280.52,650.75 L277.36,651.89 L274.19,653.03 L271.03,654.19 L267.87,655.35 L264.70,656.53 L261.54,657.73 L258.37,658.95 L255.21,660.21 L252.04,661.51 L248.88,662.87 L245.71,664.29 L242.55,665.77 L239.38,667.32 L236.22,668.92 L233.05,670.57 L229.88,672.26 L226.72,673.97 L223.56,675.70 L220.39,677.44 L217.22,679.20 L214.06,680.97 L210.90,682.74 L207.73,684.52 L204.56,686.31 L201.40,688.09Z" fill="#dde9f6"/>
<line x1="201.40" y1="682.78" x2="328.00" y2="624.52" stroke="#2b87cf" stroke-width="0.9"/>
<circle cx="201.85" cy="680.50" r="1.15" fill="#3090d8"/>
<circle cx="206.59" cy="681.07" r="1.15" fill="#3090d8"/>
<circle cx="211.91" cy="681.07" r="1.15" fill="#3090d8"/>
<circle cx="217.03" cy="672.91" r="1.15" fill="#3090d8"/>
<circle cx="217.03" cy="683.35" r="1.15" fill="#3090d8"/>
<circle cx="220.26" cy="668.55" r="1.15" fill="#3090d8"/>
<circle cx="221.39" cy="681.45" r="1.15" fill="#3090d8"/>
<circle cx="223.29" cy="683.92" r="1.15" fill="#3090d8"/>
<circle cx="224.05" cy="679.93" r="1.15" fill="#3090d8"/>
<circle cx="224.62" cy="675.76" r="1.15" fill="#3090d8"/>
<circle cx="227.09" cy="661.15" r="1.15" fill="#3090d8"/>
<circle cx="227.09" cy="671.58" r="1.15" fill="#3090d8"/>
<circle cx="228.99" cy="669.12" r="1.15" fill="#3090d8"/>
<circle cx="233.73" cy="671.58" r="1.15" fill="#3090d8"/>
<circle cx="245.12" cy="670.07" r="1.15" fill="#3090d8"/>
<circle cx="245.50" cy="663.80" r="1.15" fill="#3090d8"/>
<circle cx="247.77" cy="671.96" r="1.15" fill="#3090d8"/>
<circle cx="248.72" cy="656.21" r="1.15" fill="#3090d8"/>
<circle cx="251.76" cy="662.47" r="1.15" fill="#3090d8"/>
<circle cx="252.71" cy="646.34" r="1.15" fill="#3090d8"/>
<circle cx="256.50" cy="649.76" r="1.15" fill="#3090d8"/>
<circle cx="257.45" cy="651.66" r="1.15" fill="#3090d8"/>
<circle cx="263.15" cy="643.12" r="1.15" fill="#3090d8"/>
<circle cx="263.91" cy="623.57" r="1.15" fill="#3090d8"/>
<circle cx="268.27" cy="646.91" r="1.15" fill="#3090d8"/>
<circle cx="273.58" cy="658.68" r="1.15" fill="#3090d8"/>
<circle cx="277.38" cy="655.26" r="1.15" fill="#3090d8"/>
<circle cx="282.50" cy="655.83" r="1.15" fill="#3090d8"/>
<circle cx="327.67" cy="631.73" r="1.15" fill="#3090d8"/>
</g>
<rect x="201.40" y="599.50" width="126.60" height="93.80" fill="none" stroke="#a0a0a0" stroke-width="1.2"/>
<path d="M201.40,610.00h1.6M201.40,628.20h1.6M201.40,646.40h1.6M201.40,664.60h1.6M201.40,682.80h1.6M215.70,693.30v-1.6M230.30,693.30v-1.6M244.90,693.30v-1.6M259.50,693.30v-1.6M274.10,693.30v-1.6M288.70,693.30v-1.6M303.30,693.30v-1.6M317.90,693.30v-1.6" stroke="#8a8a8a" stroke-width="0.8" fill="none"/>
<text x="220.08" y="597.30" font-size="11.05" >EDSD vs OASIS</text>
<text x="204.81" y="611.80" font-size="12.2">r = 0.81, p < 0.001</text>
<text x="0" y="0" font-size="11" transform="translate(195.20,668.75) rotate(-90)">OASIS3</text>
<text x="247.79" y="709.40" font-size="11" >EDSD</text>
<text x="193.16" y="603.60" font-size="10.3" >1</text>
<text x="196.14" y="705.60" font-size="10.3" >0</text>
<text x="323.16" y="703.60" font-size="10.3" >1</text>
<clipPath id="clp6"><rect x="372.50" y="334.60" width="127.00" height="93.80"/></clipPath>
<g clip-path="url(#clp6)">
<path d="M372.50,399.37 L375.68,398.48 L378.85,397.59 L382.02,396.70 L385.20,395.80 L388.38,394.90 L391.55,394.00 L394.73,393.10 L397.90,392.19 L401.07,391.27 L404.25,390.35 L407.43,389.42 L410.60,388.48 L413.77,387.53 L416.95,386.56 L420.12,385.56 L423.30,384.52 L426.48,383.44 L429.65,382.30 L432.82,381.06 L436.00,379.70 L439.18,378.22 L442.35,376.59 L445.52,374.85 L448.70,373.01 L451.88,371.09 L455.05,369.13 L458.23,367.13 L461.40,365.10 L464.57,363.05 L467.75,360.98 L470.93,358.91 L474.10,356.82 L477.27,354.73 L480.45,352.63 L483.62,350.53 L486.80,348.42 L489.98,346.31 L493.15,344.20 L496.32,342.09 L499.50,339.97 L499.50,374.13 L496.32,374.83 L493.15,375.53 L489.98,376.23 L486.80,376.93 L483.62,377.64 L480.45,378.34 L477.27,379.04 L474.10,379.75 L470.93,380.46 L467.75,381.17 L464.57,381.88 L461.40,382.59 L458.23,383.31 L455.05,384.03 L451.88,384.75 L448.70,385.48 L445.52,386.22 L442.35,386.97 L439.18,387.73 L436.00,388.51 L432.82,389.32 L429.65,390.16 L426.48,391.06 L423.30,392.05 L420.12,393.17 L416.95,394.47 L413.77,395.99 L410.60,397.73 L407.43,399.65 L404.25,401.69 L401.07,403.80 L397.90,405.98 L394.73,408.18 L391.55,410.41 L388.38,412.66 L385.20,414.92 L382.02,417.19 L378.85,419.47 L375.68,421.76 L372.50,424.04Z" fill="#eee3f5"/>
<line x1="372.50" y1="412.66" x2="499.50" y2="352.50" stroke="#9844b8" stroke-width="0.9"/>
<circle cx="372.85" cy="390.26" r="1.15" fill="#9c4cc0"/>
<circle cx="383.66" cy="402.22" r="1.15" fill="#9c4cc0"/>
<circle cx="394.29" cy="403.74" r="1.15" fill="#9c4cc0"/>
<circle cx="394.67" cy="380.01" r="1.15" fill="#9c4cc0"/>
<circle cx="395.62" cy="383.81" r="1.15" fill="#9c4cc0"/>
<circle cx="396.57" cy="396.91" r="1.15" fill="#9c4cc0"/>
<circle cx="399.99" cy="403.17" r="1.15" fill="#9c4cc0"/>
<circle cx="399.99" cy="413.61" r="1.15" fill="#9c4cc0"/>
<circle cx="407.96" cy="392.73" r="1.15" fill="#9c4cc0"/>
<circle cx="410.23" cy="380.39" r="1.15" fill="#9c4cc0"/>
<circle cx="410.80" cy="420.63" r="1.15" fill="#9c4cc0"/>
<circle cx="411.75" cy="421.20" r="1.15" fill="#9c4cc0"/>
<circle cx="414.22" cy="394.63" r="1.15" fill="#9c4cc0"/>
<circle cx="417.82" cy="383.62" r="1.15" fill="#9c4cc0"/>
<circle cx="420.86" cy="376.22" r="1.15" fill="#9c4cc0"/>
<circle cx="421.62" cy="377.55" r="1.15" fill="#9c4cc0"/>
<circle cx="422.38" cy="391.40" r="1.15" fill="#9c4cc0"/>
<circle cx="422.76" cy="401.65" r="1.15" fill="#9c4cc0"/>
<circle cx="423.14" cy="404.69" r="1.15" fill="#9c4cc0"/>
<circle cx="424.09" cy="411.33" r="1.15" fill="#9c4cc0"/>
<circle cx="426.36" cy="378.88" r="1.15" fill="#9c4cc0"/>
<circle cx="429.21" cy="399.37" r="1.15" fill="#9c4cc0"/>
<circle cx="434.53" cy="390.83" r="1.15" fill="#9c4cc0"/>
<circle cx="436.80" cy="400.89" r="1.15" fill="#9c4cc0"/>
<circle cx="439.84" cy="375.65" r="1.15" fill="#9c4cc0"/>
<circle cx="440.22" cy="368.06" r="1.15" fill="#9c4cc0"/>
<circle cx="439.84" cy="379.82" r="1.15" fill="#9c4cc0"/>
<circle cx="454.83" cy="392.73" r="1.15" fill="#9c4cc0"/>
<circle cx="465.84" cy="371.47" r="1.15" fill="#9c4cc0"/>
<circle cx="485.39" cy="340.54" r="1.15" fill="#9c4cc0"/>
<circle cx="498.67" cy="346.23" r="1.15" fill="#9c4cc0"/>
</g>
<rect x="372.50" y="334.60" width="127.00" height="93.80" fill="none" stroke="#a0a0a0" stroke-width="1.2"/>
<path d="M372.50,347.10h1.6M372.50,358.50h1.6M372.50,369.90h1.6M372.50,381.30h1.6M372.50,392.70h1.6M372.50,404.10h1.6M372.50,415.50h1.6M388.20,428.40v-1.6M406.20,428.40v-1.6M424.20,428.40v-1.6M442.20,428.40v-1.6M460.20,428.40v-1.6M478.20,428.40v-1.6M496.20,428.40v-1.6" stroke="#8a8a8a" stroke-width="0.8" fill="none"/>
<text x="402.73" y="332.60" font-size="11.05" >ADNI vs AIBL</text>
<text x="377.71" y="346.80" font-size="12.2">r = 0.67, p < 0.001</text>
<text x="0" y="0" font-size="11" transform="translate(365.90,391.30) rotate(-90)">AIBL</text>
<text x="420.99" y="443.30" font-size="11" >ADNI</text>
<text x="363.36" y="340.50" font-size="10.3" >1</text>
<text x="367.24" y="437.50" font-size="10.3" >0</text>
<text x="495.46" y="437.00" font-size="10.3" >1</text>
<clipPath id="clp7"><rect x="544.00" y="334.60" width="126.50" height="93.80"/></clipPath>
<g clip-path="url(#clp7)">
<path d="M544.00,402.22 L547.16,401.30 L550.33,400.37 L553.49,399.44 L556.65,398.51 L559.81,397.57 L562.98,396.63 L566.14,395.68 L569.30,394.73 L572.46,393.76 L575.62,392.78 L578.79,391.79 L581.95,390.77 L585.11,389.72 L588.27,388.63 L591.44,387.49 L594.60,386.28 L597.76,384.99 L600.92,383.59 L604.09,382.09 L607.25,380.48 L610.41,378.79 L613.58,377.02 L616.74,375.20 L619.90,373.34 L623.06,371.45 L626.23,369.53 L629.39,367.60 L632.55,365.66 L635.71,363.70 L638.88,361.74 L642.04,359.77 L645.20,357.79 L648.36,355.81 L651.52,353.83 L654.69,351.84 L657.85,349.85 L661.01,347.86 L664.17,345.86 L667.34,343.87 L670.50,341.87 L670.50,378.50 L667.34,379.17 L664.17,379.84 L661.01,380.52 L657.85,381.19 L654.69,381.86 L651.52,382.54 L648.36,383.22 L645.20,383.89 L642.04,384.57 L638.88,385.25 L635.71,385.93 L632.55,386.61 L629.39,387.29 L626.23,387.98 L623.06,388.66 L619.90,389.35 L616.74,390.05 L613.58,390.74 L610.41,391.44 L607.25,392.15 L604.09,392.87 L600.92,393.59 L597.76,394.33 L594.60,395.09 L591.44,395.88 L588.27,396.70 L585.11,397.59 L581.95,398.56 L578.79,399.66 L575.62,400.95 L572.46,402.45 L569.30,404.15 L566.14,406.01 L562.98,407.99 L559.81,410.04 L556.65,412.15 L553.49,414.29 L550.33,416.45 L547.16,418.63 L544.00,420.82Z" fill="#eee3f5"/>
<line x1="544.00" y1="412.66" x2="670.50" y2="354.39" stroke="#9844b8" stroke-width="0.9"/>
<circle cx="544.23" cy="396.53" r="1.15" fill="#9c4cc0"/>
<circle cx="548.21" cy="404.12" r="1.15" fill="#9c4cc0"/>
<circle cx="552.77" cy="403.74" r="1.15" fill="#9c4cc0"/>
<circle cx="554.66" cy="406.96" r="1.15" fill="#9c4cc0"/>
<circle cx="561.50" cy="400.70" r="1.15" fill="#9c4cc0"/>
<circle cx="566.05" cy="380.01" r="1.15" fill="#9c4cc0"/>
<circle cx="567.00" cy="389.88" r="1.15" fill="#9c4cc0"/>
<circle cx="567.95" cy="403.17" r="1.15" fill="#9c4cc0"/>
<circle cx="571.36" cy="396.91" r="1.15" fill="#9c4cc0"/>
<circle cx="571.36" cy="405.64" r="1.15" fill="#9c4cc0"/>
<circle cx="579.91" cy="395.20" r="1.15" fill="#9c4cc0"/>
<circle cx="581.80" cy="381.34" r="1.15" fill="#9c4cc0"/>
<circle cx="583.13" cy="416.45" r="1.15" fill="#9c4cc0"/>
<circle cx="582.37" cy="424.42" r="1.15" fill="#9c4cc0"/>
<circle cx="585.98" cy="396.53" r="1.15" fill="#9c4cc0"/>
<circle cx="589.39" cy="380.01" r="1.15" fill="#9c4cc0"/>
<circle cx="591.86" cy="376.98" r="1.15" fill="#9c4cc0"/>
<circle cx="593.19" cy="374.13" r="1.15" fill="#9c4cc0"/>
<circle cx="593.76" cy="395.01" r="1.15" fill="#9c4cc0"/>
<circle cx="594.14" cy="408.48" r="1.15" fill="#9c4cc0"/>
<circle cx="594.71" cy="409.81" r="1.15" fill="#9c4cc0"/>
<circle cx="595.66" cy="411.33" r="1.15" fill="#9c4cc0"/>
<circle cx="597.55" cy="387.99" r="1.15" fill="#9c4cc0"/>
<circle cx="600.40" cy="410.19" r="1.15" fill="#9c4cc0"/>
<circle cx="605.53" cy="380.39" r="1.15" fill="#9c4cc0"/>
<circle cx="608.37" cy="394.06" r="1.15" fill="#9c4cc0"/>
<circle cx="610.84" cy="369.96" r="1.15" fill="#9c4cc0"/>
<circle cx="610.84" cy="406.58" r="1.15" fill="#9c4cc0"/>
<circle cx="611.79" cy="386.66" r="1.15" fill="#9c4cc0"/>
<circle cx="626.40" cy="385.14" r="1.15" fill="#9c4cc0"/>
<circle cx="637.41" cy="378.88" r="1.15" fill="#9c4cc0"/>
<circle cx="656.77" cy="342.44" r="1.15" fill="#9c4cc0"/>
<circle cx="670.05" cy="340.92" r="1.15" fill="#9c4cc0"/>
</g>
<rect x="544.00" y="334.60" width="126.50" height="93.80" fill="none" stroke="#a0a0a0" stroke-width="1.2"/>
<path d="M544.00,347.10h1.6M544.00,358.50h1.6M544.00,369.90h1.6M544.00,381.30h1.6M544.00,392.70h1.6M544.00,404.10h1.6M544.00,415.50h1.6M559.70,428.40v-1.6M577.70,428.40v-1.6M595.70,428.40v-1.6M613.70,428.40v-1.6M631.70,428.40v-1.6M649.70,428.40v-1.6M667.70,428.40v-1.6" stroke="#8a8a8a" stroke-width="0.8" fill="none"/>
<text x="569.63" y="332.60" font-size="11.05" >ADNI vs EDSD</text>
<text x="549.71" y="346.80" font-size="12.2">r = 0.66, p < 0.001</text>
<text x="0" y="0" font-size="11" transform="translate(538.10,393.91) rotate(-90)">EDSD</text>
<text x="592.59" y="443.30" font-size="11" >ADNI</text>
<text x="534.86" y="340.50" font-size="10.3" >1</text>
<text x="538.74" y="437.50" font-size="10.3" >0</text>
<text x="666.46" y="437.00" font-size="10.3" >1</text>
<clipPath id="clp8"><rect x="372.50" y="466.90" width="127.00" height="93.90"/></clipPath>
<g clip-path="url(#clp8)">
<path d="M372.50,530.80 L375.68,529.86 L378.85,528.92 L382.02,527.98 L385.20,527.04 L388.38,526.09 L391.55,525.15 L394.73,524.20 L397.90,523.25 L401.07,522.30 L404.25,521.34 L407.43,520.39 L410.60,519.42 L413.77,518.45 L416.95,517.47 L420.12,516.48 L423.30,515.48 L426.48,514.45 L429.65,513.39 L432.82,512.29 L436.00,511.12 L439.18,509.85 L442.35,508.44 L445.52,506.88 L448.70,505.16 L451.88,503.32 L455.05,501.39 L458.23,499.39 L461.40,497.36 L464.57,495.29 L467.75,493.21 L470.93,491.11 L474.10,489.01 L477.27,486.89 L480.45,484.77 L483.62,482.64 L486.80,480.51 L489.98,478.38 L493.15,476.25 L496.32,474.11 L499.50,471.97 L499.50,501.96 L496.32,502.75 L493.15,503.55 L489.98,504.35 L486.80,505.15 L483.62,505.95 L480.45,506.75 L477.27,507.55 L474.10,508.36 L470.93,509.16 L467.75,509.97 L464.57,510.77 L461.40,511.58 L458.23,512.40 L455.05,513.21 L451.88,514.03 L448.70,514.86 L445.52,515.70 L442.35,516.54 L439.18,517.40 L436.00,518.28 L432.82,519.20 L429.65,520.17 L426.48,521.22 L423.30,522.41 L420.12,523.81 L416.95,525.44 L413.77,527.29 L410.60,529.29 L407.43,531.39 L404.25,533.55 L401.07,535.74 L397.90,537.96 L394.73,540.19 L391.55,542.44 L388.38,544.70 L385.20,546.96 L382.02,549.22 L378.85,551.49 L375.68,553.77 L372.50,556.04Z" fill="#eee3f5"/>
<line x1="372.50" y1="544.66" x2="499.50" y2="482.98" stroke="#9844b8" stroke-width="0.9"/>
<circle cx="372.85" cy="524.73" r="1.15" fill="#9c4cc0"/>
<circle cx="389.93" cy="535.17" r="1.15" fill="#9c4cc0"/>
<circle cx="394.29" cy="514.29" r="1.15" fill="#9c4cc0"/>
<circle cx="395.24" cy="518.47" r="1.15" fill="#9c4cc0"/>
<circle cx="396.57" cy="532.70" r="1.15" fill="#9c4cc0"/>
<circle cx="399.99" cy="532.32" r="1.15" fill="#9c4cc0"/>
<circle cx="399.80" cy="554.72" r="1.15" fill="#9c4cc0"/>
<circle cx="407.96" cy="520.93" r="1.15" fill="#9c4cc0"/>
<circle cx="410.23" cy="511.82" r="1.15" fill="#9c4cc0"/>
<circle cx="410.80" cy="547.88" r="1.15" fill="#9c4cc0"/>
<circle cx="411.75" cy="548.83" r="1.15" fill="#9c4cc0"/>
<circle cx="414.22" cy="527.96" r="1.15" fill="#9c4cc0"/>
<circle cx="417.45" cy="524.35" r="1.15" fill="#9c4cc0"/>
<circle cx="420.86" cy="510.50" r="1.15" fill="#9c4cc0"/>
<circle cx="421.62" cy="506.32" r="1.15" fill="#9c4cc0"/>
<circle cx="422.38" cy="519.99" r="1.15" fill="#9c4cc0"/>
<circle cx="422.76" cy="521.31" r="1.15" fill="#9c4cc0"/>
<circle cx="422.76" cy="522.83" r="1.15" fill="#9c4cc0"/>
<circle cx="423.71" cy="536.69" r="1.15" fill="#9c4cc0"/>
<circle cx="426.18" cy="514.67" r="1.15" fill="#9c4cc0"/>
<circle cx="429.21" cy="533.27" r="1.15" fill="#9c4cc0"/>
<circle cx="434.15" cy="515.24" r="1.15" fill="#9c4cc0"/>
<circle cx="436.80" cy="527.96" r="1.15" fill="#9c4cc0"/>
<circle cx="439.46" cy="523.40" r="1.15" fill="#9c4cc0"/>
<circle cx="439.65" cy="510.12" r="1.15" fill="#9c4cc0"/>
<circle cx="440.60" cy="511.45" r="1.15" fill="#9c4cc0"/>
<circle cx="454.83" cy="518.09" r="1.15" fill="#9c4cc0"/>
<circle cx="465.84" cy="494.93" r="1.15" fill="#9c4cc0"/>
<circle cx="485.39" cy="481.46" r="1.15" fill="#9c4cc0"/>
<circle cx="461.09" cy="477.28" r="1.15" fill="#9c4cc0"/>
<circle cx="498.67" cy="474.44" r="1.15" fill="#9c4cc0"/>
</g>
<rect x="372.50" y="466.90" width="127.00" height="93.90" fill="none" stroke="#a0a0a0" stroke-width="1.2"/>
<path d="M372.50,479.40h1.6M372.50,490.80h1.6M372.50,502.20h1.6M372.50,513.60h1.6M372.50,525.00h1.6M372.50,536.40h1.6M372.50,547.80h1.6M388.20,560.80v-1.6M406.20,560.80v-1.6M424.20,560.80v-1.6M442.20,560.80v-1.6M460.20,560.80v-1.6M478.20,560.80v-1.6M496.20,560.80v-1.6" stroke="#8a8a8a" stroke-width="0.8" fill="none"/>
<text x="398.26" y="464.70" font-size="11.05" >ADNI vs OASIS</text>
<text x="376.21" y="481.10" font-size="12.2">r = 0.73, p < 0.001</text>
<text x="0" y="0" font-size="11" transform="translate(366.60,527.95) rotate(-90)">OASIS3</text>
<text x="420.99" y="576.00" font-size="11" >ADNI</text>
<text x="363.41" y="473.00" font-size="10.3" >1</text>
<text x="367.24" y="570.70" font-size="10.3" >0</text>
<text x="494.86" y="569.80" font-size="10.3" >1</text>
<clipPath id="clp9"><rect x="544.00" y="466.90" width="126.50" height="93.90"/></clipPath>
<g clip-path="url(#clp9)">
<path d="M544.00,540.86 L547.16,539.47 L550.33,538.07 L553.49,536.67 L556.65,535.27 L559.81,533.87 L562.98,532.47 L566.14,531.07 L569.30,529.66 L572.46,528.25 L575.62,526.84 L578.79,525.42 L581.95,524.00 L585.11,522.57 L588.27,521.13 L591.44,519.68 L594.60,518.21 L597.76,516.72 L600.92,515.21 L604.09,513.65 L607.25,512.04 L610.41,510.37 L613.58,508.63 L616.74,506.83 L619.90,504.96 L623.06,503.05 L626.23,501.10 L629.39,499.12 L632.55,497.12 L635.71,495.10 L638.88,493.08 L642.04,491.04 L645.20,489.00 L648.36,486.95 L651.52,484.90 L654.69,482.85 L657.85,480.79 L661.01,478.73 L664.17,476.67 L667.34,474.61 L670.50,472.54 L670.50,496.26 L667.34,497.41 L664.17,498.56 L661.01,499.71 L657.85,500.86 L654.69,502.01 L651.52,503.16 L648.36,504.31 L645.20,505.47 L642.04,506.62 L638.88,507.77 L635.71,508.92 L632.55,510.08 L629.39,511.23 L626.23,512.39 L623.06,513.55 L619.90,514.71 L616.74,515.87 L613.58,517.03 L610.41,518.20 L607.25,519.37 L604.09,520.55 L600.92,521.74 L597.76,522.94 L594.60,524.15 L591.44,525.39 L588.27,526.67 L585.11,528.02 L581.95,529.48 L578.79,531.11 L575.62,532.93 L572.46,534.93 L569.30,537.03 L566.14,539.21 L562.98,541.43 L559.81,543.68 L556.65,545.95 L553.49,548.22 L550.33,550.51 L547.16,552.80 L544.00,555.09Z" fill="#eee3f5"/>
<line x1="544.00" y1="548.45" x2="670.50" y2="479.18" stroke="#9844b8" stroke-width="0.9"/>
<circle cx="544.42" cy="534.60" r="1.15" fill="#9c4cc0"/>
<circle cx="548.97" cy="534.79" r="1.15" fill="#9c4cc0"/>
<circle cx="556.56" cy="536.50" r="1.15" fill="#9c4cc0"/>
<circle cx="565.29" cy="531.75" r="1.15" fill="#9c4cc0"/>
<circle cx="571.36" cy="549.97" r="1.15" fill="#9c4cc0"/>
<circle cx="572.88" cy="527.96" r="1.15" fill="#9c4cc0"/>
<circle cx="574.21" cy="537.07" r="1.15" fill="#9c4cc0"/>
<circle cx="575.16" cy="538.39" r="1.15" fill="#9c4cc0"/>
<circle cx="575.92" cy="525.11" r="1.15" fill="#9c4cc0"/>
<circle cx="578.01" cy="540.86" r="1.15" fill="#9c4cc0"/>
<circle cx="582.37" cy="534.22" r="1.15" fill="#9c4cc0"/>
<circle cx="585.79" cy="527.20" r="1.15" fill="#9c4cc0"/>
<circle cx="589.01" cy="516.57" r="1.15" fill="#9c4cc0"/>
<circle cx="589.39" cy="525.68" r="1.15" fill="#9c4cc0"/>
<circle cx="591.29" cy="526.25" r="1.15" fill="#9c4cc0"/>
<circle cx="591.86" cy="511.82" r="1.15" fill="#9c4cc0"/>
<circle cx="593.00" cy="527.58" r="1.15" fill="#9c4cc0"/>
<circle cx="602.68" cy="520.93" r="1.15" fill="#9c4cc0"/>
<circle cx="603.06" cy="511.45" r="1.15" fill="#9c4cc0"/>
<circle cx="608.37" cy="512.39" r="1.15" fill="#9c4cc0"/>
<circle cx="608.75" cy="511.45" r="1.15" fill="#9c4cc0"/>
<circle cx="609.32" cy="537.45" r="1.15" fill="#9c4cc0"/>
<circle cx="610.84" cy="519.04" r="1.15" fill="#9c4cc0"/>
<circle cx="612.74" cy="505.75" r="1.15" fill="#9c4cc0"/>
<circle cx="615.01" cy="508.22" r="1.15" fill="#9c4cc0"/>
<circle cx="615.96" cy="501.58" r="1.15" fill="#9c4cc0"/>
<circle cx="622.23" cy="510.50" r="1.15" fill="#9c4cc0"/>
<circle cx="627.35" cy="518.09" r="1.15" fill="#9c4cc0"/>
<circle cx="661.51" cy="473.11" r="1.15" fill="#9c4cc0"/>
<circle cx="664.74" cy="471.21" r="1.15" fill="#9c4cc0"/>
<circle cx="670.05" cy="474.44" r="1.15" fill="#9c4cc0"/>
</g>
<rect x="544.00" y="466.90" width="126.50" height="93.90" fill="none" stroke="#a0a0a0" stroke-width="1.2"/>
<path d="M544.00,479.40h1.6M544.00,490.80h1.6M544.00,502.20h1.6M544.00,513.60h1.6M544.00,525.00h1.6M544.00,536.40h1.6M544.00,547.80h1.6M559.70,560.80v-1.6M577.70,560.80v-1.6M595.70,560.80v-1.6M613.70,560.80v-1.6M631.70,560.80v-1.6M649.70,560.80v-1.6M667.70,560.80v-1.6" stroke="#8a8a8a" stroke-width="0.8" fill="none"/>
<text x="570.33" y="464.70" font-size="11.05" >AIBL vs EDSD</text>
<text x="547.81" y="479.20" font-size="12.2">r = 0.86, p < 0.001</text>
<text x="0" y="0" font-size="11" transform="translate(538.10,523.16) rotate(-90)">EDSD</text>
<text x="593.00" y="576.00" font-size="11" >AIBL</text>
<text x="534.91" y="473.00" font-size="10.3" >1</text>
<text x="538.74" y="570.70" font-size="10.3" >0</text>
<text x="665.86" y="569.80" font-size="10.3" >1</text>
<clipPath id="clp10"><rect x="372.50" y="599.50" width="127.00" height="93.80"/></clipPath>
<g clip-path="url(#clp10)">
<path d="M372.50,678.61 L375.68,677.09 L378.85,675.57 L382.02,674.05 L385.20,672.52 L388.38,670.99 L391.55,669.44 L394.73,667.89 L397.90,666.33 L401.07,664.75 L404.25,663.15 L407.43,661.52 L410.60,659.84 L413.77,658.12 L416.95,656.35 L420.12,654.53 L423.30,652.66 L426.48,650.75 L429.65,648.82 L432.82,646.86 L436.00,644.89 L439.18,642.91 L442.35,640.92 L445.52,638.92 L448.70,636.92 L451.88,634.91 L455.05,632.90 L458.23,630.88 L461.40,628.87 L464.57,626.85 L467.75,624.83 L470.93,622.81 L474.10,620.79 L477.27,618.77 L480.45,616.74 L483.62,614.72 L486.80,612.69 L489.98,610.67 L493.15,608.64 L496.32,606.62 L499.50,604.59 L499.50,619.77 L496.32,621.23 L493.15,622.69 L489.98,624.15 L486.80,625.61 L483.62,627.07 L480.45,628.54 L477.27,630.00 L474.10,631.46 L470.93,632.93 L467.75,634.39 L464.57,635.86 L461.40,637.33 L458.23,638.80 L455.05,640.27 L451.88,641.75 L448.70,643.23 L445.52,644.71 L442.35,646.21 L439.18,647.71 L436.00,649.22 L432.82,650.76 L429.65,652.31 L426.48,653.91 L423.30,655.55 L420.12,657.26 L416.95,659.04 L413.77,660.88 L410.60,662.79 L407.43,664.74 L404.25,666.72 L401.07,668.72 L397.90,670.74 L394.73,672.77 L391.55,674.81 L388.38,676.86 L385.20,678.91 L382.02,680.97 L378.85,683.02 L375.68,685.08 L372.50,687.15Z" fill="#eee3f5"/>
<line x1="372.50" y1="682.40" x2="499.50" y2="611.80" stroke="#9844b8" stroke-width="0.9"/>
<circle cx="372.85" cy="680.50" r="1.15" fill="#9c4cc0"/>
<circle cx="378.16" cy="666.27" r="1.15" fill="#9c4cc0"/>
<circle cx="380.06" cy="686.77" r="1.15" fill="#9c4cc0"/>
<circle cx="381.77" cy="678.61" r="1.15" fill="#9c4cc0"/>
<circle cx="383.28" cy="689.04" r="1.15" fill="#9c4cc0"/>
<circle cx="384.61" cy="662.09" r="1.15" fill="#9c4cc0"/>
<circle cx="385.56" cy="672.34" r="1.15" fill="#9c4cc0"/>
<circle cx="388.03" cy="678.99" r="1.15" fill="#9c4cc0"/>
<circle cx="393.34" cy="678.23" r="1.15" fill="#9c4cc0"/>
<circle cx="397.52" cy="672.34" r="1.15" fill="#9c4cc0"/>
<circle cx="401.31" cy="663.99" r="1.15" fill="#9c4cc0"/>
<circle cx="401.69" cy="660.20" r="1.15" fill="#9c4cc0"/>
<circle cx="403.78" cy="664.37" r="1.15" fill="#9c4cc0"/>
<circle cx="404.73" cy="656.78" r="1.15" fill="#9c4cc0"/>
<circle cx="405.68" cy="668.55" r="1.15" fill="#9c4cc0"/>
<circle cx="417.82" cy="660.58" r="1.15" fill="#9c4cc0"/>
<circle cx="418.39" cy="668.17" r="1.15" fill="#9c4cc0"/>
<circle cx="424.09" cy="652.61" r="1.15" fill="#9c4cc0"/>
<circle cx="424.66" cy="655.83" r="1.15" fill="#9c4cc0"/>
<circle cx="425.61" cy="666.84" r="1.15" fill="#9c4cc0"/>
<circle cx="427.31" cy="655.83" r="1.15" fill="#9c4cc0"/>
<circle cx="429.78" cy="645.77" r="1.15" fill="#9c4cc0"/>
<circle cx="432.63" cy="650.52" r="1.15" fill="#9c4cc0"/>
<circle cx="433.96" cy="650.71" r="1.15" fill="#9c4cc0"/>
<circle cx="441.17" cy="631.73" r="1.15" fill="#9c4cc0"/>
<circle cx="446.86" cy="652.42" r="1.15" fill="#9c4cc0"/>
<circle cx="488.04" cy="606.11" r="1.15" fill="#9c4cc0"/>
<circle cx="492.41" cy="610.66" r="1.15" fill="#9c4cc0"/>
<circle cx="498.67" cy="615.03" r="1.15" fill="#9c4cc0"/>
</g>
<rect x="372.50" y="599.50" width="127.00" height="93.80" fill="none" stroke="#a0a0a0" stroke-width="1.2"/>
<path d="M372.50,612.00h1.6M372.50,623.40h1.6M372.50,634.80h1.6M372.50,646.20h1.6M372.50,657.60h1.6M372.50,669.00h1.6M372.50,680.40h1.6M388.20,693.30v-1.6M406.20,693.30v-1.6M424.20,693.30v-1.6M442.20,693.30v-1.6M460.20,693.30v-1.6M478.20,693.30v-1.6M496.20,693.30v-1.6" stroke="#8a8a8a" stroke-width="0.8" fill="none"/>
<text x="398.98" y="597.30" font-size="11.05" >AIBL vs OASIS</text>
<text x="376.21" y="611.80" font-size="12.2">r = 0.93, p < 0.001</text>
<text x="0" y="0" font-size="11" transform="translate(366.60,668.75) rotate(-90)">OASIS3</text>
<text x="421.40" y="709.40" font-size="11" >AIBL</text>
<text x="364.26" y="603.60" font-size="10.3" >1</text>
<text x="367.24" y="705.60" font-size="10.3" >0</text>
<text x="494.66" y="703.60" font-size="10.3" >1</text>
<clipPath id="clp11"><rect x="544.00" y="599.50" width="126.50" height="93.80"/></clipPath>
<g clip-path="url(#clp11)">
<path d="M544.00,662.47 L547.16,661.32 L550.33,660.17 L553.49,659.01 L556.65,657.86 L559.81,656.70 L562.98,655.54 L566.14,654.38 L569.30,653.21 L572.46,652.05 L575.62,650.88 L578.79,649.70 L581.95,648.52 L585.11,647.33 L588.27,646.12 L591.44,644.90 L594.60,643.65 L597.76,642.37 L600.92,641.03 L604.09,639.64 L607.25,638.17 L610.41,636.63 L613.58,635.02 L616.74,633.38 L619.90,631.69 L623.06,629.99 L626.23,628.27 L629.39,626.54 L632.55,624.79 L635.71,623.05 L638.88,621.29 L642.04,619.54 L645.20,617.78 L648.36,616.02 L651.52,614.25 L654.69,612.49 L657.85,610.72 L661.01,608.95 L664.17,607.18 L667.34,605.41 L670.50,603.64 L670.50,618.26 L667.34,619.39 L664.17,620.52 L661.01,621.65 L657.85,622.78 L654.69,623.92 L651.52,625.05 L648.36,626.19 L645.20,627.32 L642.04,628.46 L638.88,629.60 L635.71,630.74 L632.55,631.88 L629.39,633.03 L626.23,634.18 L623.06,635.34 L619.90,636.50 L616.74,637.67 L613.58,638.85 L610.41,640.05 L607.25,641.28 L604.09,642.54 L600.92,643.85 L597.76,645.23 L594.60,646.70 L591.44,648.24 L588.27,649.85 L585.11,651.52 L581.95,653.22 L578.79,654.94 L575.62,656.68 L572.46,658.44 L569.30,660.20 L566.14,661.97 L562.98,663.74 L559.81,665.51 L556.65,667.29 L553.49,669.08 L550.33,670.86 L547.16,672.64 L544.00,674.43Z" fill="#eee3f5"/>
<line x1="544.00" y1="668.74" x2="670.50" y2="610.28" stroke="#9844b8" stroke-width="0.9"/>
<circle cx="544.23" cy="663.04" r="1.15" fill="#9c4cc0"/>
<circle cx="546.12" cy="653.36" r="1.15" fill="#9c4cc0"/>
<circle cx="548.02" cy="650.14" r="1.15" fill="#9c4cc0"/>
<circle cx="550.49" cy="653.55" r="1.15" fill="#9c4cc0"/>
<circle cx="550.87" cy="670.45" r="1.15" fill="#9c4cc0"/>
<circle cx="552.01" cy="682.97" r="1.15" fill="#9c4cc0"/>
<circle cx="554.85" cy="688.09" r="1.15" fill="#9c4cc0"/>
<circle cx="555.80" cy="678.99" r="1.15" fill="#9c4cc0"/>
<circle cx="557.13" cy="662.47" r="1.15" fill="#9c4cc0"/>
<circle cx="560.55" cy="664.37" r="1.15" fill="#9c4cc0"/>
<circle cx="567.57" cy="662.85" r="1.15" fill="#9c4cc0"/>
<circle cx="568.14" cy="654.88" r="1.15" fill="#9c4cc0"/>
<circle cx="568.52" cy="657.73" r="1.15" fill="#9c4cc0"/>
<circle cx="570.42" cy="651.66" r="1.15" fill="#9c4cc0"/>
<circle cx="570.99" cy="652.04" r="1.15" fill="#9c4cc0"/>
<circle cx="572.88" cy="657.73" r="1.15" fill="#9c4cc0"/>
<circle cx="579.91" cy="648.81" r="1.15" fill="#9c4cc0"/>
<circle cx="583.70" cy="645.39" r="1.15" fill="#9c4cc0"/>
<circle cx="585.60" cy="642.93" r="1.15" fill="#9c4cc0"/>
<circle cx="588.07" cy="648.24" r="1.15" fill="#9c4cc0"/>
<circle cx="595.09" cy="642.93" r="1.15" fill="#9c4cc0"/>
<circle cx="596.61" cy="645.96" r="1.15" fill="#9c4cc0"/>
<circle cx="596.99" cy="644.82" r="1.15" fill="#9c4cc0"/>
<circle cx="597.18" cy="654.50" r="1.15" fill="#9c4cc0"/>
<circle cx="597.93" cy="645.39" r="1.15" fill="#9c4cc0"/>
<circle cx="598.88" cy="627.36" r="1.15" fill="#9c4cc0"/>
<circle cx="602.68" cy="641.98" r="1.15" fill="#9c4cc0"/>
<circle cx="607.42" cy="637.80" r="1.15" fill="#9c4cc0"/>
<circle cx="615.01" cy="641.98" r="1.15" fill="#9c4cc0"/>
<circle cx="663.98" cy="615.03" r="1.15" fill="#9c4cc0"/>
<circle cx="665.88" cy="608.01" r="1.15" fill="#9c4cc0"/>
<circle cx="669.67" cy="611.23" r="1.15" fill="#9c4cc0"/>
</g>
<rect x="544.00" y="599.50" width="126.50" height="93.80" fill="none" stroke="#a0a0a0" stroke-width="1.2"/>
<path d="M544.00,612.00h1.6M544.00,623.40h1.6M544.00,634.80h1.6M544.00,646.20h1.6M544.00,657.60h1.6M544.00,669.00h1.6M544.00,680.40h1.6M559.70,693.30v-1.6M577.70,693.30v-1.6M595.70,693.30v-1.6M613.70,693.30v-1.6M631.70,693.30v-1.6M649.70,693.30v-1.6M667.70,693.30v-1.6" stroke="#8a8a8a" stroke-width="0.8" fill="none"/>
<text x="565.68" y="597.30" font-size="11.05" >EDSD vs OASIS</text>
<text x="548.71" y="612.20" font-size="12.2">r = 0.87, p < 0.001</text>
<text x="0" y="0" font-size="11" transform="translate(538.10,668.75) rotate(-90)">OASIS3</text>
<text x="590.39" y="709.40" font-size="11" >EDSD</text>
<text x="535.76" y="603.60" font-size="10.3" >1</text>
<text x="538.74" y="705.60" font-size="10.3" >0</text>
<text x="665.66" y="703.60" font-size="10.3" >1</text>
</svg></body></html>
